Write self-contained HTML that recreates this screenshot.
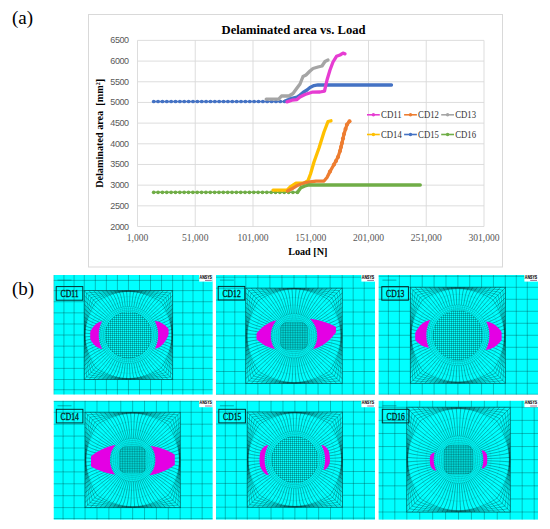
<!DOCTYPE html>
<html><head><meta charset="utf-8"><style>
html,body{margin:0;padding:0;background:#fff;}
body{width:550px;height:529px;overflow:hidden;position:relative;}
svg{display:block;}
.yt{font-family:"Liberation Sans",sans-serif;font-size:9px;letter-spacing:-0.45px;fill:#595959;}
.xt{font-family:"Liberation Serif",serif;font-size:9.6px;fill:#595959;}
.ti{font-family:"Liberation Serif",serif;font-size:13px;font-weight:bold;fill:#000;}
.al{font-family:"Liberation Serif",serif;font-size:10.2px;font-weight:bold;fill:#000;}
.lg{font-family:"Liberation Serif",serif;font-size:10px;fill:#333;}
.lab{font-family:"Liberation Serif",serif;font-size:19px;fill:#000;}
.pl{font-family:"Liberation Serif",serif;font-size:10px;fill:#082020;}
.an{font-family:"Liberation Sans",sans-serif;font-size:4.8px;font-weight:bold;fill:#000;}
</style></head><body>
<svg width="550" height="529" viewBox="0 0 550 529" style="position:absolute;left:0;top:0"><defs><filter id="bl" x="-5%" y="-5%" width="110%" height="110%"><feGaussianBlur stdDeviation="0.35"/></filter></defs>
<text x="12" y="24.4" class="lab">(a)</text>
<text x="12" y="294.8" class="lab">(b)</text>
<rect x="88.5" y="14.5" width="414" height="252.5" fill="#fff" stroke="#D9D9D9" stroke-width="1"/><line x1="137.5" x2="484.0" y1="226.50" y2="226.50" stroke="#D9D9D9" stroke-width="0.9"/><text x="128.6" y="229.50" text-anchor="end" class="yt">2000</text><line x1="137.5" x2="484.0" y1="205.82" y2="205.82" stroke="#D9D9D9" stroke-width="0.9"/><text x="128.6" y="208.82" text-anchor="end" class="yt">2500</text><line x1="137.5" x2="484.0" y1="185.14" y2="185.14" stroke="#D9D9D9" stroke-width="0.9"/><text x="128.6" y="188.14" text-anchor="end" class="yt">3000</text><line x1="137.5" x2="484.0" y1="164.47" y2="164.47" stroke="#D9D9D9" stroke-width="0.9"/><text x="128.6" y="167.47" text-anchor="end" class="yt">3500</text><line x1="137.5" x2="484.0" y1="143.79" y2="143.79" stroke="#D9D9D9" stroke-width="0.9"/><text x="128.6" y="146.79" text-anchor="end" class="yt">4000</text><line x1="137.5" x2="484.0" y1="123.11" y2="123.11" stroke="#D9D9D9" stroke-width="0.9"/><text x="128.6" y="126.11" text-anchor="end" class="yt">4500</text><line x1="137.5" x2="484.0" y1="102.43" y2="102.43" stroke="#D9D9D9" stroke-width="0.9"/><text x="128.6" y="105.43" text-anchor="end" class="yt">5000</text><line x1="137.5" x2="484.0" y1="81.76" y2="81.76" stroke="#D9D9D9" stroke-width="0.9"/><text x="128.6" y="84.76" text-anchor="end" class="yt">5500</text><line x1="137.5" x2="484.0" y1="61.08" y2="61.08" stroke="#D9D9D9" stroke-width="0.9"/><text x="128.6" y="64.08" text-anchor="end" class="yt">6000</text><line x1="137.5" x2="484.0" y1="40.40" y2="40.40" stroke="#D9D9D9" stroke-width="0.9"/><text x="128.6" y="43.40" text-anchor="end" class="yt">6500</text><line x1="137.50" x2="137.50" y1="40.4" y2="226.5" stroke="#D9D9D9" stroke-width="0.9"/><text x="137.50" y="241" text-anchor="middle" class="xt">1,000</text><line x1="195.25" x2="195.25" y1="40.4" y2="226.5" stroke="#D9D9D9" stroke-width="0.9"/><text x="195.25" y="241" text-anchor="middle" class="xt">51,000</text><line x1="253.00" x2="253.00" y1="40.4" y2="226.5" stroke="#D9D9D9" stroke-width="0.9"/><text x="253.00" y="241" text-anchor="middle" class="xt">101,000</text><line x1="310.75" x2="310.75" y1="40.4" y2="226.5" stroke="#D9D9D9" stroke-width="0.9"/><text x="310.75" y="241" text-anchor="middle" class="xt">151,000</text><line x1="368.50" x2="368.50" y1="40.4" y2="226.5" stroke="#D9D9D9" stroke-width="0.9"/><text x="368.50" y="241" text-anchor="middle" class="xt">201,000</text><line x1="426.25" x2="426.25" y1="40.4" y2="226.5" stroke="#D9D9D9" stroke-width="0.9"/><text x="426.25" y="241" text-anchor="middle" class="xt">251,000</text><line x1="484.00" x2="484.00" y1="40.4" y2="226.5" stroke="#D9D9D9" stroke-width="0.9"/><text x="484.00" y="241" text-anchor="middle" class="xt">301,000</text><text x="293.6" y="33.9" text-anchor="middle" class="ti" textLength="144" lengthAdjust="spacingAndGlyphs">Delaminated area vs. Load</text><text x="307.8" y="254.6" text-anchor="middle" class="al">Load [N]</text><text transform="translate(103.4,133.4) rotate(-90)" text-anchor="middle" class="al">Delaminated area&#160; [mm<tspan font-size="6" dy="-3">2</tspan><tspan dy="3">]</tspan></text><line x1="153.7" x2="284.7" y1="101.5" y2="101.5" stroke="#4472C4" stroke-width="1.6"/><circle cx="153.70" cy="101.5" r="1.85" fill="#4472C4"/><circle cx="158.07" cy="101.5" r="1.85" fill="#4472C4"/><circle cx="162.43" cy="101.5" r="1.85" fill="#4472C4"/><circle cx="166.80" cy="101.5" r="1.85" fill="#4472C4"/><circle cx="171.17" cy="101.5" r="1.85" fill="#4472C4"/><circle cx="175.53" cy="101.5" r="1.85" fill="#4472C4"/><circle cx="179.90" cy="101.5" r="1.85" fill="#4472C4"/><circle cx="184.27" cy="101.5" r="1.85" fill="#4472C4"/><circle cx="188.63" cy="101.5" r="1.85" fill="#4472C4"/><circle cx="193.00" cy="101.5" r="1.85" fill="#4472C4"/><circle cx="197.37" cy="101.5" r="1.85" fill="#4472C4"/><circle cx="201.73" cy="101.5" r="1.85" fill="#4472C4"/><circle cx="206.10" cy="101.5" r="1.85" fill="#4472C4"/><circle cx="210.47" cy="101.5" r="1.85" fill="#4472C4"/><circle cx="214.83" cy="101.5" r="1.85" fill="#4472C4"/><circle cx="219.20" cy="101.5" r="1.85" fill="#4472C4"/><circle cx="223.57" cy="101.5" r="1.85" fill="#4472C4"/><circle cx="227.93" cy="101.5" r="1.85" fill="#4472C4"/><circle cx="232.30" cy="101.5" r="1.85" fill="#4472C4"/><circle cx="236.67" cy="101.5" r="1.85" fill="#4472C4"/><circle cx="241.03" cy="101.5" r="1.85" fill="#4472C4"/><circle cx="245.40" cy="101.5" r="1.85" fill="#4472C4"/><circle cx="249.77" cy="101.5" r="1.85" fill="#4472C4"/><circle cx="254.13" cy="101.5" r="1.85" fill="#4472C4"/><circle cx="258.50" cy="101.5" r="1.85" fill="#4472C4"/><circle cx="262.87" cy="101.5" r="1.85" fill="#4472C4"/><circle cx="267.23" cy="101.5" r="1.85" fill="#4472C4"/><circle cx="271.60" cy="101.5" r="1.85" fill="#4472C4"/><circle cx="275.97" cy="101.5" r="1.85" fill="#4472C4"/><circle cx="280.33" cy="101.5" r="1.85" fill="#4472C4"/><circle cx="284.70" cy="101.5" r="1.85" fill="#4472C4"/><line x1="153.7" x2="297.3" y1="192.3" y2="192.3" stroke="#70AD47" stroke-width="1.6"/><circle cx="153.70" cy="192.3" r="1.85" fill="#70AD47"/><circle cx="158.05" cy="192.3" r="1.85" fill="#70AD47"/><circle cx="162.40" cy="192.3" r="1.85" fill="#70AD47"/><circle cx="166.75" cy="192.3" r="1.85" fill="#70AD47"/><circle cx="171.11" cy="192.3" r="1.85" fill="#70AD47"/><circle cx="175.46" cy="192.3" r="1.85" fill="#70AD47"/><circle cx="179.81" cy="192.3" r="1.85" fill="#70AD47"/><circle cx="184.16" cy="192.3" r="1.85" fill="#70AD47"/><circle cx="188.51" cy="192.3" r="1.85" fill="#70AD47"/><circle cx="192.86" cy="192.3" r="1.85" fill="#70AD47"/><circle cx="197.22" cy="192.3" r="1.85" fill="#70AD47"/><circle cx="201.57" cy="192.3" r="1.85" fill="#70AD47"/><circle cx="205.92" cy="192.3" r="1.85" fill="#70AD47"/><circle cx="210.27" cy="192.3" r="1.85" fill="#70AD47"/><circle cx="214.62" cy="192.3" r="1.85" fill="#70AD47"/><circle cx="218.97" cy="192.3" r="1.85" fill="#70AD47"/><circle cx="223.32" cy="192.3" r="1.85" fill="#70AD47"/><circle cx="227.68" cy="192.3" r="1.85" fill="#70AD47"/><circle cx="232.03" cy="192.3" r="1.85" fill="#70AD47"/><circle cx="236.38" cy="192.3" r="1.85" fill="#70AD47"/><circle cx="240.73" cy="192.3" r="1.85" fill="#70AD47"/><circle cx="245.08" cy="192.3" r="1.85" fill="#70AD47"/><circle cx="249.43" cy="192.3" r="1.85" fill="#70AD47"/><circle cx="253.78" cy="192.3" r="1.85" fill="#70AD47"/><circle cx="258.14" cy="192.3" r="1.85" fill="#70AD47"/><circle cx="262.49" cy="192.3" r="1.85" fill="#70AD47"/><circle cx="266.84" cy="192.3" r="1.85" fill="#70AD47"/><circle cx="271.19" cy="192.3" r="1.85" fill="#70AD47"/><circle cx="275.54" cy="192.3" r="1.85" fill="#70AD47"/><circle cx="279.89" cy="192.3" r="1.85" fill="#70AD47"/><circle cx="284.25" cy="192.3" r="1.85" fill="#70AD47"/><circle cx="288.60" cy="192.3" r="1.85" fill="#70AD47"/><circle cx="292.95" cy="192.3" r="1.85" fill="#70AD47"/><circle cx="297.30" cy="192.3" r="1.85" fill="#70AD47"/><polyline points="266.2,99.2 278.7,99.2 281.5,96.0 289.0,96.0 293.0,93.5 297.0,88.0 300.0,84.0 303.0,76.5 306.0,75.0 310.0,71.0 313.0,68.5 318.0,67.0 322.0,66.0 325.0,61.5 328.0,60.0" fill="none" stroke="#A5A5A5" stroke-width="3.3" stroke-linejoin="round" stroke-linecap="round"/><polyline points="284.7,101.3 288.0,99.8 292.0,98.3 297.0,97.0 300.0,95.0 303.0,92.5 307.0,90.0 310.0,87.5 314.0,85.6 318.0,84.9 325.0,85.0 391.5,85.0" fill="none" stroke="#4472C4" stroke-width="3.3" stroke-linejoin="round" stroke-linecap="round"/><polyline points="287.0,101.9 292.0,100.2 297.0,99.6 300.0,97.0 305.0,94.5 312.0,92.2 320.0,92.0 324.5,91.2 327.0,80.0 330.0,70.0 333.0,62.0 336.5,56.3 340.0,55.0 343.0,53.2 345.0,53.8" fill="none" stroke="#E63CD2" stroke-width="3.3" stroke-linejoin="round" stroke-linecap="round"/><polyline points="273.0,190.1 287.0,190.1 291.0,186.3 296.0,183.2 304.0,183.2 308.0,180.5 310.5,174.0 314.0,162.0 319.0,148.0 324.0,132.0 328.0,121.5 331.0,120.8" fill="none" stroke="#FFC000" stroke-width="3.3" stroke-linejoin="round" stroke-linecap="round"/><polyline points="287.5,191.0 293.0,188.2 298.0,185.2 304.0,183.0 310.0,182.0 316.0,181.2 324.0,181.0 327.0,177.5 330.0,171.5 334.0,164.5 338.0,157.0 340.0,151.0 342.0,143.0 344.0,134.0 347.0,124.5 349.5,121.3" fill="none" stroke="#ED7D31" stroke-width="3.3" stroke-linejoin="round" stroke-linecap="round"/><circle cx="330" cy="171.5" r="2.05" fill="#ED7D31"/><circle cx="334" cy="164.5" r="2.05" fill="#ED7D31"/><circle cx="338" cy="157" r="2.05" fill="#ED7D31"/><circle cx="340" cy="151" r="2.05" fill="#ED7D31"/><circle cx="342" cy="143" r="2.05" fill="#ED7D31"/><circle cx="344" cy="134" r="2.05" fill="#ED7D31"/><circle cx="347" cy="124.5" r="2.05" fill="#ED7D31"/><circle cx="349.5" cy="121.3" r="2.05" fill="#ED7D31"/><circle cx="336" cy="161" r="2.05" fill="#ED7D31"/><circle cx="341" cy="147" r="2.05" fill="#ED7D31"/><circle cx="343" cy="138.5" r="2.05" fill="#ED7D31"/><circle cx="345.5" cy="129" r="2.05" fill="#ED7D31"/><polyline points="297.5,192.2 301.0,187.6 305.0,186.0 309.0,185.0 420.3,185.0" fill="none" stroke="#70AD47" stroke-width="3.3" stroke-linejoin="round" stroke-linecap="round"/><line x1="367.0" x2="379.8" y1="114.8" y2="114.8" stroke="#E63CD2" stroke-width="1.6"/><circle cx="373.4" cy="114.8" r="1.7" fill="#E63CD2"/><text x="381.0" y="118.2" class="lg" textLength="20.8" lengthAdjust="spacingAndGlyphs">CD11</text><line x1="404.1" x2="416.90000000000003" y1="114.8" y2="114.8" stroke="#ED7D31" stroke-width="1.6"/><circle cx="410.5" cy="114.8" r="1.7" fill="#ED7D31"/><text x="418.1" y="118.2" class="lg" textLength="20.8" lengthAdjust="spacingAndGlyphs">CD12</text><line x1="441.2" x2="454.0" y1="114.8" y2="114.8" stroke="#A5A5A5" stroke-width="1.6"/><circle cx="447.59999999999997" cy="114.8" r="1.7" fill="#A5A5A5"/><text x="455.2" y="118.2" class="lg" textLength="20.8" lengthAdjust="spacingAndGlyphs">CD13</text><line x1="367.0" x2="379.8" y1="134.5" y2="134.5" stroke="#FFC000" stroke-width="1.6"/><circle cx="373.4" cy="134.5" r="1.7" fill="#FFC000"/><text x="381.0" y="137.9" class="lg" textLength="20.8" lengthAdjust="spacingAndGlyphs">CD14</text><line x1="404.1" x2="416.90000000000003" y1="134.5" y2="134.5" stroke="#4472C4" stroke-width="1.6"/><circle cx="410.5" cy="134.5" r="1.7" fill="#4472C4"/><text x="418.1" y="137.9" class="lg" textLength="20.8" lengthAdjust="spacingAndGlyphs">CD15</text><line x1="441.2" x2="454.0" y1="134.5" y2="134.5" stroke="#70AD47" stroke-width="1.6"/><circle cx="447.59999999999997" cy="134.5" r="1.7" fill="#70AD47"/><text x="455.2" y="137.9" class="lg" textLength="20.8" lengthAdjust="spacingAndGlyphs">CD16</text>
<svg x="53.5" y="275" width="159.3" height="119.7" viewBox="53.5 275 159.3 119.7" overflow="hidden"><rect x="53.5" y="275" width="159.3" height="119.7" fill="#00FFFF"/><g filter="url(#bl)"><path d="M84.3 275V394.7M74.1 275V394.7M63.9 275V394.7M53.7 275V394.7M172.6 275V394.7M182.8 275V394.7M193 275V394.7M203.2 275V394.7M95.34 275V394.7M106.38 275V394.7M117.41 275V394.7M128.45 275V394.7M139.49 275V394.7M150.52 275V394.7M161.56 275V394.7M53.5 290.6H212.8M53.5 280.4H212.8M53.5 379.5H212.8M53.5 389.7H212.8M53.5 301.71H212.8M53.5 312.83H212.8M53.5 323.94H212.8M53.5 335.05H212.8M53.5 346.16H212.8M53.5 357.27H212.8M53.5 368.39H212.8" stroke="#002626" stroke-width="0.6" stroke-opacity="0.5" fill="none"/><rect x="84.3" y="290.6" width="88.3" height="88.9" fill="#00FFFF" stroke="#002626" stroke-width="0.9" stroke-opacity="0.6"/><path d="M156.93 336.07L165.78 336.4Q169.19 336.52 172.6 336.97M156.77 338.19L165.58 339.18Q169.09 339.58 172.6 340.92M156.45 340.3L165.16 341.95Q168.88 342.65 172.6 344.89M155.98 342.38L164.54 344.67Q168.57 345.75 172.6 348.89M155.35 344.41L163.71 347.34Q168.16 348.89 172.6 352.92M154.57 346.4L162.69 349.94Q167.65 352.1 172.6 357.02M153.65 348.32L161.48 352.46Q167.04 355.4 172.6 361.2M152.58 350.16L160.08 354.88Q166.34 358.81 172.6 365.47M151.38 351.92L158.51 357.19Q165.55 362.38 172.6 369.88M150.05 353.59L156.77 359.37Q164.68 366.18 172.6 374.45M148.6 355.15L154.87 361.42Q163.73 370.28 172.6 379.25M147.04 356.6L152.82 363.32Q159.78 371.41 168.03 379.5M145.37 357.93L150.64 365.06Q155.96 372.28 163.44 379.5M143.61 359.13L148.33 366.63Q152.37 373.07 159.02 379.5M141.77 360.2L145.91 368.03Q148.94 373.77 154.74 379.5M139.85 361.12L143.39 369.24Q145.63 374.37 150.55 379.5M137.86 361.9L140.79 370.26Q142.41 374.88 146.45 379.5M135.83 362.53L138.12 371.09Q139.25 375.29 142.4 379.5M133.75 363L135.4 371.71Q136.13 375.6 138.39 379.5M131.64 363.32L132.63 372.13Q133.05 375.81 134.42 379.5M129.52 363.48L129.85 372.33Q129.98 375.92 130.46 379.5M127.38 363.48L127.05 372.33Q126.92 375.92 126.51 379.5M125.26 363.32L124.27 372.13Q123.85 375.81 122.55 379.5M123.15 363L121.5 371.71Q120.77 375.6 118.58 379.5M121.07 362.53L118.78 371.09Q117.65 375.29 114.57 379.5M119.04 361.9L116.11 370.26Q114.49 374.88 110.52 379.5M117.05 361.12L113.51 369.24Q111.27 374.37 106.42 379.5M115.13 360.2L110.99 368.03Q107.96 373.77 102.23 379.5M113.29 359.13L108.57 366.63Q104.53 373.07 97.95 379.5M111.53 357.93L106.26 365.06Q100.94 372.28 93.53 379.5M109.86 356.6L104.08 363.32Q97.12 371.41 88.94 379.5M108.3 355.15L102.03 361.42Q93.17 370.28 84.3 379.32M106.85 353.59L100.13 359.37Q92.22 366.18 84.3 374.52M105.52 351.92L98.39 357.19Q91.35 362.38 84.3 369.95M104.32 350.16L96.82 354.88Q90.56 358.81 84.3 365.54M103.25 348.32L95.42 352.46Q89.86 355.4 84.3 361.27M102.33 346.4L94.21 349.94Q89.25 352.1 84.3 357.09M101.55 344.41L93.19 347.34Q88.74 348.89 84.3 352.99M100.92 342.38L92.36 344.67Q88.33 345.75 84.3 348.96M100.45 340.3L91.74 341.95Q88.02 342.65 84.3 344.96M100.13 338.19L91.32 339.18Q87.81 339.58 84.3 340.99M99.97 336.07L91.12 336.4Q87.71 336.52 84.3 337.04M99.97 333.93L91.12 333.6Q87.71 333.48 84.3 333.1M100.13 331.81L91.32 330.82Q87.81 330.42 84.3 329.15M100.45 329.7L91.74 328.05Q88.02 327.35 84.3 325.18M100.92 327.62L92.36 325.33Q88.33 324.25 84.3 321.18M101.55 325.59L93.19 322.66Q88.74 321.11 84.3 317.15M102.33 323.6L94.21 320.06Q89.25 317.9 84.3 313.05M103.25 321.68L95.42 317.54Q89.86 314.6 84.3 308.87M104.32 319.84L96.82 315.12Q90.56 311.19 84.3 304.6M105.52 318.08L98.39 312.81Q91.35 307.62 84.3 300.19M106.85 316.41L100.13 310.63Q92.22 303.82 84.3 295.62M108.3 314.85L102.03 308.58Q93.17 299.72 84.3 290.82M109.86 313.4L104.08 306.68Q97.16 298.64 88.9 290.6M111.53 312.07L106.26 304.94Q100.97 297.77 93.48 290.6M113.29 310.87L108.57 303.37Q104.56 296.98 97.9 290.6M115.13 309.8L110.99 301.97Q107.99 296.28 102.18 290.6M117.05 308.88L113.51 300.76Q111.29 295.68 106.36 290.6M119.04 308.1L116.11 299.74Q114.51 295.17 110.46 290.6M121.07 307.47L118.78 298.91Q117.67 294.76 114.51 290.6M123.15 307L121.5 298.29Q120.78 294.45 118.51 290.6M125.26 306.68L124.27 297.87Q123.86 294.24 122.48 290.6M127.38 306.52L127.05 297.67Q126.92 294.13 126.44 290.6M129.52 306.52L129.85 297.67Q129.98 294.13 130.39 290.6M131.64 306.68L132.63 297.87Q133.04 294.24 134.35 290.6M133.75 307L135.4 298.29Q136.12 294.45 138.32 290.6M135.83 307.47L138.12 298.91Q139.23 294.76 142.32 290.6M137.86 308.1L140.79 299.74Q142.39 295.17 146.37 290.6M139.85 308.88L143.39 300.76Q145.61 295.68 150.47 290.6M141.77 309.8L145.91 301.97Q148.91 296.28 154.65 290.6M143.61 310.87L148.33 303.37Q152.34 296.98 158.93 290.6M145.37 312.07L150.64 304.94Q155.93 297.77 163.35 290.6M147.04 313.4L152.82 306.68Q159.74 298.64 167.93 290.6M148.6 314.85L154.87 308.58Q163.73 299.72 172.6 290.75M150.05 316.41L156.77 310.63Q164.68 303.82 172.6 295.55M151.38 318.08L158.51 312.81Q165.55 307.62 172.6 300.12M152.58 319.84L160.08 315.12Q166.34 311.19 172.6 304.53M153.65 321.68L161.48 317.54Q167.04 314.6 172.6 308.8M154.57 323.6L162.69 320.06Q167.65 317.9 172.6 312.98M155.35 325.59L163.71 322.66Q168.16 321.11 172.6 317.08M155.98 327.62L164.54 325.33Q168.57 324.25 172.6 321.11M156.45 329.7L165.16 328.05Q168.88 327.35 172.6 325.11M156.77 331.81L165.58 330.82Q169.09 330.42 172.6 329.08M156.93 333.93L165.78 333.6Q169.19 333.48 172.6 333.03" stroke="#002626" stroke-width="0.6" stroke-opacity="0.6" fill="none"/><path d="M95.03 335a33.42 33.42 0 1 0 66.84 0a33.42 33.42 0 1 0 -66.84 0M90.11 335a38.34 38.34 0 1 0 76.69 0a38.34 38.34 0 1 0 -76.69 0M85.18 335a43.27 43.27 0 1 0 86.53 0a43.27 43.27 0 1 0 -86.53 0" stroke="#002626" stroke-width="0.5" stroke-opacity="0.15" fill="none"/><path d="M171.86 335L171.81 337.27L171.67 339.54L171.42 341.81L171.08 344.06L170.64 346.3L170.1 348.53L169.47 350.75L168.75 352.94L167.93 355.12L167.03 357.28L166.05 359.42L164.98 361.54L163.83 363.65L162.6 365.75L161.3 367.85L159.25 369.21L157.15 370.44L155.03 371.59L152.9 372.66L150.76 373.64L148.6 374.54L146.42 375.36L144.22 376.08L142 376.71L139.77 377.24L137.52 377.68L135.27 378.03L133 378.27L130.73 378.42L128.45 378.47L126.17 378.42L123.9 378.27L121.63 378.03L119.38 377.68L117.13 377.24L114.9 376.71L112.68 376.08L110.48 375.36L108.3 374.54L106.14 373.64L104 372.66L101.87 371.59L99.75 370.44L97.65 369.21L95.6 367.85L94.3 365.75L93.07 363.65L91.92 361.54L90.85 359.42L89.87 357.28L88.97 355.12L88.15 352.94L87.43 350.75L86.8 348.53L86.26 346.3L85.82 344.06L85.48 341.81L85.23 339.54L85.09 337.27L85.04 335L85.09 332.73L85.23 330.46L85.48 328.19L85.82 325.94L86.26 323.7L86.8 321.47L87.43 319.25L88.15 317.06L88.97 314.88L89.87 312.72L90.85 310.58L91.92 308.46L93.07 306.35L94.3 304.25L95.6 302.15L97.66 300.81L99.77 299.58L101.88 298.43L104.01 297.36L106.15 296.37L108.31 295.47L110.49 294.66L112.69 293.94L114.9 293.31L117.14 292.77L119.38 292.33L121.64 291.99L123.9 291.74L126.18 291.59L128.45 291.54L130.72 291.59L133 291.74L135.26 291.99L137.52 292.33L139.76 292.77L142 293.31L144.21 293.94L146.41 294.66L148.59 295.47L150.75 296.37L152.89 297.36L155.02 298.43L157.13 299.58L159.24 300.81L161.3 302.15L162.6 304.25L163.83 306.35L164.98 308.46L166.05 310.58L167.03 312.72L167.93 314.88L168.75 317.06L169.47 319.25L170.1 321.47L170.64 323.7L171.08 325.94L171.42 328.19L171.67 330.46L171.81 332.73L171.86 335M172.01 335L171.97 337.28L171.85 339.56L171.66 341.84L171.38 344.13L171.03 346.41L170.6 348.7L170.1 350.99L169.52 353.28L168.87 355.59L168.15 357.92L167.36 360.27L166.5 362.65L165.58 365.07L164.6 367.55L163.56 370.11L161.11 371.27L158.61 372.25L156.18 373.17L153.79 374.02L151.44 374.81L149.1 375.53L146.79 376.18L144.48 376.76L142.18 377.27L139.89 377.7L137.6 378.05L135.31 378.32L133.02 378.52L130.74 378.64L128.45 378.68L126.16 378.64L123.88 378.52L121.59 378.32L119.3 378.05L117.01 377.7L114.72 377.27L112.42 376.76L110.11 376.18L107.8 375.53L105.46 374.81L103.11 374.02L100.72 373.17L98.29 372.25L95.79 371.27L93.34 370.11L92.3 367.55L91.32 365.07L90.4 362.65L89.54 360.27L88.75 357.92L88.03 355.59L87.38 353.28L86.8 350.99L86.3 348.7L85.87 346.41L85.52 344.13L85.24 341.84L85.05 339.56L84.93 337.28L84.89 335L84.93 332.72L85.05 330.44L85.24 328.16L85.52 325.87L85.87 323.59L86.3 321.3L86.8 319.01L87.38 316.72L88.03 314.41L88.75 312.08L89.54 309.73L90.4 307.35L91.32 304.93L92.3 302.45L93.34 299.89L95.82 298.76L98.31 297.78L100.74 296.86L103.13 296.01L105.48 295.22L107.81 294.5L110.13 293.85L112.43 293.27L114.73 292.77L117.02 292.34L119.31 291.99L121.59 291.71L123.88 291.51L126.16 291.39L128.45 291.36L130.74 291.39L133.02 291.51L135.31 291.71L137.59 291.99L139.88 292.34L142.17 292.77L144.47 293.27L146.77 293.85L149.09 294.5L151.42 295.22L153.77 296.01L156.16 296.86L158.59 297.78L161.08 298.76L163.56 299.89L164.6 302.45L165.58 304.93L166.5 307.35L167.36 309.73L168.15 312.08L168.87 314.41L169.52 316.72L170.1 319.01L170.6 321.3L171.03 323.59L171.38 325.87L171.66 328.16L171.85 330.44L171.97 332.72L172.01 335M172.16 335L172.13 337.29L172.04 339.58L171.89 341.88L171.69 344.19L171.42 346.51L171.1 348.86L170.72 351.23L170.29 353.63L169.8 356.07L169.26 358.56L168.67 361.12L168.03 363.75L167.34 366.49L166.6 369.35L165.82 372.37L162.96 373.33L160.08 374.06L157.33 374.75L154.68 375.39L152.11 375.99L149.61 376.53L147.16 377.01L144.74 377.45L142.36 377.82L140.01 378.15L137.68 378.41L135.36 378.62L133.05 378.76L130.75 378.85L128.45 378.88L126.15 378.85L123.85 378.76L121.54 378.62L119.22 378.41L116.89 378.15L114.54 377.82L112.16 377.45L109.74 377.01L107.29 376.53L104.79 375.99L102.22 375.39L99.57 374.75L96.82 374.06L93.94 373.33L91.08 372.37L90.3 369.35L89.56 366.49L88.87 363.75L88.23 361.12L87.64 358.56L87.1 356.07L86.61 353.63L86.18 351.23L85.8 348.86L85.48 346.51L85.21 344.19L85.01 341.88L84.86 339.58L84.77 337.29L84.74 335L84.77 332.71L84.86 330.42L85.01 328.12L85.21 325.81L85.48 323.49L85.8 321.14L86.18 318.77L86.61 316.37L87.1 313.93L87.64 311.44L88.23 308.88L88.87 306.25L89.56 303.51L90.3 300.65L91.08 297.63L93.99 296.72L96.86 295.99L99.6 295.3L102.25 294.66L104.82 294.06L107.32 293.52L109.77 293.04L112.18 292.6L114.55 292.23L116.9 291.9L119.23 291.64L121.55 291.43L123.86 291.29L126.15 291.2L128.45 291.17L130.75 291.2L133.04 291.29L135.35 291.43L137.67 291.64L140 291.9L142.35 292.23L144.72 292.6L147.13 293.04L149.58 293.52L152.08 294.06L154.65 294.66L157.3 295.3L160.04 295.99L162.91 296.72L165.82 297.63L166.6 300.65L167.34 303.51L168.03 306.25L168.67 308.88L169.26 311.44L169.8 313.93L170.29 316.37L170.72 318.77L171.1 321.14L171.42 323.49L171.69 325.81L171.89 328.12L172.04 330.42L172.13 332.71L172.16 335M172.31 335L172.29 337.3L172.23 339.6L172.13 341.92L171.99 344.25L171.81 346.62L171.6 349.02L171.35 351.47L171.06 353.97L170.73 356.54L170.37 359.2L169.98 361.97L169.55 364.86L169.09 367.91L168.6 371.15L168.08 374.63L164.81 375.38L161.55 375.87L158.48 376.33L155.57 376.76L152.79 377.16L150.11 377.52L147.52 377.84L145.01 378.13L142.55 378.38L140.13 378.6L137.75 378.77L135.4 378.91L133.08 379.01L130.76 379.07L128.45 379.09L126.14 379.07L123.82 379.01L121.5 378.91L119.15 378.77L116.77 378.6L114.35 378.38L111.89 378.13L109.38 377.84L106.79 377.52L104.11 377.16L101.33 376.76L98.42 376.33L95.35 375.87L92.09 375.38L88.82 374.63L88.3 371.15L87.81 367.91L87.35 364.86L86.92 361.97L86.53 359.2L86.17 356.54L85.84 353.97L85.55 351.47L85.3 349.02L85.09 346.62L84.91 344.25L84.77 341.92L84.67 339.6L84.61 337.3L84.59 335L84.61 332.7L84.67 330.4L84.77 328.08L84.91 325.75L85.09 323.38L85.3 320.98L85.55 318.53L85.84 316.03L86.17 313.46L86.53 310.8L86.92 308.03L87.35 305.14L87.81 302.09L88.3 298.85L88.82 295.37L92.15 294.68L95.4 294.19L98.47 293.73L101.37 293.3L104.15 292.91L106.82 292.55L109.41 292.22L111.92 291.94L114.38 291.68L116.79 291.47L119.16 291.29L121.51 291.16L123.83 291.06L126.14 291L128.45 290.98L130.76 291L133.07 291.06L135.39 291.16L137.74 291.29L140.11 291.47L142.52 291.68L144.98 291.94L147.49 292.22L150.08 292.55L152.75 292.91L155.53 293.3L158.43 293.73L161.5 294.19L164.75 294.68L168.08 295.37L168.6 298.85L169.09 302.09L169.55 305.14L169.98 308.03L170.37 310.8L170.73 313.46L171.06 316.03L171.35 318.53L171.6 320.98L171.81 323.38L171.99 325.75L172.13 328.08L172.23 330.4L172.29 332.7L172.31 335M172.45 335L172.44 337.31L172.41 339.62L172.36 341.96L172.3 344.32L172.21 346.72L172.1 349.18L171.97 351.71L171.83 354.31L171.67 357.02L171.49 359.85L171.29 362.82L171.08 365.97L170.85 369.33L170.6 372.95L170.34 376.89L166.67 377.44L163.02 377.69L159.63 377.92L156.46 378.13L153.47 378.33L150.62 378.51L147.89 378.67L145.27 378.82L142.73 378.94L140.25 379.05L137.83 379.14L135.45 379.21L133.1 379.25L130.77 379.28L128.45 379.29L126.13 379.28L123.8 379.25L121.45 379.21L119.07 379.14L116.65 379.05L114.17 378.94L111.63 378.82L109.01 378.67L106.28 378.51L103.43 378.33L100.44 378.13L97.27 377.92L93.88 377.69L90.23 377.44L86.56 376.89L86.3 372.95L86.05 369.33L85.82 365.97L85.61 362.82L85.41 359.85L85.23 357.02L85.07 354.31L84.93 351.71L84.8 349.18L84.69 346.72L84.6 344.32L84.54 341.96L84.49 339.62L84.46 337.31L84.45 335L84.46 332.69L84.49 330.38L84.54 328.04L84.6 325.68L84.69 323.28L84.8 320.82L84.93 318.29L85.07 315.69L85.23 312.98L85.41 310.15L85.61 307.18L85.82 304.03L86.05 300.67L86.3 297.05L86.56 293.11L90.31 292.64L93.95 292.4L97.33 292.17L100.49 291.95L103.48 291.75L106.32 291.57L109.04 291.41L111.66 291.27L114.2 291.14L116.67 291.03L119.09 290.95L121.46 290.88L123.81 290.83L126.13 290.8L128.45 290.79L130.77 290.8L133.09 290.83L135.44 290.88L137.81 290.95L140.23 291.03L142.7 291.14L145.24 291.27L147.86 291.41L150.58 291.57L153.42 291.75L156.41 291.95L159.57 292.17L162.95 292.4L166.59 292.64L170.34 293.11L170.6 297.05L170.85 300.67L171.08 304.03L171.29 307.18L171.49 310.15L171.67 312.98L171.83 315.69L171.97 318.29L172.1 320.82L172.21 323.28L172.3 325.68L172.36 328.04L172.41 330.38L172.44 332.69L172.45 335" stroke="#002626" stroke-width="0.6" stroke-opacity="0.5" fill="none"/><path d="M105.08 335a23.37 23.37 0 1 0 46.74 0a23.37 23.37 0 1 0 -46.74 0M103.37 335a25.08 25.08 0 1 0 50.16 0a25.08 25.08 0 1 0 -50.16 0M101.66 335a26.79 26.79 0 1 0 53.58 0a26.79 26.79 0 1 0 -53.58 0M99.95 335a28.5 28.5 0 1 0 57 0a28.5 28.5 0 1 0 -57 0M151.82 335L156.95 335M151.75 336.83L156.86 337.24M151.53 338.66L156.6 339.46M151.17 340.46L156.16 341.65M150.68 342.22L155.56 343.81M150.04 343.94L154.78 345.91M149.27 345.61L153.84 347.94M148.38 347.21L152.75 349.89M147.36 348.74L151.51 351.75M146.22 350.18L150.12 353.51M144.98 351.53L148.6 355.15M143.63 352.77L146.96 356.67M142.19 353.91L145.2 358.06M140.66 354.93L143.34 359.3M139.06 355.82L141.39 360.39M137.39 356.59L139.36 361.33M135.67 357.23L137.26 362.11M133.91 357.72L135.1 362.71M132.11 358.08L132.91 363.15M130.28 358.3L130.69 363.41M128.45 358.37L128.45 363.5M126.62 358.3L126.21 363.41M124.79 358.08L123.99 363.15M122.99 357.72L121.8 362.71M121.23 357.23L119.64 362.11M119.51 356.59L117.54 361.33M117.84 355.82L115.51 360.39M116.24 354.93L113.56 359.3M114.71 353.91L111.7 358.06M113.27 352.77L109.94 356.67M111.92 351.53L108.3 355.15M110.68 350.18L106.78 353.51M109.54 348.74L105.39 351.75M108.52 347.21L104.15 349.89M107.63 345.61L103.06 347.94M106.86 343.94L102.12 345.91M106.22 342.22L101.34 343.81M105.73 340.46L100.74 341.65M105.37 338.66L100.3 339.46M105.15 336.83L100.04 337.24M105.08 335L99.95 335M105.15 333.17L100.04 332.76M105.37 331.34L100.3 330.54M105.73 329.54L100.74 328.35M106.22 327.78L101.34 326.19M106.86 326.06L102.12 324.09M107.63 324.39L103.06 322.06M108.52 322.79L104.15 320.11M109.54 321.26L105.39 318.25M110.68 319.82L106.78 316.49M111.92 318.47L108.3 314.85M113.27 317.23L109.94 313.33M114.71 316.09L111.7 311.94M116.24 315.07L113.56 310.7M117.84 314.18L115.51 309.61M119.51 313.41L117.54 308.67M121.23 312.77L119.64 307.89M122.99 312.28L121.8 307.29M124.79 311.92L123.99 306.85M126.62 311.7L126.21 306.59M128.45 311.63L128.45 306.5M130.28 311.7L130.69 306.59M132.11 311.92L132.91 306.85M133.91 312.28L135.1 307.29M135.67 312.77L137.26 307.89M137.39 313.41L139.36 308.67M139.06 314.18L141.39 309.61M140.66 315.07L143.34 310.7M142.19 316.09L145.2 311.94M143.63 317.23L146.96 313.33M144.98 318.47L148.6 314.85M146.22 319.82L150.12 316.49M147.36 321.26L151.51 318.25M148.38 322.79L152.75 320.11M149.27 324.39L153.84 322.06M150.04 326.06L154.78 324.09M150.68 327.78L155.56 326.19M151.17 329.54L156.16 328.35M151.53 331.34L156.6 330.54M151.75 333.17L156.86 332.76" stroke="#002626" stroke-width="0.35" stroke-opacity="0.5" fill="none"/><path d="M106.5 326.98V343.02M119.29 313.5H137.61M108.5 322.83V347.17M115.57 315.5H141.33M110.5 320.03V349.97M112.96 317.5H143.94M112.5 317.92V352.08M110.96 319.5H145.94M114.5 316.25V353.75M109.37 321.5H147.53M116.5 314.92V355.08M108.11 323.5H148.79M118.5 313.85V356.15M107.1 325.5H149.8M120.5 313.02V356.98M106.32 327.5H150.58M122.5 312.4V357.6M105.74 329.5H151.16M124.5 311.97V358.03M105.34 331.5H151.56M126.5 311.71V358.29M105.13 333.5H151.77M128.5 311.63V358.37M105.09 335.5H151.81M130.5 311.72V358.28M105.21 337.5H151.69M132.5 311.98V358.02M105.52 339.5H151.38M134.5 312.43V357.57M106 341.5H150.9M136.5 313.06V356.94M106.68 343.5H150.22M138.5 313.9V356.1M107.57 345.5H149.33M140.5 314.98V355.02M108.7 347.5H148.2M142.5 316.33V353.67M110.12 349.5H146.78M144.5 318.01V351.99M111.9 351.5H145M146.5 320.16V349.84M114.17 353.5H142.73M148.5 322.99V347.01M117.23 355.5H139.67M150.5 327.26V342.74M122.13 357.5H134.77" stroke="#002626" stroke-width="0.45" stroke-opacity="0.65" fill="none"/></g><path d="M101.76 321.3L99.25 321.99L97.9 322.69L96.83 323.38L95.93 324.07L95.14 324.76L94.45 325.45L93.82 326.15L93.26 326.84L92.75 327.53L92.27 328.23L91.84 328.92L91.43 329.61L91.05 330.3L90.69 331L90.35 331.69L90.2 332.38L90.2 333.07L90.2 333.76L90.2 334.46L90.2 335.15L90.2 335.84L90.2 336.54L90.2 337.23L90.2 337.92L90.2 338.61L90.36 339.31L90.73 340L91.12 340.69L91.55 341.38L92 342.07L92.49 342.77L93.02 343.46L93.61 344.15L94.26 344.85L94.98 345.54L95.8 346.23L96.74 346.92L97.86 347.62L99.27 348.31L101.92 349L102.22 349L101.86 348.31L101.53 347.62L101.22 346.92L100.93 346.23L100.66 345.54L100.41 344.85L100.18 344.15L99.97 343.46L99.77 342.77L99.6 342.07L99.44 341.38L99.29 340.69L99.17 340L99.06 339.31L98.97 338.61L98.89 337.92L98.83 337.23L98.79 336.54L98.76 335.84L98.75 335.15L98.75 334.46L98.78 333.76L98.81 333.07L98.86 332.38L98.93 331.69L99.02 331L99.12 330.3L99.24 329.61L99.37 328.92L99.53 328.23L99.69 327.53L99.88 326.84L100.09 326.15L100.31 325.45L100.55 324.76L100.81 324.07L101.09 323.38L101.39 322.69L101.72 321.99L102.06 321.3Z" fill="#E400E4"/><path d="M154.93 320.9L158.35 321.6L160.14 322.29L161.56 322.99L162.76 323.69L163.8 324.39L164.73 325.08L165.56 325.78L166.32 326.48L167.01 327.18L167.66 327.88L168.25 328.57L168.6 329.27L168.6 329.97L168.6 330.66L168.6 331.36L168.6 332.06L168.6 332.76L168.6 333.45L168.6 334.15L168.49 334.85L168.19 335.55L167.88 336.25L167.55 336.94L167.22 337.64L166.87 338.34L166.5 339.04L166.12 339.73L165.71 340.43L165.27 341.13L164.8 341.82L164.3 342.52L163.75 343.22L163.16 343.92L162.5 344.62L161.78 345.31L160.97 346.01L160.04 346.71L158.95 347.41L157.6 348.1L155.09 348.8L154.79 348.8L155.14 348.1L155.47 347.41L155.77 346.71L156.06 346.01L156.32 345.31L156.57 344.62L156.79 343.92L157 343.22L157.19 342.52L157.36 341.82L157.52 341.13L157.65 340.43L157.77 339.73L157.88 339.04L157.96 338.34L158.03 337.64L158.09 336.94L158.12 336.25L158.15 335.55L158.15 334.85L158.14 334.15L158.11 333.45L158.07 332.76L158.01 332.06L157.93 331.36L157.84 330.66L157.72 329.97L157.6 329.27L157.45 328.57L157.29 327.88L157.11 327.18L156.91 326.48L156.7 325.78L156.46 325.08L156.21 324.39L155.94 323.69L155.64 322.99L155.33 322.29L154.99 321.6L154.63 320.9Z" fill="#E400E4"/><rect x="56.2" y="286.6" width="26.6" height="13.6" fill="none" stroke="#062828" stroke-width="0.95"/><text x="69.6" y="296.94" text-anchor="middle" class="pl" textLength="18.3" stroke="#082020" stroke-width="0.3" lengthAdjust="spacingAndGlyphs">CD11</text><rect x="57.5" y="279.6" width="14" height="1.1" fill="#004848" opacity="0.4"/><rect x="199.2" y="274.5" width="13.6" height="7.1" fill="#fff"/><text x="199.6" y="278.7" class="an" textLength="12.4" lengthAdjust="spacingAndGlyphs" stroke="#000" stroke-width="0.08">ANSYS</text><rect x="205" y="279.9" width="6.8" height="1.0" fill="#804070" opacity="0.75"/></svg><svg x="215.9" y="275" width="159.1" height="119.7" viewBox="215.9 275 159.1 119.7" overflow="hidden"><rect x="215.9" y="275" width="159.1" height="119.7" fill="#00FFFF"/><g filter="url(#bl)"><path d="M245.8 275V394.7M234.8 275V394.7M223.8 275V394.7M342.2 275V394.7M353.2 275V394.7M364.2 275V394.7M257.85 275V394.7M269.9 275V394.7M281.95 275V394.7M294 275V394.7M306.05 275V394.7M318.1 275V394.7M330.15 275V394.7M215.9 288.2H375M215.9 277.2H375M215.9 383.4H375M215.9 394.4H375M215.9 300.1H375M215.9 312H375M215.9 323.9H375M215.9 335.8H375M215.9 347.7H375M215.9 359.6H375M215.9 371.5H375" stroke="#002626" stroke-width="0.6" stroke-opacity="0.5" fill="none"/><rect x="245.8" y="288.2" width="96.4" height="95.2" fill="#00FFFF" stroke="#002626" stroke-width="0.9" stroke-opacity="0.6"/><path d="M315.98 336.62L330.76 337.18Q336.48 337.39 342.2 337.94M315.86 338.26L330.56 339.92Q336.38 340.57 342.2 342.22M315.62 339.89L330.15 342.64Q336.17 343.78 342.2 346.52M315.25 341.49L329.54 345.32Q335.87 347.02 342.2 350.85M314.77 343.07L328.72 347.95Q335.46 350.31 342.2 355.23M314.16 344.6L327.72 350.51Q334.96 353.67 342.2 359.67M313.45 346.08L326.53 352.99Q334.36 357.13 342.2 364.2M312.63 347.5L325.15 355.37Q333.67 360.73 342.2 368.84M311.7 348.86L323.6 357.65Q332.9 364.51 342.2 373.62M310.68 350.15L321.88 359.8Q332.04 368.54 342.2 378.58M309.56 351.36L320.01 361.81Q330.81 372.61 341.81 383.4M308.35 352.48L318 363.68Q326.48 373.54 336.63 383.4M307.06 353.5L315.85 365.4Q322.49 374.4 331.68 383.4M305.7 354.43L313.57 366.95Q318.74 375.17 326.92 383.4M304.28 355.25L311.19 368.33Q315.17 375.86 322.3 383.4M302.8 355.96L308.71 369.52Q311.74 376.46 317.79 383.4M301.27 356.57L306.15 370.52Q308.4 376.96 313.37 383.4M299.69 357.05L303.52 371.34Q305.14 377.37 309 383.4M298.09 357.42L300.84 371.95Q301.92 377.67 304.69 383.4M296.46 357.66L298.12 372.36Q298.74 377.88 300.4 383.4M294.82 357.78L295.38 372.56Q295.58 377.98 296.13 383.4M293.18 357.78L292.62 372.56Q292.42 377.98 291.87 383.4M291.54 357.66L289.88 372.36Q289.26 377.88 287.6 383.4M289.91 357.42L287.16 371.95Q286.08 377.67 283.31 383.4M288.31 357.05L284.48 371.34Q282.86 377.37 279 383.4M286.73 356.57L281.85 370.52Q279.6 376.96 274.63 383.4M285.2 355.96L279.29 369.52Q276.26 376.46 270.21 383.4M283.72 355.25L276.81 368.33Q272.83 375.86 265.7 383.4M282.3 354.43L274.43 366.95Q269.26 375.17 261.08 383.4M280.94 353.5L272.15 365.4Q265.51 374.4 256.32 383.4M279.65 352.48L270 363.68Q261.52 373.54 251.37 383.4M278.44 351.36L267.99 361.81Q257.19 372.61 246.19 383.4M277.32 350.15L266.12 359.8Q255.96 368.54 245.8 378.58M276.3 348.86L264.4 357.65Q255.1 364.51 245.8 373.62M275.37 347.5L262.85 355.37Q254.33 360.73 245.8 368.84M274.55 346.08L261.47 352.99Q253.64 357.13 245.8 364.2M273.84 344.6L260.28 350.51Q253.04 353.67 245.8 359.67M273.23 343.07L259.28 347.95Q252.54 350.31 245.8 355.23M272.75 341.49L258.46 345.32Q252.13 347.02 245.8 350.85M272.38 339.89L257.85 342.64Q251.83 343.78 245.8 346.52M272.14 338.26L257.44 339.92Q251.62 340.57 245.8 342.22M272.02 336.62L257.24 337.18Q251.52 337.39 245.8 337.94M272.02 334.98L257.24 334.42Q251.52 334.21 245.8 333.66M272.14 333.34L257.44 331.68Q251.62 331.03 245.8 329.38M272.38 331.71L257.85 328.96Q251.83 327.82 245.8 325.08M272.75 330.11L258.46 326.28Q252.13 324.58 245.8 320.75M273.23 328.53L259.28 323.65Q252.54 321.29 245.8 316.37M273.84 327L260.28 321.09Q253.04 317.93 245.8 311.93M274.55 325.52L261.47 318.61Q253.64 314.47 245.8 307.4M275.37 324.1L262.85 316.23Q254.33 310.87 245.8 302.76M276.3 322.74L264.4 313.95Q255.1 307.09 245.8 297.98M277.32 321.45L266.12 311.8Q255.96 303.06 245.8 293.02M278.44 320.24L267.99 309.79Q257.19 298.99 246.19 288.2M279.65 319.12L270 307.92Q261.52 298.06 251.37 288.2M280.94 318.1L272.15 306.2Q265.51 297.2 256.32 288.2M282.3 317.17L274.43 304.65Q269.26 296.43 261.08 288.2M283.72 316.35L276.81 303.27Q272.83 295.74 265.7 288.2M285.2 315.64L279.29 302.08Q276.26 295.14 270.21 288.2M286.73 315.03L281.85 301.08Q279.6 294.64 274.63 288.2M288.31 314.55L284.48 300.26Q282.86 294.23 279 288.2M289.91 314.18L287.16 299.65Q286.08 293.93 283.31 288.2M291.54 313.94L289.88 299.24Q289.26 293.72 287.6 288.2M293.18 313.82L292.62 299.04Q292.42 293.62 291.87 288.2M294.82 313.82L295.38 299.04Q295.58 293.62 296.13 288.2M296.46 313.94L298.12 299.24Q298.74 293.72 300.4 288.2M298.09 314.18L300.84 299.65Q301.92 293.93 304.69 288.2M299.69 314.55L303.52 300.26Q305.14 294.23 309 288.2M301.27 315.03L306.15 301.08Q308.4 294.64 313.37 288.2M302.8 315.64L308.71 302.08Q311.74 295.14 317.79 288.2M304.28 316.35L311.19 303.27Q315.17 295.74 322.3 288.2M305.7 317.17L313.57 304.65Q318.74 296.43 326.92 288.2M307.06 318.1L315.85 306.2Q322.49 297.2 331.68 288.2M308.35 319.12L318 307.92Q326.48 298.06 336.63 288.2M309.56 320.24L320.01 309.79Q330.81 298.99 341.81 288.2M310.68 321.45L321.88 311.8Q332.04 303.06 342.2 293.02M311.7 322.74L323.6 313.95Q332.9 307.09 342.2 297.98M312.63 324.1L325.15 316.23Q333.67 310.87 342.2 302.76M313.45 325.52L326.53 318.61Q334.36 314.47 342.2 307.4M314.16 327L327.72 321.09Q334.96 317.93 342.2 311.93M314.77 328.53L328.72 323.65Q335.46 321.29 342.2 316.37M315.25 330.11L329.54 326.28Q335.87 324.58 342.2 320.75M315.62 331.71L330.15 328.96Q336.17 327.82 342.2 325.08M315.86 333.34L330.56 331.68Q336.38 331.03 342.2 329.38M315.98 334.98L330.76 334.42Q336.48 334.21 342.2 333.66" stroke="#002626" stroke-width="0.6" stroke-opacity="0.6" fill="none"/><path d="M263.78 335.8a30.22 30.22 0 1 0 60.43 0a30.22 30.22 0 1 0 -60.43 0M255.57 335.8a38.43 38.43 0 1 0 76.86 0a38.43 38.43 0 1 0 -76.86 0M247.35 335.8a46.65 46.65 0 1 0 93.3 0a46.65 46.65 0 1 0 -93.3 0" stroke="#002626" stroke-width="0.5" stroke-opacity="0.15" fill="none"/><path d="M340.91 335.8L340.85 338.26L340.69 340.71L340.43 343.15L340.06 345.59L339.58 348.01L339 350.42L338.32 352.81L337.55 355.19L336.67 357.54L335.7 359.87L334.64 362.19L333.48 364.49L332.24 366.77L330.92 369.04L329.42 371.22L327.15 372.62L324.89 373.94L322.61 375.18L320.32 376.34L318.02 377.4L315.69 378.37L313.34 379.25L310.98 380.02L308.59 380.7L306.19 381.28L303.77 381.76L301.34 382.13L298.9 382.39L296.45 382.55L294 382.61L291.55 382.55L289.1 382.39L286.66 382.13L284.23 381.76L281.81 381.28L279.41 380.7L277.02 380.02L274.66 379.25L272.31 378.37L269.98 377.4L267.68 376.34L265.39 375.18L263.11 373.94L260.85 372.62L258.58 371.22L257.08 369.04L255.76 366.77L254.52 364.49L253.36 362.19L252.3 359.87L251.33 357.54L250.45 355.19L249.68 352.81L249 350.42L248.42 348.01L247.94 345.59L247.57 343.15L247.31 340.71L247.15 338.26L247.09 335.8L247.15 333.34L247.31 330.89L247.57 328.45L247.94 326.01L248.42 323.59L249 321.18L249.68 318.79L250.45 316.41L251.33 314.06L252.3 311.73L253.36 309.41L254.52 307.11L255.76 304.83L257.08 302.56L258.58 300.38L260.85 298.98L263.11 297.66L265.39 296.42L267.68 295.26L269.98 294.2L272.31 293.23L274.66 292.35L277.02 291.58L279.41 290.9L281.81 290.32L284.23 289.84L286.66 289.47L289.1 289.21L291.55 289.05L294 288.99L296.45 289.05L298.9 289.21L301.34 289.47L303.77 289.84L306.19 290.32L308.59 290.9L310.98 291.58L313.34 292.35L315.69 293.23L318.02 294.2L320.32 295.26L322.61 296.42L324.89 297.66L327.15 298.98L329.42 300.38L330.92 302.56L332.24 304.83L333.48 307.11L334.64 309.41L335.7 311.73L336.67 314.06L337.55 316.41L338.32 318.79L339 321.18L339.58 323.59L340.06 326.01L340.43 328.45L340.69 330.89L340.85 333.34L340.91 335.8M341.17 335.8L341.12 338.27L340.99 340.74L340.78 343.21L340.49 345.68L340.11 348.15L339.64 350.63L339.1 353.11L338.48 355.6L337.78 358.1L337 360.63L336.15 363.17L335.23 365.75L334.23 368.38L333.18 371.08L331.86 373.66L329.1 374.78L326.42 375.83L323.81 376.83L321.24 377.75L318.71 378.6L316.2 379.38L313.71 380.08L311.24 380.7L308.77 381.24L306.3 381.71L303.84 382.09L301.38 382.38L298.92 382.59L296.46 382.72L294 382.77L291.54 382.72L289.08 382.59L286.62 382.38L284.16 382.09L281.7 381.71L279.23 381.24L276.76 380.7L274.29 380.08L271.8 379.38L269.29 378.6L266.76 377.75L264.19 376.83L261.58 375.83L258.9 374.78L256.14 373.66L254.82 371.08L253.77 368.38L252.77 365.75L251.85 363.17L251 360.63L250.22 358.1L249.52 355.6L248.9 353.11L248.36 350.63L247.89 348.15L247.51 345.68L247.22 343.21L247.01 340.74L246.88 338.27L246.83 335.8L246.88 333.33L247.01 330.86L247.22 328.39L247.51 325.92L247.89 323.45L248.36 320.97L248.9 318.49L249.52 316L250.22 313.5L251 310.97L251.85 308.43L252.77 305.85L253.77 303.22L254.82 300.52L256.14 297.94L258.9 296.82L261.58 295.77L264.19 294.77L266.76 293.85L269.29 293L271.8 292.22L274.29 291.52L276.76 290.9L279.23 290.36L281.7 289.89L284.16 289.51L286.62 289.22L289.08 289.01L291.54 288.88L294 288.83L296.46 288.88L298.92 289.01L301.38 289.22L303.84 289.51L306.3 289.89L308.77 290.36L311.24 290.9L313.71 291.52L316.2 292.22L318.71 293L321.24 293.85L323.81 294.77L326.42 295.77L329.1 296.82L331.86 297.94L333.18 300.52L334.23 303.22L335.23 305.85L336.15 308.43L337 310.97L337.78 313.5L338.48 316L339.1 318.49L339.64 320.97L340.11 323.45L340.49 325.92L340.78 328.39L340.99 330.86L341.12 333.33L341.17 335.8M341.42 335.8L341.39 338.28L341.3 340.77L341.14 343.27L340.91 345.77L340.63 348.29L340.28 350.84L339.87 353.41L339.41 356.02L338.88 358.67L338.3 361.38L337.66 364.15L336.97 367.02L336.23 369.99L335.43 373.11L334.29 376.09L331.04 376.93L327.95 377.73L325 378.47L322.16 379.16L319.4 379.8L316.72 380.38L314.08 380.91L311.49 381.37L308.94 381.78L306.41 382.13L303.91 382.41L301.42 382.64L298.94 382.8L296.47 382.89L294 382.92L291.53 382.89L289.06 382.8L286.58 382.64L284.09 382.41L281.59 382.13L279.06 381.78L276.51 381.37L273.92 380.91L271.28 380.38L268.6 379.8L265.84 379.16L263 378.47L260.05 377.73L256.96 376.93L253.71 376.09L252.57 373.11L251.77 369.99L251.03 367.02L250.34 364.15L249.7 361.38L249.12 358.67L248.59 356.02L248.13 353.41L247.72 350.84L247.37 348.29L247.09 345.77L246.86 343.27L246.7 340.77L246.61 338.28L246.58 335.8L246.61 333.32L246.7 330.83L246.86 328.33L247.09 325.83L247.37 323.31L247.72 320.76L248.13 318.19L248.59 315.58L249.12 312.93L249.7 310.22L250.34 307.45L251.03 304.58L251.77 301.61L252.57 298.49L253.71 295.51L256.96 294.67L260.05 293.87L263 293.13L265.84 292.44L268.6 291.8L271.28 291.22L273.92 290.69L276.51 290.23L279.06 289.82L281.59 289.47L284.09 289.19L286.58 288.96L289.06 288.8L291.53 288.71L294 288.68L296.47 288.71L298.94 288.8L301.42 288.96L303.91 289.19L306.41 289.47L308.94 289.82L311.49 290.23L314.08 290.69L316.72 291.22L319.4 291.8L322.16 292.44L325 293.13L327.95 293.87L331.04 294.67L334.29 295.51L335.43 298.49L336.23 301.61L336.97 304.58L337.66 307.45L338.3 310.22L338.88 312.93L339.41 315.58L339.87 318.19L340.28 320.76L340.63 323.31L340.91 325.83L341.14 328.33L341.3 330.83L341.39 333.32L341.42 335.8M341.68 335.8L341.66 338.3L341.6 340.8L341.49 343.32L341.34 345.86L341.15 348.43L340.92 351.05L340.65 353.71L340.34 356.43L339.99 359.23L339.6 362.13L339.17 365.14L338.71 368.29L338.22 371.61L337.69 375.14L336.73 378.53L332.98 379.09L329.48 379.62L326.2 380.11L323.08 380.57L320.1 381L317.23 381.39L314.45 381.74L311.75 382.05L309.12 382.32L306.53 382.55L303.98 382.74L301.46 382.89L298.96 383L296.48 383.06L294 383.08L291.52 383.06L289.04 383L286.54 382.89L284.02 382.74L281.47 382.55L278.88 382.32L276.25 382.05L273.55 381.74L270.77 381.39L267.9 381L264.92 380.57L261.8 380.11L258.52 379.62L255.02 379.09L251.27 378.53L250.31 375.14L249.78 371.61L249.29 368.29L248.83 365.14L248.4 362.13L248.01 359.23L247.66 356.43L247.35 353.71L247.08 351.05L246.85 348.43L246.66 345.86L246.51 343.32L246.4 340.8L246.34 338.3L246.32 335.8L246.34 333.3L246.4 330.8L246.51 328.28L246.66 325.74L246.85 323.17L247.08 320.55L247.35 317.89L247.66 315.17L248.01 312.37L248.4 309.47L248.83 306.46L249.29 303.31L249.78 299.99L250.31 296.46L251.27 293.07L255.02 292.51L258.52 291.98L261.8 291.49L264.92 291.03L267.9 290.6L270.77 290.21L273.55 289.86L276.25 289.55L278.88 289.28L281.47 289.05L284.02 288.86L286.54 288.71L289.04 288.6L291.52 288.54L294 288.52L296.48 288.54L298.96 288.6L301.46 288.71L303.98 288.86L306.53 289.05L309.12 289.28L311.75 289.55L314.45 289.86L317.23 290.21L320.1 290.6L323.08 291.03L326.2 291.49L329.48 291.98L332.98 292.51L336.73 293.07L337.69 296.46L338.22 299.99L338.71 303.31L339.17 306.46L339.6 309.47L339.99 312.37L340.34 315.17L340.65 317.89L340.92 320.55L341.15 323.17L341.34 325.74L341.49 328.28L341.6 330.8L341.66 333.3L341.68 335.8M341.94 335.8L341.93 338.31L341.9 340.83L341.85 343.38L341.77 345.95L341.68 348.57L341.56 351.25L341.42 354L341.27 356.85L341.09 359.8L340.9 362.88L340.69 366.12L340.46 369.55L340.21 373.22L339.94 377.17L339.16 380.96L334.92 381.24L331.01 381.51L327.39 381.76L323.99 381.99L320.79 382.2L317.74 382.39L314.82 382.57L312.01 382.72L309.29 382.86L306.64 382.98L304.05 383.07L301.5 383.15L298.98 383.2L296.49 383.23L294 383.24L291.51 383.23L289.02 383.2L286.5 383.15L283.95 383.07L281.36 382.98L278.71 382.86L275.99 382.72L273.18 382.57L270.26 382.39L267.21 382.2L264.01 381.99L260.61 381.76L256.99 381.51L253.08 381.24L248.84 380.96L248.06 377.17L247.79 373.22L247.54 369.55L247.31 366.12L247.1 362.88L246.91 359.8L246.73 356.85L246.58 354L246.44 351.25L246.32 348.57L246.23 345.95L246.15 343.38L246.1 340.83L246.07 338.31L246.06 335.8L246.07 333.29L246.1 330.77L246.15 328.22L246.23 325.65L246.32 323.03L246.44 320.35L246.58 317.6L246.73 314.75L246.91 311.8L247.1 308.72L247.31 305.48L247.54 302.05L247.79 298.38L248.06 294.43L248.84 290.64L253.08 290.36L256.99 290.09L260.61 289.84L264.01 289.61L267.21 289.4L270.26 289.21L273.18 289.03L275.99 288.88L278.71 288.74L281.36 288.62L283.95 288.53L286.5 288.45L289.02 288.4L291.51 288.37L294 288.36L296.49 288.37L298.98 288.4L301.5 288.45L304.05 288.53L306.64 288.62L309.29 288.74L312.01 288.88L314.82 289.03L317.74 289.21L320.79 289.4L323.99 289.61L327.39 289.84L331.01 290.09L334.92 290.36L339.16 290.64L339.94 294.43L340.21 298.38L340.46 302.05L340.69 305.48L340.9 308.72L341.09 311.8L341.27 314.75L341.42 317.6L341.56 320.35L341.68 323.03L341.77 325.65L341.85 328.22L341.9 330.77L341.93 333.29L341.94 335.8" stroke="#002626" stroke-width="0.6" stroke-opacity="0.5" fill="none"/><path d="M307.64 335.8L307.64 336.75L307.64 337.72L307.63 338.7L307.62 339.7L307.58 340.74L307.51 341.81L307.38 342.91L307.16 344.03L306.83 345.12L306.33 346.15L305.66 347.06L304.82 347.82L303.85 348.4L302.78 348.81L301.67 349.09L300.56 349.25L299.47 349.35L298.42 349.4L297.4 349.43L296.4 349.44L295.43 349.44L294.48 349.44L293.52 349.44L292.57 349.44L291.6 349.44L290.6 349.43L289.58 349.4L288.53 349.35L287.44 349.25L286.33 349.09L285.22 348.81L284.15 348.4L283.18 347.82L282.34 347.06L281.67 346.15L281.17 345.12L280.84 344.03L280.62 342.91L280.49 341.81L280.42 340.74L280.38 339.7L280.37 338.7L280.36 337.72L280.36 336.75L280.36 335.8L280.36 334.85L280.36 333.88L280.37 332.9L280.38 331.9L280.42 330.86L280.49 329.79L280.62 328.69L280.84 327.57L281.17 326.48L281.67 325.45L282.34 324.54L283.18 323.78L284.15 323.2L285.22 322.79L286.33 322.51L287.44 322.35L288.53 322.25L289.58 322.2L290.6 322.17L291.6 322.16L292.57 322.16L293.52 322.16L294.48 322.16L295.43 322.16L296.4 322.16L297.4 322.17L298.42 322.2L299.47 322.25L300.56 322.35L301.67 322.51L302.78 322.79L303.85 323.2L304.82 323.78L305.66 324.54L306.33 325.45L306.83 326.48L307.16 327.57L307.38 328.69L307.51 329.79L307.58 330.86L307.62 331.9L307.63 332.9L307.64 333.88L307.64 334.85ZM309.73 335.8L309.72 336.9L309.68 338L309.6 339.12L309.5 340.24L309.35 341.39L309.16 342.55L308.89 343.72L308.54 344.88L308.07 346.02L307.46 347.1L306.7 348.07L305.8 348.9L304.77 349.59L303.66 350.12L302.5 350.53L301.33 350.83L300.17 351.06L299.01 351.23L297.88 351.36L296.76 351.44L295.65 351.5L294.55 351.53L293.45 351.53L292.35 351.5L291.24 351.44L290.12 351.36L288.99 351.23L287.83 351.06L286.67 350.83L285.5 350.53L284.34 350.12L283.23 349.59L282.2 348.9L281.3 348.07L280.54 347.1L279.93 346.02L279.46 344.88L279.11 343.72L278.84 342.55L278.65 341.39L278.5 340.24L278.4 339.12L278.32 338L278.28 336.9L278.27 335.8L278.28 334.7L278.32 333.6L278.4 332.48L278.5 331.36L278.65 330.21L278.84 329.05L279.11 327.88L279.46 326.72L279.93 325.58L280.54 324.5L281.3 323.53L282.2 322.7L283.23 322.01L284.34 321.48L285.5 321.07L286.67 320.77L287.83 320.54L288.99 320.37L290.12 320.24L291.24 320.16L292.35 320.1L293.45 320.07L294.55 320.07L295.65 320.1L296.76 320.16L297.88 320.24L299.01 320.37L300.17 320.54L301.33 320.77L302.5 321.07L303.66 321.48L304.77 322.01L305.8 322.7L306.7 323.53L307.46 324.5L308.07 325.58L308.54 326.72L308.89 327.88L309.16 329.05L309.35 330.21L309.5 331.36L309.6 332.48L309.68 333.6L309.72 334.7ZM311.82 335.8L311.79 337.04L311.71 338.29L311.58 339.54L311.38 340.78L311.13 342.03L310.8 343.28L310.4 344.52L309.91 345.74L309.31 346.93L308.59 348.05L307.75 349.07L306.77 349.99L305.7 350.77L304.54 351.43L303.34 351.97L302.1 352.41L300.86 352.77L299.61 353.06L298.36 353.29L297.11 353.45L295.87 353.56L294.62 353.61L293.38 353.61L292.13 353.56L290.89 353.45L289.64 353.29L288.39 353.06L287.14 352.77L285.9 352.41L284.66 351.97L283.46 351.43L282.3 350.77L281.23 349.99L280.25 349.07L279.41 348.05L278.69 346.93L278.09 345.74L277.6 344.52L277.2 343.28L276.87 342.03L276.62 340.78L276.42 339.54L276.29 338.29L276.21 337.04L276.18 335.8L276.21 334.56L276.29 333.31L276.42 332.06L276.62 330.82L276.87 329.57L277.2 328.32L277.6 327.08L278.09 325.86L278.69 324.67L279.41 323.55L280.25 322.53L281.23 321.61L282.3 320.83L283.46 320.17L284.66 319.63L285.9 319.19L287.14 318.83L288.39 318.54L289.64 318.31L290.89 318.15L292.13 318.04L293.38 317.99L294.62 317.99L295.87 318.04L297.11 318.15L298.36 318.31L299.61 318.54L300.86 318.83L302.1 319.19L303.34 319.63L304.54 320.17L305.7 320.83L306.77 321.61L307.75 322.53L308.59 323.55L309.31 324.67L309.91 325.86L310.4 327.08L310.8 328.32L311.13 329.57L311.38 330.82L311.58 332.06L311.71 333.31L311.79 334.56ZM313.91 335.8L313.87 337.19L313.75 338.58L313.55 339.95L313.27 341.32L312.9 342.68L312.45 344.01L311.91 345.32L311.28 346.6L310.56 347.83L309.72 348.99L308.79 350.08L307.75 351.07L306.62 351.95L305.42 352.73L304.17 353.41L302.87 353.99L301.55 354.49L300.2 354.89L298.84 355.22L297.47 355.46L296.08 355.62L294.69 355.7L293.31 355.7L291.92 355.62L290.53 355.46L289.16 355.22L287.8 354.89L286.45 354.49L285.13 353.99L283.83 353.41L282.58 352.73L281.38 351.95L280.25 351.07L279.21 350.08L278.28 348.99L277.44 347.83L276.72 346.6L276.09 345.32L275.55 344.01L275.1 342.68L274.73 341.32L274.45 339.95L274.25 338.58L274.13 337.19L274.09 335.8L274.13 334.41L274.25 333.02L274.45 331.65L274.73 330.28L275.1 328.92L275.55 327.59L276.09 326.28L276.72 325L277.44 323.77L278.28 322.61L279.21 321.52L280.25 320.53L281.38 319.65L282.58 318.87L283.83 318.19L285.13 317.61L286.45 317.11L287.8 316.71L289.16 316.38L290.53 316.14L291.92 315.98L293.31 315.9L294.69 315.9L296.08 315.98L297.47 316.14L298.84 316.38L300.2 316.71L301.55 317.11L302.87 317.61L304.17 318.19L305.42 318.87L306.62 319.65L307.75 320.53L308.79 321.52L309.72 322.61L310.56 323.77L311.28 325L311.91 326.28L312.45 327.59L312.9 328.92L313.27 330.28L313.55 331.65L313.75 333.02L313.87 334.41ZM316 335.8L315.95 337.33L315.79 338.86L315.52 340.37L315.15 341.86L314.67 343.32L314.1 344.75L313.42 346.13L312.66 347.46L311.8 348.73L310.85 349.94L309.83 351.08L308.72 352.15L307.54 353.14L306.3 354.04L305 354.85L303.64 355.57L302.24 356.2L300.8 356.72L299.32 357.15L297.82 357.47L296.3 357.68L294.77 357.79L293.23 357.79L291.7 357.68L290.18 357.47L288.68 357.15L287.2 356.72L285.76 356.2L284.36 355.57L283 354.85L281.7 354.04L280.46 353.14L279.28 352.15L278.17 351.08L277.15 349.94L276.2 348.73L275.34 347.46L274.58 346.13L273.9 344.75L273.33 343.32L272.85 341.86L272.48 340.37L272.21 338.86L272.05 337.33L272 335.8L272.05 334.27L272.21 332.74L272.48 331.23L272.85 329.74L273.33 328.28L273.9 326.85L274.58 325.47L275.34 324.14L276.2 322.87L277.15 321.66L278.17 320.52L279.28 319.45L280.46 318.46L281.7 317.56L283 316.75L284.36 316.03L285.76 315.4L287.2 314.88L288.68 314.45L290.18 314.13L291.7 313.92L293.23 313.81L294.77 313.81L296.3 313.92L297.82 314.13L299.32 314.45L300.8 314.88L302.24 315.4L303.64 316.03L305 316.75L306.3 317.56L307.54 318.46L308.72 319.45L309.83 320.52L310.85 321.66L311.8 322.87L312.66 324.14L313.42 325.47L314.1 326.85L314.67 328.28L315.15 329.74L315.52 331.23L315.79 332.74L315.95 334.27ZM307.64 335.8L316 335.8M307.64 336.87L315.93 337.53M307.64 337.96L315.73 339.24M307.63 339.07L315.39 340.94M307.6 340.22L314.92 342.6M307.54 341.41L314.33 344.22M307.42 342.64L313.6 345.79M307.2 343.89L312.76 347.29M306.83 345.12L311.8 348.73M306.26 346.27L310.73 350.09M305.47 347.27L309.56 351.36M304.47 348.06L308.29 352.53M303.32 348.63L306.93 353.6M302.09 349L305.49 354.56M300.84 349.22L303.99 355.4M299.61 349.34L302.42 356.13M298.42 349.4L300.8 356.72M297.27 349.43L299.14 357.19M296.16 349.44L297.44 357.53M295.07 349.44L295.73 357.73M294 349.44L294 357.8M292.93 349.44L292.27 357.73M291.84 349.44L290.56 357.53M290.73 349.43L288.86 357.19M289.58 349.4L287.2 356.72M288.39 349.34L285.58 356.13M287.16 349.22L284.01 355.4M285.91 349L282.51 354.56M284.68 348.63L281.07 353.6M283.53 348.06L279.71 352.53M282.53 347.27L278.44 351.36M281.74 346.27L277.27 350.09M281.17 345.12L276.2 348.73M280.8 343.89L275.24 347.29M280.58 342.64L274.4 345.79M280.46 341.41L273.67 344.22M280.4 340.22L273.08 342.6M280.37 339.07L272.61 340.94M280.36 337.96L272.27 339.24M280.36 336.87L272.07 337.53M280.36 335.8L272 335.8M280.36 334.73L272.07 334.07M280.36 333.64L272.27 332.36M280.37 332.53L272.61 330.66M280.4 331.38L273.08 329M280.46 330.19L273.67 327.38M280.58 328.96L274.4 325.81M280.8 327.71L275.24 324.31M281.17 326.48L276.2 322.87M281.74 325.33L277.27 321.51M282.53 324.33L278.44 320.24M283.53 323.54L279.71 319.07M284.68 322.97L281.07 318M285.91 322.6L282.51 317.04M287.16 322.38L284.01 316.2M288.39 322.26L285.58 315.47M289.58 322.2L287.2 314.88M290.73 322.17L288.86 314.41M291.84 322.16L290.56 314.07M292.93 322.16L292.27 313.87M294 322.16L294 313.8M295.07 322.16L295.73 313.87M296.16 322.16L297.44 314.07M297.27 322.17L299.14 314.41M298.42 322.2L300.8 314.88M299.61 322.26L302.42 315.47M300.84 322.38L303.99 316.2M302.09 322.6L305.49 317.04M303.32 322.97L306.93 318M304.47 323.54L308.29 319.07M305.47 324.33L309.56 320.24M306.26 325.33L310.73 321.51M306.83 326.48L311.8 322.87M307.2 327.71L312.76 324.31M307.42 328.96L313.6 325.81M307.54 330.19L314.33 327.38M307.6 331.38L314.92 329M307.63 332.53L315.39 330.66M307.64 333.64L315.73 332.36M307.64 334.73L315.93 334.07" stroke="#002626" stroke-width="0.35" stroke-opacity="0.45" fill="none"/><clipPath id="cqCD12"><rect x="280.36" y="322.16" width="27.28" height="27.28" rx="6.14"/></clipPath><path clip-path="url(#cqCD12)" d="M278.7 322.16V349.44M280.36 320.5H307.64M280.4 322.16V349.44M280.36 322.2H307.64M282.1 322.16V349.44M280.36 323.9H307.64M283.8 322.16V349.44M280.36 325.6H307.64M285.5 322.16V349.44M280.36 327.3H307.64M287.2 322.16V349.44M280.36 329H307.64M288.9 322.16V349.44M280.36 330.7H307.64M290.6 322.16V349.44M280.36 332.4H307.64M292.3 322.16V349.44M280.36 334.1H307.64M294 322.16V349.44M280.36 335.8H307.64M295.7 322.16V349.44M280.36 337.5H307.64M297.4 322.16V349.44M280.36 339.2H307.64M299.1 322.16V349.44M280.36 340.9H307.64M300.8 322.16V349.44M280.36 342.6H307.64M302.5 322.16V349.44M280.36 344.3H307.64M304.2 322.16V349.44M280.36 346H307.64M305.9 322.16V349.44M280.36 347.7H307.64M307.6 322.16V349.44M280.36 349.4H307.64" stroke="#002626" stroke-width="0.45" stroke-opacity="0.7" fill="none"/></g><path d="M276.25 320.4L273.49 321.11L271.57 321.83L269.94 322.54L268.5 323.26L267.2 323.97L266.02 324.69L264.94 325.4L263.95 326.12L263.02 326.83L262.16 327.55L261.35 328.26L260.58 328.98L259.86 329.69L259.17 330.41L258.52 331.12L257.89 331.84L257.28 332.56L256.69 333.27L256.5 333.99L256.5 334.7L256.5 335.41L256.5 336.13L256.5 336.84L256.5 337.56L256.5 338.27L256.5 338.99L257.06 339.7L257.87 340.42L258.72 341.13L259.61 341.85L260.56 342.56L261.56 343.28L262.63 344L263.78 344.71L265.02 345.43L266.39 346.14L267.9 346.86L269.61 347.57L271.62 348.29L274.56 349L274.86 349L274.39 348.29L273.96 347.57L273.56 346.86L273.2 346.14L272.86 345.43L272.55 344.71L272.28 344L272.02 343.28L271.79 342.56L271.59 341.85L271.41 341.13L271.26 340.42L271.13 339.7L271.02 338.99L270.93 338.27L270.87 337.56L270.82 336.84L270.8 336.13L270.8 335.41L270.83 334.7L270.87 333.99L270.94 333.27L271.03 332.56L271.14 331.84L271.27 331.12L271.43 330.41L271.61 329.69L271.81 328.98L272.04 328.26L272.3 327.55L272.58 326.83L272.89 326.12L273.22 325.4L273.59 324.69L273.99 323.97L274.43 323.26L274.89 322.54L275.4 321.83L275.95 321.11L276.55 320.4Z" fill="#E400E4"/><path d="M310.12 318.7L315.1 319.46L318.47 320.21L321.31 320.97L323.81 321.73L326.05 322.49L328.08 323.25L329.95 324L331.69 324.76L333.3 325.52L334.82 326.27L336 327.03L336 327.79L336 328.55L336 329.31L336 330.06L336 330.82L336 331.58L336 332.33L335.58 333.09L334.93 333.85L334.27 334.61L333.61 335.37L332.93 336.12L332.24 336.88L331.53 337.64L330.8 338.39L330.04 339.15L329.25 339.91L328.43 340.67L327.56 341.43L326.65 342.18L325.68 342.94L324.65 343.7L323.55 344.45L322.35 345.21L321.05 345.97L319.62 346.73L318.01 347.49L316.13 348.24L313.44 349L313.14 349L313.64 348.24L314.09 347.49L314.5 346.73L314.89 345.97L315.23 345.21L315.55 344.45L315.83 343.7L316.09 342.94L316.32 342.18L316.52 341.43L316.69 340.67L316.84 339.91L316.96 339.15L317.06 338.39L317.13 337.64L317.18 336.88L317.2 336.12L317.2 335.37L317.17 334.61L317.12 333.85L317.04 333.09L316.94 332.33L316.82 331.58L316.67 330.82L316.49 330.06L316.28 329.31L316.05 328.55L315.79 327.79L315.5 327.03L315.18 326.27L314.83 325.52L314.45 324.76L314.02 324L313.57 323.25L313.07 322.49L312.52 321.73L311.93 320.97L311.29 320.21L310.59 319.46L309.82 318.7Z" fill="#E400E4"/><rect x="218.2" y="286.4" width="26.6" height="13.6" fill="none" stroke="#062828" stroke-width="0.95"/><text x="231.6" y="296.74" text-anchor="middle" class="pl" textLength="18.3" stroke="#082020" stroke-width="0.3" lengthAdjust="spacingAndGlyphs">CD12</text><rect x="219.9" y="279.6" width="14" height="1.1" fill="#004848" opacity="0.4"/><rect x="361.4" y="274.5" width="13.6" height="7.1" fill="#fff"/><text x="361.8" y="278.7" class="an" textLength="12.4" lengthAdjust="spacingAndGlyphs" stroke="#000" stroke-width="0.08">ANSYS</text><rect x="367.2" y="279.9" width="6.8" height="1.0" fill="#804070" opacity="0.75"/></svg><svg x="378.4" y="275" width="159.6" height="119.7" viewBox="378.4 275 159.6 119.7" overflow="hidden"><rect x="378.4" y="275" width="159.6" height="119.7" fill="#00FFFF"/><g filter="url(#bl)"><path d="M410.4 275V394.7M399.4 275V394.7M388.4 275V394.7M505.3 275V394.7M516.3 275V394.7M527.3 275V394.7M422.26 275V394.7M434.12 275V394.7M445.99 275V394.7M457.85 275V394.7M469.71 275V394.7M481.57 275V394.7M493.44 275V394.7M378.4 287.3H538M378.4 276.3H538M378.4 383.3H538M378.4 394.3H538M378.4 299.3H538M378.4 311.3H538M378.4 323.3H538M378.4 335.3H538M378.4 347.3H538M378.4 359.3H538M378.4 371.3H538" stroke="#002626" stroke-width="0.6" stroke-opacity="0.5" fill="none"/><rect x="410.4" y="287.3" width="94.9" height="96" fill="#00FFFF" stroke="#002626" stroke-width="0.9" stroke-opacity="0.6"/><path d="M488.13 336.43L497.84 336.8Q501.57 336.94 505.3 337.42M487.96 338.69L497.62 339.78Q501.46 340.21 505.3 341.68M487.62 340.93L497.17 342.74Q501.24 343.51 505.3 345.95M487.12 343.14L496.51 345.66Q500.9 346.84 505.3 350.25M486.45 345.31L495.62 348.52Q500.46 350.21 505.3 354.6M485.62 347.42L494.53 351.3Q499.92 353.65 505.3 359.01M484.64 349.46L493.23 354Q499.27 357.19 505.3 363.5M483.51 351.42L491.74 356.59Q498.52 360.85 505.3 368.11M482.23 353.29L490.05 359.07Q497.68 364.69 505.3 372.85M480.82 355.06L488.18 361.4Q496.74 368.77 505.3 377.78M479.28 356.73L486.15 363.6Q495.72 373.17 505.3 382.94M477.61 358.27L483.95 365.63Q491.56 374.47 500.47 383.3M475.84 359.68L481.62 367.5Q487.45 375.4 495.52 383.3M473.97 360.96L479.14 369.19Q483.58 376.24 490.76 383.3M472.01 362.09L476.55 370.68Q479.88 376.99 486.14 383.3M469.97 363.07L473.85 371.98Q476.32 377.64 481.63 383.3M467.86 363.9L471.07 373.07Q472.86 378.19 477.21 383.3M465.69 364.57L468.21 373.96Q469.46 378.63 472.84 383.3M463.48 365.07L465.29 374.62Q466.11 378.96 468.53 383.3M461.24 365.41L462.33 375.07Q462.79 379.18 464.24 383.3M458.98 365.58L459.35 375.29Q459.5 379.3 459.98 383.3M456.72 365.58L456.35 375.29Q456.2 379.3 455.72 383.3M454.46 365.41L453.37 375.07Q452.91 379.18 451.46 383.3M452.22 365.07L450.41 374.62Q449.59 378.96 447.17 383.3M450.01 364.57L447.49 373.96Q446.24 378.63 442.86 383.3M447.84 363.9L444.63 373.07Q442.84 378.19 438.49 383.3M445.73 363.07L441.85 371.98Q439.38 377.64 434.07 383.3M443.69 362.09L439.15 370.68Q435.82 376.99 429.56 383.3M441.73 360.96L436.56 369.19Q432.12 376.24 424.94 383.3M439.86 359.68L434.08 367.5Q428.25 375.4 420.18 383.3M438.09 358.27L431.75 365.63Q424.14 374.47 415.23 383.3M436.42 356.73L429.55 363.6Q419.98 373.17 410.4 382.94M434.88 355.06L427.52 361.4Q418.96 368.77 410.4 377.78M433.47 353.29L425.65 359.07Q418.02 364.69 410.4 372.85M432.19 351.42L423.96 356.59Q417.18 360.85 410.4 368.11M431.06 349.46L422.47 354Q416.43 357.19 410.4 363.5M430.08 347.42L421.17 351.3Q415.78 353.65 410.4 359.01M429.25 345.31L420.08 348.52Q415.24 350.21 410.4 354.6M428.58 343.14L419.19 345.66Q414.8 346.84 410.4 350.25M428.08 340.93L418.53 342.74Q414.46 343.51 410.4 345.95M427.74 338.69L418.08 339.78Q414.24 340.21 410.4 341.68M427.57 336.43L417.86 336.8Q414.13 336.94 410.4 337.42M427.57 334.17L417.86 333.8Q414.13 333.66 410.4 333.18M427.74 331.91L418.08 330.82Q414.24 330.39 410.4 328.92M428.08 329.67L418.53 327.86Q414.46 327.09 410.4 324.65M428.58 327.46L419.19 324.94Q414.8 323.76 410.4 320.35M429.25 325.29L420.08 322.08Q415.24 320.39 410.4 316M430.08 323.18L421.17 319.3Q415.78 316.95 410.4 311.59M431.06 321.14L422.47 316.6Q416.43 313.41 410.4 307.1M432.19 319.18L423.96 314.01Q417.18 309.75 410.4 302.49M433.47 317.31L425.65 311.53Q418.02 305.91 410.4 297.75M434.88 315.54L427.52 309.2Q418.96 301.83 410.4 292.82M436.42 313.87L429.55 307Q419.98 297.43 410.4 287.66M438.09 312.33L431.75 304.97Q424.14 296.13 415.23 287.3M439.86 310.92L434.08 303.1Q428.25 295.2 420.18 287.3M441.73 309.64L436.56 301.41Q432.12 294.36 424.94 287.3M443.69 308.51L439.15 299.92Q435.82 293.61 429.56 287.3M445.73 307.53L441.85 298.62Q439.38 292.96 434.07 287.3M447.84 306.7L444.63 297.53Q442.84 292.41 438.49 287.3M450.01 306.03L447.49 296.64Q446.24 291.97 442.86 287.3M452.22 305.53L450.41 295.98Q449.59 291.64 447.17 287.3M454.46 305.19L453.37 295.53Q452.91 291.42 451.46 287.3M456.72 305.02L456.35 295.31Q456.2 291.3 455.72 287.3M458.98 305.02L459.35 295.31Q459.5 291.3 459.98 287.3M461.24 305.19L462.33 295.53Q462.79 291.42 464.24 287.3M463.48 305.53L465.29 295.98Q466.11 291.64 468.53 287.3M465.69 306.03L468.21 296.64Q469.46 291.97 472.84 287.3M467.86 306.7L471.07 297.53Q472.86 292.41 477.21 287.3M469.97 307.53L473.85 298.62Q476.32 292.96 481.63 287.3M472.01 308.51L476.55 299.92Q479.88 293.61 486.14 287.3M473.97 309.64L479.14 301.41Q483.58 294.36 490.76 287.3M475.84 310.92L481.62 303.1Q487.45 295.2 495.52 287.3M477.61 312.33L483.95 304.97Q491.56 296.13 500.47 287.3M479.28 313.87L486.15 307Q495.72 297.43 505.3 287.66M480.82 315.54L488.18 309.2Q496.74 301.83 505.3 292.82M482.23 317.31L490.05 311.53Q497.68 305.91 505.3 297.75M483.51 319.18L491.74 314.01Q498.52 309.75 505.3 302.49M484.64 321.14L493.23 316.6Q499.27 313.41 505.3 307.1M485.62 323.18L494.53 319.3Q499.92 316.95 505.3 311.59M486.45 325.29L495.62 322.08Q500.46 320.39 505.3 316M487.12 327.46L496.51 324.94Q500.9 323.76 505.3 320.35M487.62 329.67L497.17 327.86Q501.24 327.09 505.3 324.65M487.96 331.91L497.62 330.82Q501.46 330.39 505.3 328.92M488.13 334.17L497.84 333.8Q501.57 333.66 505.3 333.18" stroke="#002626" stroke-width="0.6" stroke-opacity="0.6" fill="none"/><path d="M422.15 335.3a35.7 35.7 0 1 0 71.4 0a35.7 35.7 0 1 0 -71.4 0M416.75 335.3a41.1 41.1 0 1 0 82.2 0a41.1 41.1 0 1 0 -82.2 0M411.35 335.3a46.5 46.5 0 1 0 93 0a46.5 46.5 0 1 0 -93 0" stroke="#002626" stroke-width="0.5" stroke-opacity="0.15" fill="none"/><path d="M504.51 335.3L504.46 337.74L504.3 340.18L504.03 342.61L503.66 345.04L503.19 347.45L502.61 349.84L501.94 352.22L501.16 354.58L500.29 356.92L499.32 359.24L498.26 361.54L497.11 363.82L495.87 366.09L494.56 368.35L493.16 370.61L490.98 372.1L488.71 373.42L486.44 374.65L484.15 375.8L481.84 376.86L479.52 377.83L477.17 378.7L474.81 379.48L472.42 380.15L470.02 380.73L467.61 381.2L465.18 381.57L462.74 381.84L460.3 382L457.85 382.05L455.4 382L452.96 381.84L450.52 381.57L448.09 381.2L445.68 380.73L443.28 380.15L440.89 379.48L438.53 378.7L436.18 377.83L433.86 376.86L431.55 375.8L429.26 374.65L426.99 373.42L424.72 372.1L422.54 370.61L421.14 368.35L419.83 366.09L418.59 363.82L417.44 361.54L416.38 359.24L415.41 356.92L414.54 354.58L413.76 352.22L413.09 349.84L412.51 347.45L412.04 345.04L411.67 342.61L411.4 340.18L411.24 337.74L411.19 335.3L411.24 332.86L411.4 330.42L411.67 327.99L412.04 325.56L412.51 323.15L413.09 320.76L413.76 318.38L414.54 316.02L415.41 313.68L416.38 311.36L417.44 309.06L418.59 306.78L419.83 304.51L421.14 302.25L422.54 299.99L424.72 298.5L426.99 297.18L429.26 295.95L431.55 294.8L433.86 293.74L436.18 292.77L438.53 291.9L440.89 291.12L443.28 290.45L445.68 289.87L448.09 289.4L450.52 289.03L452.96 288.76L455.4 288.6L457.85 288.55L460.3 288.6L462.74 288.76L465.18 289.03L467.61 289.4L470.02 289.87L472.42 290.45L474.81 291.12L477.17 291.9L479.52 292.77L481.84 293.74L484.15 294.8L486.44 295.95L488.71 297.18L490.98 298.5L493.16 299.99L494.56 302.25L495.87 304.51L497.11 306.78L498.26 309.06L499.32 311.36L500.29 313.68L501.16 316.02L501.94 318.38L502.61 320.76L503.19 323.15L503.66 325.56L504.03 327.99L504.3 330.42L504.46 332.86L504.51 335.3M504.67 335.3L504.62 337.75L504.5 340.2L504.29 342.65L503.99 345.11L503.61 347.56L503.15 350.02L502.61 352.48L501.99 354.95L501.29 357.43L500.51 359.93L499.67 362.46L498.75 365.01L497.76 367.62L496.7 370.28L495.59 373.04L493 374.34L490.32 375.39L487.7 376.38L485.12 377.3L482.59 378.15L480.08 378.92L477.58 379.62L475.1 380.24L472.63 380.78L470.16 381.24L467.7 381.62L465.23 381.92L462.77 382.13L460.31 382.26L457.85 382.3L455.39 382.26L452.93 382.13L450.47 381.92L448 381.62L445.54 381.24L443.07 380.78L440.6 380.24L438.12 379.62L435.62 378.92L433.11 378.15L430.58 377.3L428 376.38L425.38 375.39L422.7 374.34L420.11 373.04L419 370.28L417.94 367.62L416.95 365.01L416.03 362.46L415.19 359.93L414.41 357.43L413.71 354.95L413.09 352.48L412.55 350.02L412.09 347.56L411.71 345.11L411.41 342.65L411.2 340.2L411.08 337.75L411.03 335.3L411.08 332.85L411.2 330.4L411.41 327.95L411.71 325.49L412.09 323.04L412.55 320.58L413.09 318.12L413.71 315.65L414.41 313.17L415.19 310.67L416.03 308.14L416.95 305.59L417.94 302.98L419 300.32L420.11 297.56L422.7 296.26L425.38 295.21L428 294.22L430.58 293.3L433.11 292.45L435.62 291.68L438.12 290.98L440.6 290.36L443.07 289.82L445.54 289.36L448 288.98L450.47 288.68L452.93 288.47L455.39 288.34L457.85 288.3L460.31 288.34L462.77 288.47L465.23 288.68L467.7 288.98L470.16 289.36L472.63 289.82L475.1 290.36L477.58 290.98L480.08 291.68L482.59 292.45L485.12 293.3L487.7 294.22L490.32 295.21L493 296.26L495.59 297.56L496.7 300.32L497.76 302.98L498.75 305.59L499.67 308.14L500.51 310.67L501.29 313.17L501.99 315.65L502.61 318.12L503.15 320.58L503.61 323.04L503.99 325.49L504.29 327.95L504.5 330.4L504.62 332.85L504.67 335.3M504.83 335.3L504.79 337.76L504.7 340.22L504.54 342.69L504.32 345.18L504.03 347.67L503.69 350.19L503.28 352.74L502.82 355.32L502.29 357.94L501.71 360.62L501.07 363.37L500.39 366.2L499.64 369.14L498.85 372.22L498.02 375.47L495.02 376.58L491.92 377.37L488.95 378.11L486.1 378.8L483.33 379.44L480.63 380.02L477.99 380.54L475.39 381.01L472.83 381.41L470.3 381.76L467.79 382.04L465.29 382.26L462.8 382.42L460.32 382.52L457.85 382.55L455.38 382.52L452.9 382.42L450.41 382.26L447.91 382.04L445.4 381.76L442.87 381.41L440.31 381.01L437.71 380.54L435.07 380.02L432.37 379.44L429.6 378.8L426.75 378.11L423.78 377.37L420.68 376.58L417.68 375.47L416.85 372.22L416.06 369.14L415.31 366.2L414.63 363.37L413.99 360.62L413.41 357.94L412.88 355.32L412.42 352.74L412.01 350.19L411.67 347.67L411.38 345.18L411.16 342.69L411 340.22L410.91 337.76L410.87 335.3L410.91 332.84L411 330.38L411.16 327.91L411.38 325.42L411.67 322.93L412.01 320.41L412.42 317.86L412.88 315.28L413.41 312.66L413.99 309.98L414.63 307.23L415.31 304.4L416.06 301.46L416.85 298.38L417.68 295.13L420.68 294.02L423.78 293.23L426.75 292.49L429.6 291.8L432.37 291.16L435.07 290.58L437.71 290.06L440.31 289.59L442.87 289.19L445.4 288.84L447.91 288.56L450.41 288.34L452.9 288.18L455.38 288.08L457.85 288.05L460.32 288.08L462.8 288.18L465.29 288.34L467.79 288.56L470.3 288.84L472.83 289.19L475.39 289.59L477.99 290.06L480.63 290.58L483.33 291.16L486.1 291.8L488.95 292.49L491.92 293.23L495.02 294.02L498.02 295.13L498.85 298.38L499.64 301.46L500.39 304.4L501.07 307.23L501.71 309.98L502.29 312.66L502.82 315.28L503.28 317.86L503.69 320.41L504.03 322.93L504.32 325.42L504.54 327.91L504.7 330.38L504.79 332.84L504.83 335.3M504.98 335.3L504.96 337.77L504.9 340.25L504.79 342.74L504.64 345.25L504.46 347.79L504.23 350.37L503.95 353L503.64 355.69L503.29 358.45L502.91 361.31L502.48 364.29L502.02 367.39L501.53 370.67L501 374.15L500.44 377.89L497.03 378.82L493.52 379.35L490.21 379.84L487.07 380.3L484.08 380.72L481.19 381.11L478.4 381.46L475.69 381.77L473.04 382.04L470.44 382.27L467.87 382.46L465.34 382.61L462.83 382.72L460.34 382.78L457.85 382.8L455.36 382.78L452.87 382.72L450.36 382.61L447.83 382.46L445.26 382.27L442.66 382.04L440.01 381.77L437.3 381.46L434.51 381.11L431.62 380.72L428.63 380.3L425.49 379.84L422.18 379.35L418.67 378.82L415.26 377.89L414.7 374.15L414.17 370.67L413.68 367.39L413.22 364.29L412.79 361.31L412.41 358.45L412.06 355.69L411.75 353L411.47 350.37L411.24 347.79L411.06 345.25L410.91 342.74L410.8 340.25L410.74 337.77L410.72 335.3L410.74 332.83L410.8 330.35L410.91 327.86L411.06 325.35L411.24 322.81L411.47 320.23L411.75 317.6L412.06 314.91L412.41 312.15L412.79 309.29L413.22 306.31L413.68 303.21L414.17 299.93L414.7 296.45L415.26 292.71L418.67 291.78L422.18 291.25L425.49 290.76L428.63 290.3L431.62 289.88L434.51 289.49L437.3 289.14L440.01 288.83L442.66 288.56L445.26 288.33L447.83 288.14L450.36 287.99L452.87 287.88L455.36 287.82L457.85 287.8L460.34 287.82L462.83 287.88L465.34 287.99L467.87 288.14L470.44 288.33L473.04 288.56L475.69 288.83L478.4 289.14L481.19 289.49L484.08 289.88L487.07 290.3L490.21 290.76L493.52 291.25L497.03 291.78L500.44 292.71L501 296.45L501.53 299.93L502.02 303.21L502.48 306.31L502.91 309.29L503.29 312.15L503.64 314.91L503.95 317.6L504.23 320.23L504.46 322.81L504.64 325.35L504.79 327.86L504.9 330.35L504.96 332.83L504.98 335.3M505.14 335.3L505.13 337.78L505.1 340.27L505.05 342.78L504.97 345.32L504.88 347.9L504.76 350.54L504.63 353.26L504.47 356.06L504.3 358.97L504.1 362L503.89 365.2L503.66 368.58L503.41 372.2L503.15 376.09L502.87 380.32L499.05 381.06L495.12 381.32L491.47 381.57L488.05 381.8L484.82 382.01L481.75 382.21L478.81 382.38L475.98 382.54L473.24 382.67L470.57 382.79L467.96 382.88L465.4 382.95L462.86 383.01L460.35 383.04L457.85 383.05L455.35 383.04L452.84 383.01L450.3 382.95L447.74 382.88L445.13 382.79L442.46 382.67L439.72 382.54L436.89 382.38L433.95 382.21L430.88 382.01L427.65 381.8L424.23 381.57L420.58 381.32L416.65 381.06L412.83 380.32L412.55 376.09L412.29 372.2L412.04 368.58L411.81 365.2L411.6 362L411.4 358.97L411.23 356.06L411.07 353.26L410.94 350.54L410.82 347.9L410.73 345.32L410.65 342.78L410.6 340.27L410.57 337.78L410.56 335.3L410.57 332.82L410.6 330.33L410.65 327.82L410.73 325.28L410.82 322.7L410.94 320.06L411.07 317.34L411.23 314.54L411.4 311.63L411.6 308.6L411.81 305.4L412.04 302.02L412.29 298.4L412.55 294.51L412.83 290.28L416.65 289.54L420.58 289.28L424.23 289.03L427.65 288.8L430.88 288.59L433.95 288.39L436.89 288.22L439.72 288.06L442.46 287.93L445.13 287.81L447.74 287.72L450.3 287.65L452.84 287.59L455.35 287.56L457.85 287.55L460.35 287.56L462.86 287.59L465.4 287.65L467.96 287.72L470.57 287.81L473.24 287.93L475.98 288.06L478.81 288.22L481.75 288.39L484.82 288.59L488.05 288.8L491.47 289.03L495.12 289.28L499.05 289.54L502.87 290.28L503.15 294.51L503.41 298.4L503.66 302.02L503.89 305.4L504.1 308.6L504.3 311.63L504.47 314.54L504.63 317.34L504.76 320.06L504.88 322.7L504.97 325.28L505.05 327.82L505.1 330.33L505.13 332.82L505.14 335.3" stroke="#002626" stroke-width="0.6" stroke-opacity="0.5" fill="none"/><path d="M433 335.3a24.85 24.85 0 1 0 49.69 0a24.85 24.85 0 1 0 -49.69 0M431.19 335.3a26.66 26.66 0 1 0 53.33 0a26.66 26.66 0 1 0 -53.33 0M429.37 335.3a28.48 28.48 0 1 0 56.96 0a28.48 28.48 0 1 0 -56.96 0M427.55 335.3a30.3 30.3 0 1 0 60.6 0a30.3 30.3 0 1 0 -60.6 0M482.7 335.3L488.15 335.3M482.62 337.25L488.06 337.68M482.39 339.19L487.78 340.04M482.01 341.1L487.31 342.37M481.48 342.98L486.67 344.66M480.8 344.81L485.84 346.9M479.99 346.58L484.85 349.06M479.03 348.28L483.68 351.13M477.95 349.9L482.36 353.11M476.74 351.44L480.89 354.98M475.42 352.87L479.28 356.73M473.99 354.19L477.53 358.34M472.45 355.4L475.66 359.81M470.83 356.48L473.68 361.13M469.13 357.44L471.61 362.3M467.36 358.25L469.45 363.29M465.53 358.93L467.21 364.12M463.65 359.46L464.92 364.76M461.74 359.84L462.59 365.23M459.8 360.07L460.23 365.51M457.85 360.15L457.85 365.6M455.9 360.07L455.47 365.51M453.96 359.84L453.11 365.23M452.05 359.46L450.78 364.76M450.17 358.93L448.49 364.12M448.34 358.25L446.25 363.29M446.57 357.44L444.09 362.3M444.87 356.48L442.02 361.13M443.25 355.4L440.04 359.81M441.71 354.19L438.17 358.34M440.28 352.87L436.42 356.73M438.96 351.44L434.81 354.98M437.75 349.9L433.34 353.11M436.67 348.28L432.02 351.13M435.71 346.58L430.85 349.06M434.9 344.81L429.86 346.9M434.22 342.98L429.03 344.66M433.69 341.1L428.39 342.37M433.31 339.19L427.92 340.04M433.08 337.25L427.64 337.68M433 335.3L427.55 335.3M433.08 333.35L427.64 332.92M433.31 331.41L427.92 330.56M433.69 329.5L428.39 328.23M434.22 327.62L429.03 325.94M434.9 325.79L429.86 323.7M435.71 324.02L430.85 321.54M436.67 322.32L432.02 319.47M437.75 320.7L433.34 317.49M438.96 319.16L434.81 315.62M440.28 317.73L436.42 313.87M441.71 316.41L438.17 312.26M443.25 315.2L440.04 310.79M444.87 314.12L442.02 309.47M446.57 313.16L444.09 308.3M448.34 312.35L446.25 307.31M450.17 311.67L448.49 306.48M452.05 311.14L450.78 305.84M453.96 310.76L453.11 305.37M455.9 310.53L455.47 305.09M457.85 310.45L457.85 305M459.8 310.53L460.23 305.09M461.74 310.76L462.59 305.37M463.65 311.14L464.92 305.84M465.53 311.67L467.21 306.48M467.36 312.35L469.45 307.31M469.13 313.16L471.61 308.3M470.83 314.12L473.68 309.47M472.45 315.2L475.66 310.79M473.99 316.41L477.53 312.26M475.42 317.73L479.28 313.87M476.74 319.16L480.89 315.62M477.95 320.7L482.36 317.49M479.03 322.32L483.68 319.47M479.99 324.02L484.85 321.54M480.8 325.79L485.84 323.7M481.48 327.62L486.67 325.94M482.01 329.5L487.31 328.23M482.39 331.41L487.78 330.56M482.62 333.35L488.06 332.92" stroke="#002626" stroke-width="0.35" stroke-opacity="0.5" fill="none"/><path d="M433.5 330.36V340.24M450.72 311.5H464.98M435.5 324.45V346.15M445.93 313.5H469.77M437.5 321.05V349.55M442.84 315.5H472.86M439.5 318.55V352.05M440.52 317.5H475.18M441.5 316.59V354.01M438.67 319.5H477.03M443.5 315.02V355.58M437.19 321.5H478.51M445.5 313.74V356.86M435.98 323.5H479.72M447.5 312.71V357.89M435.02 325.5H480.68M449.5 311.9V358.7M434.26 327.5H481.44M451.5 311.28V359.32M433.69 329.5H482.01M453.5 310.84V359.76M433.3 331.5H482.4M455.5 310.57V360.03M433.07 333.5H482.63M457.5 310.46V360.14M433 335.5H482.7M459.5 310.51V360.09M433.1 337.5H482.6M461.5 310.72V359.88M433.36 339.5H482.34M463.5 311.1V359.5M433.79 341.5H481.91M465.5 311.66V358.94M434.4 343.5H481.3M467.5 312.4V358.2M435.19 345.5H480.51M469.5 313.35V357.25M436.21 347.5H479.49M471.5 314.54V356.06M437.46 349.5H478.24M473.5 316V354.6M439.01 351.5H476.69M475.5 317.81V352.79M440.94 353.5H474.76M477.5 320.09V350.51M443.38 355.5H472.32M479.5 323.11V347.49M446.69 357.5H469.01M481.5 327.68V342.92M452.22 359.5H463.48" stroke="#002626" stroke-width="0.45" stroke-opacity="0.65" fill="none"/></g><path d="M429.92 320.1L427.08 320.79L425.55 321.48L424.32 322.17L423.28 322.86L422.36 323.55L421.55 324.24L420.81 324.93L420.13 325.62L419.51 326.31L418.94 327L418.41 327.69L417.91 328.38L417.45 329.07L417.01 329.76L416.59 330.45L416.19 331.14L415.81 331.83L415.45 332.52L415.2 333.21L415.2 333.9L415.2 334.59L415.2 335.28L415.2 335.97L415.2 336.66L415.2 337.35L415.2 338.04L415.2 338.73L415.2 339.42L415.3 340.11L415.92 340.8L416.59 341.49L417.3 342.18L418.07 342.87L418.91 343.56L419.84 344.25L420.88 344.94L422.06 345.63L423.45 346.32L425.21 347.01L428.57 347.7L428.87 347.7L428.58 347.01L428.32 346.32L428.07 345.63L427.85 344.94L427.64 344.25L427.44 343.56L427.26 342.87L427.1 342.18L426.96 341.49L426.83 340.8L426.72 340.11L426.62 339.42L426.54 338.73L426.47 338.04L426.42 337.35L426.38 336.66L426.36 335.97L426.35 335.28L426.36 334.59L426.38 333.9L426.42 333.21L426.47 332.52L426.54 331.83L426.62 331.14L426.72 330.45L426.84 329.76L426.97 329.07L427.11 328.38L427.27 327.69L427.45 327L427.65 326.31L427.86 325.62L428.09 324.93L428.34 324.24L428.6 323.55L428.88 322.86L429.19 322.17L429.51 321.48L429.85 320.79L430.22 320.1Z" fill="#E400E4"/><path d="M486.5 321.5L489.77 322.21L491.5 322.93L492.89 323.64L494.06 324.35L495.09 325.06L496.01 325.77L496.85 326.49L497.61 327.2L498.32 327.91L498.97 328.62L499.59 329.34L500.16 330.05L500.71 330.76L501.23 331.48L501.6 332.19L501.6 332.9L501.6 333.61L501.6 334.32L501.6 335.04L501.6 335.75L501.6 336.46L501.6 337.18L501.6 337.89L501.6 338.6L501.6 339.31L501.58 340.02L501.04 340.74L500.47 341.45L499.87 342.16L499.23 342.88L498.55 343.59L497.81 344.3L497 345.01L496.12 345.73L495.15 346.44L494.07 347.15L492.82 347.86L491.36 348.57L489.52 349.29L486.05 350L485.75 350L486.11 349.29L486.45 348.57L486.76 347.86L487.06 347.15L487.34 346.44L487.59 345.73L487.83 345.01L488.05 344.3L488.25 343.59L488.43 342.88L488.6 342.16L488.75 341.45L488.88 340.74L489 340.02L489.1 339.31L489.18 338.6L489.24 337.89L489.29 337.18L489.33 336.46L489.35 335.75L489.35 335.04L489.34 334.32L489.31 333.61L489.26 332.9L489.2 332.19L489.12 331.48L489.02 330.76L488.91 330.05L488.79 329.34L488.64 328.62L488.48 327.91L488.3 327.2L488.1 326.49L487.89 325.77L487.66 325.06L487.41 324.35L487.13 323.64L486.84 322.93L486.53 322.21L486.2 321.5Z" fill="#E400E4"/><rect x="381.8" y="286.6" width="26.6" height="13.6" fill="none" stroke="#062828" stroke-width="0.95"/><text x="395.2" y="296.94" text-anchor="middle" class="pl" textLength="18.3" stroke="#082020" stroke-width="0.3" lengthAdjust="spacingAndGlyphs">CD13</text><rect x="382.4" y="279.6" width="14" height="1.1" fill="#004848" opacity="0.4"/><rect x="524.4" y="274.5" width="13.6" height="7.1" fill="#fff"/><text x="524.8" y="278.7" class="an" textLength="12.4" lengthAdjust="spacingAndGlyphs" stroke="#000" stroke-width="0.08">ANSYS</text><rect x="530.2" y="279.9" width="6.8" height="1.0" fill="#804070" opacity="0.75"/></svg><svg x="53.5" y="400.6" width="159.3" height="119.2" viewBox="53.5 400.6 159.3 119.2" overflow="hidden"><rect x="53.5" y="400.6" width="159.3" height="119.2" fill="#00FFFF"/><g filter="url(#bl)"><path d="M85.1 400.6V519.8M74.1 400.6V519.8M63.1 400.6V519.8M180.2 400.6V519.8M191.2 400.6V519.8M202.2 400.6V519.8M96.99 400.6V519.8M108.88 400.6V519.8M120.76 400.6V519.8M132.65 400.6V519.8M144.54 400.6V519.8M156.42 400.6V519.8M168.31 400.6V519.8M53.5 412.3H212.8M53.5 401.3H212.8M53.5 507.6H212.8M53.5 518.6H212.8M53.5 424.21H212.8M53.5 436.12H212.8M53.5 448.04H212.8M53.5 459.95H212.8M53.5 471.86H212.8M53.5 483.78H212.8M53.5 495.69H212.8" stroke="#002626" stroke-width="0.6" stroke-opacity="0.5" fill="none"/><rect x="85.1" y="412.3" width="95.1" height="95.3" fill="#00FFFF" stroke="#002626" stroke-width="0.9" stroke-opacity="0.6"/><path d="M154.13 460.75L169.18 461.32Q174.69 461.52 180.2 462.07M154.01 462.36L168.98 464.04Q174.59 464.68 180.2 466.32M153.78 463.95L168.57 466.75Q174.39 467.85 180.2 470.58M153.42 465.51L167.96 469.41Q174.08 471.05 180.2 474.88M152.94 467.05L167.16 472.02Q173.68 474.31 180.2 479.22M152.36 468.55L166.16 474.57Q173.18 477.63 180.2 483.63M151.66 470L164.97 477.03Q172.59 481.06 180.2 488.12M150.85 471.39L163.61 479.4Q171.9 484.61 180.2 492.71M149.95 472.72L162.07 481.66Q171.13 488.35 180.2 497.45M148.95 473.97L160.36 483.8Q170.28 492.33 180.2 502.37M147.85 475.15L158.5 485.8Q169.35 496.65 180.2 507.53M146.67 476.25L156.5 487.66Q165.08 497.63 175.1 507.6M145.42 477.25L154.36 489.37Q161.09 498.48 170.17 507.6M144.09 478.15L152.1 490.91Q157.35 499.25 165.43 507.6M142.7 478.96L149.73 492.27Q153.78 499.94 160.83 507.6M141.25 479.66L147.27 493.46Q150.35 500.53 156.34 507.6M139.75 480.24L144.72 494.46Q147.02 501.03 151.93 507.6M138.21 480.72L142.11 495.26Q143.77 501.43 147.59 507.6M136.65 481.08L139.45 495.87Q140.56 501.74 143.29 507.6M135.06 481.31L136.74 496.28Q137.38 501.94 139.02 507.6M133.45 481.43L134.02 496.48Q134.22 502.04 134.77 507.6M131.85 481.43L131.28 496.48Q131.08 502.04 130.53 507.6M130.24 481.31L128.56 496.28Q127.92 501.94 126.28 507.6M128.65 481.08L125.85 495.87Q124.74 501.74 122.01 507.6M127.09 480.72L123.19 495.26Q121.53 501.43 117.71 507.6M125.55 480.24L120.58 494.46Q118.28 501.03 113.37 507.6M124.05 479.66L118.03 493.46Q114.95 500.53 108.96 507.6M122.6 478.96L115.57 492.27Q111.52 499.94 104.47 507.6M121.21 478.15L113.2 490.91Q107.95 499.25 99.87 507.6M119.88 477.25L110.94 489.37Q104.21 498.48 95.13 507.6M118.63 476.25L108.8 487.66Q100.22 497.63 90.2 507.6M117.45 475.15L106.8 485.8Q95.95 496.65 85.1 507.54M116.35 473.97L104.94 483.8Q95.02 492.33 85.1 502.37M115.35 472.72L103.23 481.66Q94.17 488.35 85.1 497.45M114.45 471.39L101.69 479.4Q93.4 484.61 85.1 492.71M113.64 470L100.33 477.03Q92.71 481.06 85.1 488.12M112.94 468.55L99.14 474.57Q92.12 477.63 85.1 483.63M112.36 467.05L98.14 472.02Q91.62 474.31 85.1 479.22M111.88 465.51L97.34 469.41Q91.22 471.05 85.1 474.88M111.52 463.95L96.73 466.75Q90.91 467.85 85.1 470.58M111.29 462.36L96.32 464.04Q90.71 464.68 85.1 466.32M111.17 460.75L96.12 461.32Q90.61 461.52 85.1 462.07M111.17 459.15L96.12 458.58Q90.61 458.38 85.1 457.83M111.29 457.54L96.32 455.86Q90.71 455.22 85.1 453.58M111.52 455.95L96.73 453.15Q90.91 452.05 85.1 449.32M111.88 454.39L97.34 450.49Q91.22 448.85 85.1 445.02M112.36 452.85L98.14 447.88Q91.62 445.59 85.1 440.68M112.94 451.35L99.14 445.33Q92.12 442.27 85.1 436.27M113.64 449.9L100.33 442.87Q92.71 438.84 85.1 431.78M114.45 448.51L101.69 440.5Q93.4 435.29 85.1 427.19M115.35 447.18L103.23 438.24Q94.17 431.55 85.1 422.45M116.35 445.93L104.94 436.1Q95.02 427.57 85.1 417.53M117.45 444.75L106.8 434.1Q95.95 423.25 85.1 412.37M118.63 443.65L108.8 432.24Q100.22 422.27 90.2 412.3M119.88 442.65L110.94 430.53Q104.21 421.42 95.13 412.3M121.21 441.75L113.2 428.99Q107.95 420.65 99.87 412.3M122.6 440.94L115.57 427.63Q111.52 419.96 104.47 412.3M124.05 440.24L118.03 426.44Q114.95 419.37 108.96 412.3M125.55 439.66L120.58 425.44Q118.28 418.87 113.37 412.3M127.09 439.18L123.19 424.64Q121.53 418.47 117.71 412.3M128.65 438.82L125.85 424.03Q124.74 418.16 122.01 412.3M130.24 438.59L128.56 423.62Q127.92 417.96 126.28 412.3M131.85 438.47L131.28 423.42Q131.08 417.86 130.53 412.3M133.45 438.47L134.02 423.42Q134.22 417.86 134.77 412.3M135.06 438.59L136.74 423.62Q137.38 417.96 139.02 412.3M136.65 438.82L139.45 424.03Q140.56 418.16 143.29 412.3M138.21 439.18L142.11 424.64Q143.77 418.47 147.59 412.3M139.75 439.66L144.72 425.44Q147.02 418.87 151.93 412.3M141.25 440.24L147.27 426.44Q150.35 419.37 156.34 412.3M142.7 440.94L149.73 427.63Q153.78 419.96 160.83 412.3M144.09 441.75L152.1 428.99Q157.35 420.65 165.43 412.3M145.42 442.65L154.36 430.53Q161.09 421.42 170.17 412.3M146.67 443.65L156.5 432.24Q165.08 422.27 175.1 412.3M147.85 444.75L158.5 434.1Q169.35 423.25 180.2 412.37M148.95 445.93L160.36 436.1Q170.28 427.57 180.2 417.53M149.95 447.18L162.07 438.24Q171.13 431.55 180.2 422.45M150.85 448.51L163.61 440.5Q171.9 435.29 180.2 427.19M151.66 449.9L164.97 442.87Q172.59 438.84 180.2 431.78M152.36 451.35L166.16 445.33Q173.18 442.27 180.2 436.27M152.94 452.85L167.16 447.88Q173.68 445.59 180.2 440.68M153.42 454.39L167.96 450.49Q174.08 448.85 180.2 445.02M153.78 455.95L168.57 453.15Q174.39 452.05 180.2 449.32M154.01 457.54L168.98 455.86Q174.59 455.22 180.2 453.58M154.13 459.15L169.18 458.58Q174.69 458.38 180.2 457.83" stroke="#002626" stroke-width="0.6" stroke-opacity="0.6" fill="none"/><path d="M102.78 459.95a29.87 29.87 0 1 0 59.73 0a29.87 29.87 0 1 0 -59.73 0M94.42 459.95a38.23 38.23 0 1 0 76.47 0a38.23 38.23 0 1 0 -76.47 0M86.05 459.95a46.6 46.6 0 1 0 93.2 0a46.6 46.6 0 1 0 -93.2 0" stroke="#002626" stroke-width="0.5" stroke-opacity="0.15" fill="none"/><path d="M179.41 459.95L179.35 462.4L179.19 464.84L178.93 467.28L178.56 469.71L178.08 472.12L177.51 474.52L176.83 476.91L176.05 479.27L175.18 481.62L174.2 483.94L173.14 486.25L171.99 488.53L170.75 490.81L169.43 493.07L168.03 495.33L165.78 496.75L163.52 498.07L161.25 499.31L158.96 500.46L156.65 501.52L154.33 502.49L151.98 503.37L149.61 504.14L147.23 504.82L144.83 505.4L142.41 505.88L139.98 506.25L137.54 506.51L135.1 506.67L132.65 506.72L130.2 506.67L127.76 506.51L125.32 506.25L122.89 505.88L120.47 505.4L118.07 504.82L115.69 504.14L113.32 503.37L110.97 502.49L108.65 501.52L106.34 500.46L104.05 499.31L101.78 498.07L99.52 496.75L97.27 495.33L95.87 493.07L94.55 490.81L93.31 488.53L92.16 486.25L91.1 483.94L90.12 481.62L89.25 479.27L88.47 476.91L87.79 474.52L87.22 472.12L86.74 469.71L86.37 467.28L86.11 464.84L85.95 462.4L85.89 459.95L85.95 457.5L86.11 455.06L86.37 452.62L86.74 450.19L87.22 447.78L87.79 445.38L88.47 442.99L89.25 440.63L90.12 438.28L91.1 435.96L92.16 433.65L93.31 431.37L94.55 429.09L95.87 426.83L97.27 424.57L99.52 423.15L101.78 421.83L104.05 420.59L106.34 419.44L108.65 418.38L110.97 417.41L113.32 416.53L115.69 415.76L118.07 415.08L120.47 414.5L122.89 414.02L125.32 413.65L127.76 413.39L130.2 413.23L132.65 413.18L135.1 413.23L137.54 413.39L139.98 413.65L142.41 414.02L144.83 414.5L147.23 415.08L149.61 415.76L151.98 416.53L154.33 417.41L156.65 418.38L158.96 419.44L161.25 420.59L163.52 421.83L165.78 423.15L168.03 424.57L169.43 426.83L170.75 429.09L171.99 431.37L173.14 433.65L174.2 435.96L175.18 438.28L176.05 440.63L176.83 442.99L177.51 445.38L178.08 447.78L178.56 450.19L178.93 452.62L179.19 455.06L179.35 457.5L179.41 459.95M179.57 459.95L179.52 462.41L179.4 464.86L179.18 467.32L178.89 469.78L178.51 472.24L178.05 474.7L177.5 477.17L176.88 479.64L176.18 482.13L175.4 484.63L174.55 487.16L173.63 489.73L172.64 492.34L171.59 495.01L170.47 497.77L167.74 498.92L165.06 499.98L162.45 500.97L159.88 501.89L157.35 502.74L154.85 503.51L152.36 504.21L149.88 504.84L147.41 505.38L144.95 505.84L142.49 506.22L140.03 506.52L137.57 506.73L135.11 506.86L132.65 506.9L130.19 506.86L127.73 506.73L125.27 506.52L122.81 506.22L120.35 505.84L117.89 505.38L115.42 504.84L112.94 504.21L110.45 503.51L107.95 502.74L105.42 501.89L102.85 500.97L100.24 499.98L97.56 498.92L94.83 497.77L93.71 495.01L92.66 492.34L91.67 489.73L90.75 487.16L89.9 484.63L89.12 482.13L88.42 479.64L87.8 477.17L87.25 474.7L86.79 472.24L86.41 469.78L86.12 467.32L85.9 464.86L85.78 462.41L85.73 459.95L85.78 457.49L85.9 455.04L86.12 452.58L86.41 450.12L86.79 447.66L87.25 445.2L87.8 442.73L88.42 440.26L89.12 437.77L89.9 435.27L90.75 432.74L91.67 430.17L92.66 427.56L93.71 424.89L94.83 422.13L97.56 420.98L100.24 419.92L102.85 418.93L105.42 418.01L107.95 417.16L110.45 416.39L112.94 415.69L115.42 415.06L117.89 414.52L120.35 414.06L122.81 413.68L125.27 413.38L127.73 413.17L130.19 413.04L132.65 413L135.11 413.04L137.57 413.17L140.03 413.38L142.49 413.68L144.95 414.06L147.41 414.52L149.88 415.06L152.36 415.69L154.85 416.39L157.35 417.16L159.88 418.01L162.45 418.93L165.06 419.92L167.74 420.98L170.47 422.13L171.59 424.89L172.64 427.56L173.63 430.17L174.55 432.74L175.4 435.27L176.18 437.77L176.88 440.26L177.5 442.73L178.05 445.2L178.51 447.66L178.89 450.12L179.18 452.58L179.4 455.04L179.52 457.49L179.57 459.95M179.72 459.95L179.69 462.42L179.6 464.88L179.44 467.36L179.22 469.85L178.93 472.35L178.58 474.87L178.18 477.43L177.71 480.01L177.19 482.64L176.6 485.33L175.97 488.08L175.27 490.92L174.53 493.87L173.74 496.95L172.9 500.2L169.69 501.09L166.61 501.88L163.65 502.62L160.81 503.32L158.06 503.95L155.37 504.54L152.73 505.06L150.15 505.53L147.59 505.93L145.06 506.28L142.56 506.57L140.07 506.79L137.59 506.95L135.12 507.04L132.65 507.07L130.18 507.04L127.71 506.95L125.23 506.79L122.74 506.57L120.24 506.28L117.71 505.93L115.15 505.53L112.57 505.06L109.93 504.54L107.24 503.95L104.49 503.32L101.65 502.62L98.69 501.88L95.61 501.09L92.4 500.2L91.56 496.95L90.77 493.87L90.03 490.92L89.33 488.08L88.7 485.33L88.11 482.64L87.59 480.01L87.12 477.43L86.72 474.87L86.37 472.35L86.08 469.85L85.86 467.36L85.7 464.88L85.61 462.42L85.58 459.95L85.61 457.48L85.7 455.02L85.86 452.54L86.08 450.05L86.37 447.55L86.72 445.03L87.12 442.47L87.59 439.89L88.11 437.26L88.7 434.57L89.33 431.82L90.03 428.98L90.77 426.03L91.56 422.95L92.4 419.7L95.61 418.81L98.69 418.02L101.65 417.28L104.49 416.58L107.24 415.95L109.93 415.36L112.57 414.84L115.15 414.37L117.71 413.97L120.24 413.62L122.74 413.33L125.23 413.11L127.71 412.95L130.18 412.86L132.65 412.83L135.12 412.86L137.59 412.95L140.07 413.11L142.56 413.33L145.06 413.62L147.59 413.97L150.15 414.37L152.73 414.84L155.37 415.36L158.06 415.95L160.81 416.58L163.65 417.28L166.61 418.02L169.69 418.81L172.9 419.7L173.74 422.95L174.53 426.03L175.27 428.98L175.97 431.82L176.6 434.57L177.19 437.26L177.71 439.89L178.18 442.47L178.58 445.03L178.93 447.55L179.22 450.05L179.44 452.54L179.6 455.02L179.69 457.48L179.72 459.95M179.88 459.95L179.86 462.42L179.8 464.91L179.69 467.4L179.54 469.92L179.35 472.46L179.12 475.05L178.85 477.69L178.54 480.38L178.19 483.15L177.8 486.02L177.38 489L176.92 492.11L176.42 495.4L175.89 498.89L175.33 502.63L171.65 503.26L168.15 503.79L164.86 504.28L161.74 504.74L158.76 505.17L155.89 505.56L153.11 505.91L150.41 506.22L147.77 506.49L145.18 506.72L142.63 506.91L140.11 507.06L137.61 507.16L135.13 507.23L132.65 507.25L130.17 507.23L127.69 507.16L125.19 507.06L122.67 506.91L120.12 506.72L117.53 506.49L114.89 506.22L112.19 505.91L109.41 505.56L106.54 505.17L103.56 504.74L100.44 504.28L97.15 503.79L93.65 503.26L89.97 502.63L89.41 498.89L88.88 495.4L88.38 492.11L87.92 489L87.5 486.02L87.11 483.15L86.76 480.38L86.45 477.69L86.18 475.05L85.95 472.46L85.76 469.92L85.61 467.4L85.5 464.91L85.44 462.42L85.42 459.95L85.44 457.48L85.5 454.99L85.61 452.5L85.76 449.98L85.95 447.44L86.18 444.85L86.45 442.21L86.76 439.52L87.11 436.75L87.5 433.88L87.92 430.9L88.38 427.79L88.88 424.5L89.41 421.01L89.97 417.27L93.65 416.64L97.15 416.11L100.44 415.62L103.56 415.16L106.54 414.73L109.41 414.34L112.19 413.99L114.89 413.68L117.53 413.41L120.12 413.18L122.67 412.99L125.19 412.84L127.69 412.74L130.17 412.67L132.65 412.65L135.13 412.67L137.61 412.74L140.11 412.84L142.63 412.99L145.18 413.18L147.77 413.41L150.41 413.68L153.11 413.99L155.89 414.34L158.76 414.73L161.74 415.16L164.86 415.62L168.15 416.11L171.65 416.64L175.33 417.27L175.89 421.01L176.42 424.5L176.92 427.79L177.38 430.9L177.8 433.88L178.19 436.75L178.54 439.52L178.85 442.21L179.12 444.85L179.35 447.44L179.54 449.98L179.69 452.5L179.8 454.99L179.86 457.48L179.88 459.95M180.04 459.95L180.03 462.43L180 464.93L179.95 467.44L179.87 469.99L179.78 472.58L179.66 475.22L179.53 477.94L179.37 480.75L179.2 483.67L179 486.71L178.79 489.91L178.56 493.3L178.31 496.93L178.05 500.83L177.77 505.07L173.6 505.43L169.69 505.69L166.06 505.94L162.67 506.17L159.46 506.38L156.41 506.58L153.49 506.75L150.68 506.91L147.95 507.04L145.3 507.16L142.71 507.26L140.15 507.33L137.64 507.38L135.14 507.41L132.65 507.42L130.16 507.41L127.66 507.38L125.15 507.33L122.59 507.26L120 507.16L117.35 507.04L114.62 506.91L111.81 506.75L108.89 506.58L105.84 506.38L102.63 506.17L99.24 505.94L95.61 505.69L91.7 505.43L87.53 505.07L87.25 500.83L86.99 496.93L86.74 493.3L86.51 489.91L86.3 486.71L86.1 483.67L85.93 480.75L85.77 477.94L85.64 475.22L85.52 472.58L85.43 469.99L85.35 467.44L85.3 464.93L85.27 462.43L85.26 459.95L85.27 457.47L85.3 454.97L85.35 452.46L85.43 449.91L85.52 447.32L85.64 444.68L85.77 441.96L85.93 439.15L86.1 436.23L86.3 433.19L86.51 429.99L86.74 426.6L86.99 422.97L87.25 419.07L87.53 414.83L91.7 414.47L95.61 414.21L99.24 413.96L102.63 413.73L105.84 413.52L108.89 413.32L111.81 413.15L114.62 412.99L117.35 412.86L120 412.74L122.59 412.64L125.15 412.57L127.66 412.52L130.16 412.49L132.65 412.48L135.14 412.49L137.64 412.52L140.15 412.57L142.71 412.64L145.3 412.74L147.95 412.86L150.68 412.99L153.49 413.15L156.41 413.32L159.46 413.52L162.67 413.73L166.06 413.96L169.69 414.21L173.6 414.47L177.77 414.83L178.05 419.07L178.31 422.97L178.56 426.6L178.79 429.99L179 433.19L179.2 436.23L179.37 439.15L179.53 441.96L179.66 444.68L179.78 447.32L179.87 449.91L179.95 452.46L180 454.97L180.03 457.47L180.04 459.95" stroke="#002626" stroke-width="0.6" stroke-opacity="0.5" fill="none"/><path d="M145.98 459.95L145.98 460.88L145.98 461.82L145.97 462.78L145.96 463.77L145.92 464.78L145.85 465.83L145.73 466.9L145.52 467.99L145.19 469.06L144.7 470.06L144.05 470.96L143.23 471.7L142.27 472.27L141.23 472.67L140.15 472.93L139.06 473.1L138 473.19L136.97 473.24L135.97 473.27L135 473.28L134.05 473.28L133.12 473.28L132.18 473.28L131.25 473.28L130.3 473.28L129.33 473.27L128.33 473.24L127.3 473.19L126.24 473.1L125.15 472.93L124.07 472.67L123.03 472.27L122.07 471.7L121.25 470.96L120.6 470.06L120.11 469.06L119.78 467.99L119.57 466.9L119.45 465.83L119.38 464.78L119.34 463.77L119.33 462.78L119.32 461.82L119.32 460.88L119.32 459.95L119.32 459.02L119.32 458.08L119.33 457.12L119.34 456.13L119.38 455.12L119.45 454.07L119.57 453L119.78 451.91L120.11 450.84L120.6 449.84L121.25 448.94L122.07 448.2L123.03 447.63L124.07 447.23L125.15 446.97L126.24 446.8L127.3 446.71L128.33 446.66L129.33 446.63L130.3 446.62L131.25 446.62L132.18 446.62L133.12 446.62L134.05 446.62L135 446.62L135.97 446.63L136.97 446.66L138 446.71L139.06 446.8L140.15 446.97L141.23 447.23L142.27 447.63L143.23 448.2L144.05 448.94L144.7 449.84L145.19 450.84L145.52 451.91L145.73 453L145.85 454.07L145.92 455.12L145.96 456.13L145.97 457.12L145.98 458.08L145.98 459.02ZM148.02 459.95L148.01 461.02L147.97 462.1L147.9 463.19L147.8 464.29L147.65 465.41L147.46 466.54L147.2 467.69L146.86 468.83L146.4 469.94L145.81 470.99L145.07 471.94L144.18 472.76L143.18 473.42L142.09 473.94L140.96 474.34L139.82 474.64L138.68 474.87L137.55 475.03L136.44 475.15L135.35 475.24L134.26 475.29L133.19 475.32L132.11 475.32L131.04 475.29L129.95 475.24L128.86 475.15L127.75 475.03L126.62 474.87L125.48 474.64L124.34 474.34L123.21 473.94L122.12 473.42L121.12 472.76L120.23 471.94L119.49 470.99L118.9 469.94L118.44 468.83L118.1 467.69L117.84 466.54L117.65 465.41L117.5 464.29L117.4 463.19L117.33 462.1L117.29 461.02L117.28 459.95L117.29 458.88L117.33 457.8L117.4 456.71L117.5 455.61L117.65 454.49L117.84 453.36L118.1 452.21L118.44 451.07L118.9 449.96L119.49 448.91L120.23 447.96L121.12 447.14L122.12 446.48L123.21 445.96L124.34 445.56L125.48 445.26L126.62 445.03L127.75 444.87L128.86 444.75L129.95 444.66L131.04 444.61L132.11 444.58L133.19 444.58L134.26 444.61L135.35 444.66L136.44 444.75L137.55 444.87L138.68 445.03L139.82 445.26L140.96 445.56L142.09 445.96L143.18 446.48L144.18 447.14L145.07 447.96L145.81 448.91L146.4 449.96L146.86 451.07L147.2 452.21L147.46 453.36L147.65 454.49L147.8 455.61L147.9 456.71L147.97 457.8L148.01 458.88ZM150.06 459.95L150.04 461.17L149.96 462.38L149.83 463.6L149.64 464.82L149.39 466.04L149.07 467.26L148.68 468.47L148.2 469.67L147.61 470.82L146.91 471.92L146.08 472.92L145.13 473.81L144.08 474.58L142.95 475.22L141.77 475.75L140.57 476.19L139.35 476.54L138.13 476.82L136.91 477.04L135.69 477.2L134.47 477.31L133.26 477.36L132.04 477.36L130.83 477.31L129.61 477.2L128.39 477.04L127.17 476.82L125.95 476.54L124.73 476.19L123.53 475.75L122.35 475.22L121.22 474.58L120.17 473.81L119.22 472.92L118.39 471.92L117.69 470.82L117.1 469.67L116.62 468.47L116.23 467.26L115.91 466.04L115.66 464.82L115.47 463.6L115.34 462.38L115.26 461.17L115.24 459.95L115.26 458.73L115.34 457.52L115.47 456.3L115.66 455.08L115.91 453.86L116.23 452.64L116.62 451.43L117.1 450.23L117.69 449.08L118.39 447.98L119.22 446.98L120.17 446.09L121.22 445.32L122.35 444.68L123.53 444.15L124.73 443.71L125.95 443.36L127.17 443.08L128.39 442.86L129.61 442.7L130.83 442.59L132.04 442.54L133.26 442.54L134.47 442.59L135.69 442.7L136.91 442.86L138.13 443.08L139.35 443.36L140.57 443.71L141.77 444.15L142.95 444.68L144.08 445.32L145.13 446.09L146.08 446.98L146.91 447.98L147.61 449.08L148.2 450.23L148.68 451.43L149.07 452.64L149.39 453.86L149.64 455.08L149.83 456.3L149.96 457.52L150.04 458.73ZM152.11 459.95L152.07 461.31L151.95 462.66L151.75 464.01L151.48 465.35L151.12 466.67L150.68 467.98L150.16 469.26L149.54 470.5L148.83 471.7L148.02 472.84L147.1 473.9L146.08 474.87L144.98 475.74L143.81 476.5L142.59 477.16L141.32 477.73L140.03 478.21L138.71 478.61L137.38 478.93L136.04 479.16L134.69 479.32L133.33 479.4L131.97 479.4L130.61 479.32L129.26 479.16L127.92 478.93L126.59 478.61L125.27 478.21L123.98 477.73L122.71 477.16L121.49 476.5L120.32 475.74L119.22 474.87L118.2 473.9L117.28 472.84L116.47 471.7L115.76 470.5L115.14 469.26L114.62 467.98L114.18 466.67L113.82 465.35L113.55 464.01L113.35 462.66L113.23 461.31L113.19 459.95L113.23 458.59L113.35 457.24L113.55 455.89L113.82 454.55L114.18 453.23L114.62 451.92L115.14 450.64L115.76 449.4L116.47 448.2L117.28 447.06L118.2 446L119.22 445.03L120.32 444.16L121.49 443.4L122.71 442.74L123.98 442.17L125.27 441.69L126.59 441.29L127.92 440.97L129.26 440.74L130.61 440.58L131.97 440.5L133.33 440.5L134.69 440.58L136.04 440.74L137.38 440.97L138.71 441.29L140.03 441.69L141.32 442.17L142.59 442.74L143.81 443.4L144.98 444.16L146.08 445.03L147.1 446L148.02 447.06L148.83 448.2L149.54 449.4L150.16 450.64L150.68 451.92L151.12 453.23L151.48 454.55L151.75 455.89L151.95 457.24L152.07 458.59ZM154.15 459.95L154.1 461.45L153.94 462.94L153.68 464.42L153.32 465.88L152.85 467.3L152.29 468.69L151.63 470.04L150.88 471.34L150.04 472.59L149.12 473.77L148.12 474.89L147.04 475.93L145.89 476.89L144.67 477.77L143.4 478.57L142.07 479.27L140.7 479.88L139.29 480.4L137.85 480.81L136.38 481.12L134.9 481.33L133.4 481.44L131.9 481.44L130.4 481.33L128.92 481.12L127.45 480.81L126.01 480.4L124.6 479.88L123.23 479.27L121.9 478.57L120.63 477.77L119.41 476.89L118.26 475.93L117.18 474.89L116.18 473.77L115.26 472.59L114.42 471.34L113.67 470.04L113.01 468.69L112.45 467.3L111.98 465.88L111.62 464.42L111.36 462.94L111.2 461.45L111.15 459.95L111.2 458.45L111.36 456.96L111.62 455.48L111.98 454.02L112.45 452.6L113.01 451.21L113.67 449.86L114.42 448.56L115.26 447.31L116.18 446.13L117.18 445.01L118.26 443.97L119.41 443.01L120.63 442.13L121.9 441.33L123.23 440.63L124.6 440.02L126.01 439.5L127.45 439.09L128.92 438.78L130.4 438.57L131.9 438.46L133.4 438.46L134.9 438.57L136.38 438.78L137.85 439.09L139.29 439.5L140.7 440.02L142.07 440.63L143.4 441.33L144.67 442.13L145.89 443.01L147.04 443.97L148.12 445.01L149.12 446.13L150.04 447.31L150.88 448.56L151.63 449.86L152.29 451.21L152.85 452.6L153.32 454.02L153.68 455.48L153.94 456.96L154.1 458.45ZM145.98 459.95L154.15 459.95M145.98 461L154.08 461.64M145.98 462.06L153.89 463.31M145.97 463.15L153.56 464.97M145.94 464.27L153.1 466.59M145.88 465.43L152.51 468.18M145.76 466.63L151.81 469.71M145.55 467.85L150.98 471.18M145.19 469.06L150.04 472.59M144.63 470.18L149 473.91M143.86 471.16L147.85 475.15M142.88 471.93L146.61 476.3M141.76 472.49L145.29 477.34M140.55 472.85L143.88 478.28M139.33 473.06L142.41 479.11M138.13 473.18L140.88 479.81M136.97 473.24L139.29 480.4M135.85 473.27L137.67 480.86M134.76 473.28L136.01 481.19M133.7 473.28L134.34 481.38M132.65 473.28L132.65 481.45M131.6 473.28L130.96 481.38M130.54 473.28L129.29 481.19M129.45 473.27L127.63 480.86M128.33 473.24L126.01 480.4M127.17 473.18L124.42 479.81M125.97 473.06L122.89 479.11M124.75 472.85L121.42 478.28M123.54 472.49L120.01 477.34M122.42 471.93L118.69 476.3M121.44 471.16L117.45 475.15M120.67 470.18L116.3 473.91M120.11 469.06L115.26 472.59M119.75 467.85L114.32 471.18M119.54 466.63L113.49 469.71M119.42 465.43L112.79 468.18M119.36 464.27L112.2 466.59M119.33 463.15L111.74 464.97M119.32 462.06L111.41 463.31M119.32 461L111.22 461.64M119.32 459.95L111.15 459.95M119.32 458.9L111.22 458.26M119.32 457.84L111.41 456.59M119.33 456.75L111.74 454.93M119.36 455.63L112.2 453.31M119.42 454.47L112.79 451.72M119.54 453.27L113.49 450.19M119.75 452.05L114.32 448.72M120.11 450.84L115.26 447.31M120.67 449.72L116.3 445.99M121.44 448.74L117.45 444.75M122.42 447.97L118.69 443.6M123.54 447.41L120.01 442.56M124.75 447.05L121.42 441.62M125.97 446.84L122.89 440.79M127.17 446.72L124.42 440.09M128.33 446.66L126.01 439.5M129.45 446.63L127.63 439.04M130.54 446.62L129.29 438.71M131.6 446.62L130.96 438.52M132.65 446.62L132.65 438.45M133.7 446.62L134.34 438.52M134.76 446.62L136.01 438.71M135.85 446.63L137.67 439.04M136.97 446.66L139.29 439.5M138.13 446.72L140.88 440.09M139.33 446.84L142.41 440.79M140.55 447.05L143.88 441.62M141.76 447.41L145.29 442.56M142.88 447.97L146.61 443.6M143.86 448.74L147.85 444.75M144.63 449.72L149 445.99M145.19 450.84L150.04 447.31M145.55 452.05L150.98 448.72M145.76 453.27L151.81 450.19M145.88 454.47L152.51 451.72M145.94 455.63L153.1 453.31M145.97 456.75L153.56 454.93M145.98 457.84L153.89 456.59M145.98 458.9L154.08 458.26" stroke="#002626" stroke-width="0.35" stroke-opacity="0.45" fill="none"/><clipPath id="cqCD14"><rect x="119.32" y="446.62" width="26.66" height="26.66" rx="6"/></clipPath><path clip-path="url(#cqCD14)" d="M119.05 446.62V473.28M119.32 446.35H145.98M120.75 446.62V473.28M119.32 448.05H145.98M122.45 446.62V473.28M119.32 449.75H145.98M124.15 446.62V473.28M119.32 451.45H145.98M125.85 446.62V473.28M119.32 453.15H145.98M127.55 446.62V473.28M119.32 454.85H145.98M129.25 446.62V473.28M119.32 456.55H145.98M130.95 446.62V473.28M119.32 458.25H145.98M132.65 446.62V473.28M119.32 459.95H145.98M134.35 446.62V473.28M119.32 461.65H145.98M136.05 446.62V473.28M119.32 463.35H145.98M137.75 446.62V473.28M119.32 465.05H145.98M139.45 446.62V473.28M119.32 466.75H145.98M141.15 446.62V473.28M119.32 468.45H145.98M142.85 446.62V473.28M119.32 470.15H145.98M144.55 446.62V473.28M119.32 471.85H145.98" stroke="#002626" stroke-width="0.45" stroke-opacity="0.7" fill="none"/></g><path d="M115.17 445L111.53 445.74L109.03 446.47L106.9 447.2L105.01 447.94L103.3 448.68L101.74 449.41L100.29 450.14L98.95 450.88L97.69 451.62L96.5 452.35L95.37 453.08L94.3 453.82L93.28 454.56L92.3 455.29L91.35 456.02L91 456.76L91 457.5L91 458.23L91 458.96L91 459.7L91 460.44L91 461.17L91 461.9L91 462.64L91 463.38L91 464.11L91 464.84L91 465.58L91 466.31L91.86 467.05L93.33 467.78L94.88 468.52L96.53 469.25L98.29 469.99L100.2 470.72L102.28 471.46L104.58 472.19L107.18 472.93L110.24 473.66L114.76 474.4L115.06 474.4L114.49 473.66L113.96 472.93L113.48 472.19L113.04 471.46L112.63 470.72L112.26 469.99L111.92 469.25L111.61 468.52L111.33 467.78L111.07 467.05L110.85 466.31L110.65 465.58L110.48 464.84L110.33 464.11L110.21 463.38L110.11 462.64L110.03 461.9L109.98 461.17L109.96 460.44L109.95 459.7L109.97 458.96L110.01 458.23L110.08 457.5L110.17 456.76L110.29 456.02L110.43 455.29L110.59 454.56L110.78 453.82L111 453.08L111.24 452.35L111.51 451.62L111.81 450.88L112.14 450.14L112.51 449.41L112.9 448.68L113.33 447.94L113.8 447.2L114.31 446.47L114.87 445.74L115.47 445Z" fill="#E400E4"/><path d="M150.86 445.9L155.1 446.63L157.99 447.37L160.45 448.1L162.63 448.84L164.61 449.57L166.42 450.31L168.1 451.04L169.68 451.78L171.16 452.51L172.56 453.25L173.9 453.99L174.8 454.72L174.8 455.45L174.8 456.19L174.8 456.93L174.8 457.66L174.8 458.39L174.8 459.13L174.8 459.87L174.8 460.6L174.8 461.33L174.8 462.07L174.8 462.81L174.8 463.54L174.8 464.27L174.64 465.01L173.58 465.75L172.46 466.48L171.3 467.22L170.08 467.95L168.79 468.69L167.43 469.42L165.97 470.16L164.4 470.89L162.7 471.62L160.85 472.36L158.8 473.1L156.48 473.83L153.75 474.56L149.78 475.3L149.48 475.3L150.11 474.56L150.69 473.83L151.22 473.1L151.71 472.36L152.17 471.62L152.58 470.89L152.96 470.16L153.31 469.42L153.63 468.69L153.91 467.95L154.17 467.22L154.4 466.48L154.61 465.75L154.79 465.01L154.94 464.27L155.07 463.54L155.17 462.81L155.25 462.07L155.31 461.33L155.34 460.6L155.35 459.87L155.34 459.13L155.3 458.39L155.24 457.66L155.15 456.93L155.04 456.19L154.91 455.45L154.75 454.72L154.56 453.99L154.35 453.25L154.12 452.51L153.85 451.78L153.56 451.04L153.23 450.31L152.88 449.57L152.49 448.84L152.07 448.1L151.6 447.37L151.1 446.63L150.56 445.9Z" fill="#E400E4"/><rect x="56.3" y="409.3" width="26.6" height="13.6" fill="none" stroke="#062828" stroke-width="0.95"/><text x="69.7" y="419.64" text-anchor="middle" class="pl" textLength="18.3" stroke="#082020" stroke-width="0.3" lengthAdjust="spacingAndGlyphs">CD14</text><rect x="57.5" y="405.2" width="14" height="1.1" fill="#004848" opacity="0.4"/><rect x="199.2" y="400.1" width="13.6" height="7.1" fill="#fff"/><text x="199.6" y="404.3" class="an" textLength="12.4" lengthAdjust="spacingAndGlyphs" stroke="#000" stroke-width="0.08">ANSYS</text><rect x="205" y="405.5" width="6.8" height="1.0" fill="#804070" opacity="0.75"/></svg><svg x="215.9" y="400.6" width="159.1" height="119.2" viewBox="215.9 400.6 159.1 119.2" overflow="hidden"><rect x="215.9" y="400.6" width="159.1" height="119.2" fill="#00FFFF"/><g filter="url(#bl)"><path d="M247.3 400.6V519.8M236.3 400.6V519.8M225.3 400.6V519.8M342.4 400.6V519.8M353.4 400.6V519.8M364.4 400.6V519.8M259.19 400.6V519.8M271.07 400.6V519.8M282.96 400.6V519.8M294.85 400.6V519.8M306.74 400.6V519.8M318.62 400.6V519.8M330.51 400.6V519.8M215.9 412.1H375M215.9 401.1H375M215.9 507.2H375M215.9 518.2H375M215.9 423.99H375M215.9 435.88H375M215.9 447.76H375M215.9 459.65H375M215.9 471.54H375M215.9 483.43H375M215.9 495.31H375" stroke="#002626" stroke-width="0.6" stroke-opacity="0.5" fill="none"/><rect x="247.3" y="412.1" width="95.1" height="95.1" fill="#00FFFF" stroke="#002626" stroke-width="0.9" stroke-opacity="0.6"/><path d="M323.33 460.72L334.18 461.12Q338.29 461.28 342.4 461.77M323.17 462.84L333.96 464.06Q338.18 464.53 342.4 466.01M322.85 464.95L333.52 466.97Q337.96 467.81 342.4 470.27M322.38 467.03L332.87 469.84Q337.63 471.11 342.4 474.57M321.75 469.06L332 472.65Q337.2 474.47 342.4 478.91M320.97 471.05L330.93 475.39Q336.66 477.89 342.4 483.31M320.05 472.97L329.65 478.04Q336.02 481.41 342.4 487.79M318.98 474.81L328.18 480.59Q335.29 485.06 342.4 492.39M317.78 476.57L326.52 483.02Q334.46 488.88 342.4 497.12M316.45 478.24L324.68 485.32Q333.54 492.95 342.4 502.04M315 479.8L322.68 487.48Q332.54 497.34 342.4 507.2M313.44 481.25L320.52 489.48Q328.15 498.34 337.24 507.2M311.77 482.58L318.22 491.32Q324.08 499.26 332.32 507.2M310.01 483.78L315.79 492.98Q320.26 500.09 327.59 507.2M308.17 484.85L313.24 494.45Q316.61 500.82 322.99 507.2M306.25 485.77L310.59 495.73Q313.09 501.46 318.51 507.2M304.26 486.55L307.85 496.8Q309.67 502 314.11 507.2M302.23 487.18L305.04 497.67Q306.31 502.43 309.77 507.2M300.15 487.65L302.17 498.32Q303.01 502.76 305.47 507.2M298.04 487.97L299.26 498.76Q299.73 502.98 301.21 507.2M295.92 488.13L296.32 498.98Q296.48 503.09 296.97 507.2M293.78 488.13L293.38 498.98Q293.22 503.09 292.73 507.2M291.66 487.97L290.44 498.76Q289.97 502.98 288.49 507.2M289.55 487.65L287.53 498.32Q286.69 502.76 284.23 507.2M287.47 487.18L284.66 497.67Q283.39 502.43 279.93 507.2M285.44 486.55L281.85 496.8Q280.03 502 275.59 507.2M283.45 485.77L279.11 495.73Q276.61 501.46 271.19 507.2M281.53 484.85L276.46 494.45Q273.09 500.82 266.71 507.2M279.69 483.78L273.91 492.98Q269.44 500.09 262.11 507.2M277.93 482.58L271.48 491.32Q265.62 499.26 257.38 507.2M276.26 481.25L269.18 489.48Q261.55 498.34 252.46 507.2M274.7 479.8L267.02 487.48Q257.16 497.34 247.3 507.2M273.25 478.24L265.02 485.32Q256.16 492.95 247.3 502.04M271.92 476.57L263.18 483.02Q255.24 488.88 247.3 497.12M270.72 474.81L261.52 480.59Q254.41 485.06 247.3 492.39M269.65 472.97L260.05 478.04Q253.68 481.41 247.3 487.79M268.73 471.05L258.77 475.39Q253.04 477.89 247.3 483.31M267.95 469.06L257.7 472.65Q252.5 474.47 247.3 478.91M267.32 467.03L256.83 469.84Q252.07 471.11 247.3 474.57M266.85 464.95L256.18 466.97Q251.74 467.81 247.3 470.27M266.53 462.84L255.74 464.06Q251.52 464.53 247.3 466.01M266.37 460.72L255.52 461.12Q251.41 461.28 247.3 461.77M266.37 458.58L255.52 458.18Q251.41 458.02 247.3 457.53M266.53 456.46L255.74 455.24Q251.52 454.77 247.3 453.29M266.85 454.35L256.18 452.33Q251.74 451.49 247.3 449.03M267.32 452.27L256.83 449.46Q252.07 448.19 247.3 444.73M267.95 450.24L257.7 446.65Q252.5 444.83 247.3 440.39M268.73 448.25L258.77 443.91Q253.04 441.41 247.3 435.99M269.65 446.33L260.05 441.26Q253.68 437.89 247.3 431.51M270.72 444.49L261.52 438.71Q254.41 434.24 247.3 426.91M271.92 442.73L263.18 436.28Q255.24 430.42 247.3 422.18M273.25 441.06L265.02 433.98Q256.16 426.35 247.3 417.26M274.7 439.5L267.02 431.82Q257.16 421.96 247.3 412.1M276.26 438.05L269.18 429.82Q261.55 420.96 252.46 412.1M277.93 436.72L271.48 427.98Q265.62 420.04 257.38 412.1M279.69 435.52L273.91 426.32Q269.44 419.21 262.11 412.1M281.53 434.45L276.46 424.85Q273.09 418.48 266.71 412.1M283.45 433.53L279.11 423.57Q276.61 417.84 271.19 412.1M285.44 432.75L281.85 422.5Q280.03 417.3 275.59 412.1M287.47 432.12L284.66 421.63Q283.39 416.87 279.93 412.1M289.55 431.65L287.53 420.98Q286.69 416.54 284.23 412.1M291.66 431.33L290.44 420.54Q289.97 416.32 288.49 412.1M293.78 431.17L293.38 420.32Q293.22 416.21 292.73 412.1M295.92 431.17L296.32 420.32Q296.48 416.21 296.97 412.1M298.04 431.33L299.26 420.54Q299.73 416.32 301.21 412.1M300.15 431.65L302.17 420.98Q303.01 416.54 305.47 412.1M302.23 432.12L305.04 421.63Q306.31 416.87 309.77 412.1M304.26 432.75L307.85 422.5Q309.67 417.3 314.11 412.1M306.25 433.53L310.59 423.57Q313.09 417.84 318.51 412.1M308.17 434.45L313.24 424.85Q316.61 418.48 322.99 412.1M310.01 435.52L315.79 426.32Q320.26 419.21 327.59 412.1M311.77 436.72L318.22 427.98Q324.08 420.04 332.32 412.1M313.44 438.05L320.52 429.82Q328.15 420.96 337.24 412.1M315 439.5L322.68 431.82Q332.54 421.96 342.4 412.1M316.45 441.06L324.68 433.98Q333.54 426.35 342.4 417.26M317.78 442.73L326.52 436.28Q334.46 430.42 342.4 422.18M318.98 444.49L328.18 438.71Q335.29 434.24 342.4 426.91M320.05 446.33L329.65 441.26Q336.02 437.89 342.4 431.51M320.97 448.25L330.93 443.91Q336.66 441.41 342.4 435.99M321.75 450.24L332 446.65Q337.2 444.83 342.4 440.39M322.38 452.27L332.87 449.46Q337.63 448.19 342.4 444.73M322.85 454.35L333.52 452.33Q337.96 451.49 342.4 449.03M323.17 456.46L333.96 455.24Q338.18 454.77 342.4 453.29M323.33 458.58L334.18 458.18Q338.29 458.02 342.4 457.53" stroke="#002626" stroke-width="0.6" stroke-opacity="0.6" fill="none"/><path d="M260.32 459.65a34.53 34.53 0 1 0 69.07 0a34.53 34.53 0 1 0 -69.07 0M254.28 459.65a40.57 40.57 0 1 0 81.13 0a40.57 40.57 0 1 0 -81.13 0M248.25 459.65a46.6 46.6 0 1 0 93.2 0a46.6 46.6 0 1 0 -93.2 0" stroke="#002626" stroke-width="0.5" stroke-opacity="0.15" fill="none"/><path d="M341.61 459.65L341.55 462.1L341.39 464.54L341.13 466.98L340.76 469.41L340.28 471.82L339.71 474.22L339.03 476.61L338.25 478.97L337.38 481.32L336.4 483.64L335.34 485.95L334.19 488.23L332.95 490.51L331.63 492.77L330.23 495.03L327.97 496.43L325.71 497.75L323.43 498.99L321.15 500.14L318.84 501.2L316.52 502.18L314.17 503.05L311.81 503.83L309.42 504.51L307.02 505.08L304.61 505.56L302.18 505.93L299.74 506.19L297.3 506.35L294.85 506.41L292.4 506.35L289.96 506.19L287.52 505.93L285.09 505.56L282.68 505.08L280.28 504.51L277.89 503.83L275.53 503.05L273.18 502.18L270.86 501.2L268.55 500.14L266.27 498.99L263.99 497.75L261.73 496.43L259.47 495.03L258.07 492.77L256.75 490.51L255.51 488.23L254.36 485.95L253.3 483.64L252.32 481.32L251.45 478.97L250.67 476.61L249.99 474.22L249.42 471.82L248.94 469.41L248.57 466.98L248.31 464.54L248.15 462.1L248.09 459.65L248.15 457.2L248.31 454.76L248.57 452.32L248.94 449.89L249.42 447.48L249.99 445.08L250.67 442.69L251.45 440.33L252.32 437.98L253.3 435.66L254.36 433.35L255.51 431.07L256.75 428.79L258.07 426.53L259.47 424.27L261.73 422.87L263.99 421.55L266.27 420.31L268.55 419.16L270.86 418.1L273.18 417.12L275.53 416.25L277.89 415.47L280.28 414.79L282.68 414.22L285.09 413.74L287.52 413.37L289.96 413.11L292.4 412.95L294.85 412.89L297.3 412.95L299.74 413.11L302.18 413.37L304.61 413.74L307.02 414.22L309.42 414.79L311.81 415.47L314.17 416.25L316.52 417.12L318.84 418.1L321.15 419.16L323.43 420.31L325.71 421.55L327.97 422.87L330.23 424.27L331.63 426.53L332.95 428.79L334.19 431.07L335.34 433.35L336.4 435.66L337.38 437.98L338.25 440.33L339.03 442.69L339.71 445.08L340.28 447.48L340.76 449.89L341.13 452.32L341.39 454.76L341.55 457.2L341.61 459.65M341.77 459.65L341.72 462.11L341.6 464.56L341.38 467.02L341.09 469.48L340.71 471.94L340.25 474.4L339.7 476.87L339.08 479.34L338.38 481.83L337.6 484.33L336.75 486.86L335.83 489.43L334.84 492.04L333.79 494.71L332.67 497.47L329.91 498.59L327.24 499.64L324.63 500.63L322.06 501.55L319.53 502.4L317.03 503.18L314.54 503.88L312.07 504.5L309.6 505.05L307.14 505.51L304.68 505.89L302.22 506.18L299.76 506.4L297.31 506.52L294.85 506.57L292.39 506.52L289.94 506.4L287.48 506.18L285.02 505.89L282.56 505.51L280.1 505.05L277.63 504.5L275.16 503.88L272.67 503.18L270.17 502.4L267.64 501.55L265.07 500.63L262.46 499.64L259.79 498.59L257.03 497.47L255.91 494.71L254.86 492.04L253.87 489.43L252.95 486.86L252.1 484.33L251.32 481.83L250.62 479.34L250 476.87L249.45 474.4L248.99 471.94L248.61 469.48L248.32 467.02L248.1 464.56L247.98 462.11L247.93 459.65L247.98 457.19L248.1 454.74L248.32 452.28L248.61 449.82L248.99 447.36L249.45 444.9L250 442.43L250.62 439.96L251.32 437.47L252.1 434.97L252.95 432.44L253.87 429.87L254.86 427.26L255.91 424.59L257.03 421.83L259.79 420.71L262.46 419.66L265.07 418.67L267.64 417.75L270.17 416.9L272.67 416.12L275.16 415.42L277.63 414.8L280.1 414.25L282.56 413.79L285.02 413.41L287.48 413.12L289.94 412.9L292.39 412.78L294.85 412.73L297.31 412.78L299.76 412.9L302.22 413.12L304.68 413.41L307.14 413.79L309.6 414.25L312.07 414.8L314.54 415.42L317.03 416.12L319.53 416.9L322.06 417.75L324.63 418.67L327.24 419.66L329.91 420.71L332.67 421.83L333.79 424.59L334.84 427.26L335.83 429.87L336.75 432.44L337.6 434.97L338.38 437.47L339.08 439.96L339.7 442.43L340.25 444.9L340.71 447.36L341.09 449.82L341.38 452.28L341.6 454.74L341.72 457.19L341.77 459.65M341.92 459.65L341.89 462.12L341.8 464.58L341.64 467.06L341.42 469.55L341.13 472.05L340.78 474.57L340.38 477.13L339.91 479.71L339.39 482.34L338.8 485.03L338.17 487.78L337.47 490.62L336.73 493.57L335.94 496.65L335.1 499.9L331.85 500.74L328.77 501.53L325.82 502.27L322.98 502.97L320.23 503.6L317.54 504.19L314.91 504.71L312.33 505.18L309.77 505.58L307.25 505.93L304.75 506.22L302.26 506.44L299.78 506.6L297.32 506.69L294.85 506.72L292.38 506.69L289.92 506.6L287.44 506.44L284.95 506.22L282.45 505.93L279.93 505.58L277.37 505.18L274.79 504.71L272.16 504.19L269.47 503.6L266.72 502.97L263.88 502.27L260.93 501.53L257.85 500.74L254.6 499.9L253.76 496.65L252.97 493.57L252.23 490.62L251.53 487.78L250.9 485.03L250.31 482.34L249.79 479.71L249.32 477.13L248.92 474.57L248.57 472.05L248.28 469.55L248.06 467.06L247.9 464.58L247.81 462.12L247.78 459.65L247.81 457.18L247.9 454.72L248.06 452.24L248.28 449.75L248.57 447.25L248.92 444.73L249.32 442.17L249.79 439.59L250.31 436.96L250.9 434.27L251.53 431.52L252.23 428.68L252.97 425.73L253.76 422.65L254.6 419.4L257.85 418.56L260.93 417.77L263.88 417.03L266.72 416.33L269.47 415.7L272.16 415.11L274.79 414.59L277.37 414.12L279.93 413.72L282.45 413.37L284.95 413.08L287.44 412.86L289.92 412.7L292.38 412.61L294.85 412.58L297.32 412.61L299.78 412.7L302.26 412.86L304.75 413.08L307.25 413.37L309.77 413.72L312.33 414.12L314.91 414.59L317.54 415.11L320.23 415.7L322.98 416.33L325.82 417.03L328.77 417.77L331.85 418.56L335.1 419.4L335.94 422.65L336.73 425.73L337.47 428.68L338.17 431.52L338.8 434.27L339.39 436.96L339.91 439.59L340.38 442.17L340.78 444.73L341.13 447.25L341.42 449.75L341.64 452.24L341.8 454.72L341.89 457.18L341.92 459.65M342.08 459.65L342.06 462.12L342 464.61L341.89 467.1L341.74 469.62L341.55 472.16L341.32 474.75L341.05 477.39L340.74 480.08L340.39 482.85L340 485.72L339.58 488.7L339.12 491.81L338.62 495.1L338.09 498.59L337.53 502.33L333.79 502.89L330.3 503.42L327.01 503.92L323.9 504.38L320.92 504.8L318.05 505.19L315.28 505.54L312.59 505.85L309.95 506.12L307.36 506.35L304.82 506.54L302.3 506.69L299.81 506.8L297.32 506.86L294.85 506.88L292.38 506.86L289.89 506.8L287.4 506.69L284.88 506.54L282.34 506.35L279.75 506.12L277.11 505.85L274.42 505.54L271.65 505.19L268.78 504.8L265.8 504.38L262.69 503.92L259.4 503.42L255.91 502.89L252.17 502.33L251.61 498.59L251.08 495.1L250.58 491.81L250.12 488.7L249.7 485.72L249.31 482.85L248.96 480.08L248.65 477.39L248.38 474.75L248.15 472.16L247.96 469.62L247.81 467.1L247.7 464.61L247.64 462.12L247.62 459.65L247.64 457.18L247.7 454.69L247.81 452.2L247.96 449.68L248.15 447.14L248.38 444.55L248.65 441.91L248.96 439.22L249.31 436.45L249.7 433.58L250.12 430.6L250.58 427.49L251.08 424.2L251.61 420.71L252.17 416.97L255.91 416.41L259.4 415.88L262.69 415.38L265.8 414.92L268.78 414.5L271.65 414.11L274.42 413.76L277.11 413.45L279.75 413.18L282.34 412.95L284.88 412.76L287.4 412.61L289.89 412.5L292.38 412.44L294.85 412.42L297.32 412.44L299.81 412.5L302.3 412.61L304.82 412.76L307.36 412.95L309.95 413.18L312.59 413.45L315.28 413.76L318.05 414.11L320.92 414.5L323.9 414.92L327.01 415.38L330.3 415.88L333.79 416.41L337.53 416.97L338.09 420.71L338.62 424.2L339.12 427.49L339.58 430.6L340 433.58L340.39 436.45L340.74 439.22L341.05 441.91L341.32 444.55L341.55 447.14L341.74 449.68L341.89 452.2L342 454.69L342.06 457.18L342.08 459.65M342.24 459.65L342.23 462.13L342.2 464.63L342.15 467.14L342.07 469.69L341.98 472.28L341.86 474.92L341.73 477.64L341.57 480.45L341.4 483.37L341.2 486.41L340.99 489.61L340.76 493L340.51 496.63L340.25 500.53L339.97 504.77L335.73 505.05L331.83 505.31L328.2 505.56L324.81 505.79L321.61 506L318.57 506.2L315.65 506.37L312.84 506.53L310.12 506.66L307.48 506.78L304.89 506.87L302.34 506.95L299.83 507L297.33 507.03L294.85 507.04L292.37 507.03L289.87 507L287.36 506.95L284.81 506.87L282.22 506.78L279.58 506.66L276.86 506.53L274.05 506.37L271.13 506.2L268.09 506L264.89 505.79L261.5 505.56L257.87 505.31L253.97 505.05L249.73 504.77L249.45 500.53L249.19 496.63L248.94 493L248.71 489.61L248.5 486.41L248.3 483.37L248.13 480.45L247.97 477.64L247.84 474.92L247.72 472.28L247.63 469.69L247.55 467.14L247.5 464.63L247.47 462.13L247.46 459.65L247.47 457.17L247.5 454.67L247.55 452.16L247.63 449.61L247.72 447.02L247.84 444.38L247.97 441.66L248.13 438.85L248.3 435.93L248.5 432.89L248.71 429.69L248.94 426.3L249.19 422.67L249.45 418.77L249.73 414.53L253.97 414.25L257.87 413.99L261.5 413.74L264.89 413.51L268.09 413.3L271.13 413.1L274.05 412.93L276.86 412.77L279.58 412.64L282.22 412.52L284.81 412.43L287.36 412.35L289.87 412.3L292.37 412.27L294.85 412.26L297.33 412.27L299.83 412.3L302.34 412.35L304.89 412.43L307.48 412.52L310.12 412.64L312.84 412.77L315.65 412.93L318.57 413.1L321.61 413.3L324.81 413.51L328.2 413.74L331.83 413.99L335.73 414.25L339.97 414.53L340.25 418.77L340.51 422.67L340.76 426.3L340.99 429.69L341.2 432.89L341.4 435.93L341.57 438.85L341.73 441.66L341.86 444.38L341.98 447.02L342.07 449.61L342.15 452.16L342.2 454.67L342.23 457.17L342.24 459.65" stroke="#002626" stroke-width="0.6" stroke-opacity="0.5" fill="none"/><path d="M271.48 459.65a23.37 23.37 0 1 0 46.74 0a23.37 23.37 0 1 0 -46.74 0M269.77 459.65a25.08 25.08 0 1 0 50.16 0a25.08 25.08 0 1 0 -50.16 0M268.06 459.65a26.79 26.79 0 1 0 53.58 0a26.79 26.79 0 1 0 -53.58 0M266.35 459.65a28.5 28.5 0 1 0 57 0a28.5 28.5 0 1 0 -57 0M318.22 459.65L323.35 459.65M318.15 461.48L323.26 461.89M317.93 463.31L323 464.11M317.57 465.11L322.56 466.3M317.08 466.87L321.96 468.46M316.44 468.59L321.18 470.56M315.67 470.26L320.24 472.59M314.78 471.86L319.15 474.54M313.76 473.39L317.91 476.4M312.62 474.83L316.52 478.16M311.38 476.18L315 479.8M310.03 477.42L313.36 481.32M308.59 478.56L311.6 482.71M307.06 479.58L309.74 483.95M305.46 480.47L307.79 485.04M303.79 481.24L305.76 485.98M302.07 481.88L303.66 486.76M300.31 482.37L301.5 487.36M298.51 482.73L299.31 487.8M296.68 482.95L297.09 488.06M294.85 483.02L294.85 488.15M293.02 482.95L292.61 488.06M291.19 482.73L290.39 487.8M289.39 482.37L288.2 487.36M287.63 481.88L286.04 486.76M285.91 481.24L283.94 485.98M284.24 480.47L281.91 485.04M282.64 479.58L279.96 483.95M281.11 478.56L278.1 482.71M279.67 477.42L276.34 481.32M278.32 476.18L274.7 479.8M277.08 474.83L273.18 478.16M275.94 473.39L271.79 476.4M274.92 471.86L270.55 474.54M274.03 470.26L269.46 472.59M273.26 468.59L268.52 470.56M272.62 466.87L267.74 468.46M272.13 465.11L267.14 466.3M271.77 463.31L266.7 464.11M271.55 461.48L266.44 461.89M271.48 459.65L266.35 459.65M271.55 457.82L266.44 457.41M271.77 455.99L266.7 455.19M272.13 454.19L267.14 453M272.62 452.43L267.74 450.84M273.26 450.71L268.52 448.74M274.03 449.04L269.46 446.71M274.92 447.44L270.55 444.76M275.94 445.91L271.79 442.9M277.08 444.47L273.18 441.14M278.32 443.12L274.7 439.5M279.67 441.88L276.34 437.98M281.11 440.74L278.1 436.59M282.64 439.72L279.96 435.35M284.24 438.83L281.91 434.26M285.91 438.06L283.94 433.32M287.63 437.42L286.04 432.54M289.39 436.93L288.2 431.94M291.19 436.57L290.39 431.5M293.02 436.35L292.61 431.24M294.85 436.28L294.85 431.15M296.68 436.35L297.09 431.24M298.51 436.57L299.31 431.5M300.31 436.93L301.5 431.94M302.07 437.42L303.66 432.54M303.79 438.06L305.76 433.32M305.46 438.83L307.79 434.26M307.06 439.72L309.74 435.35M308.59 440.74L311.6 436.59M310.03 441.88L313.36 437.98M311.38 443.12L315 439.5M312.62 444.47L316.52 441.14M313.76 445.91L317.91 442.9M314.78 447.44L319.15 444.76M315.67 449.04L320.24 446.71M316.44 450.71L321.18 448.74M317.08 452.43L321.96 450.84M317.57 454.19L322.56 453M317.93 455.99L323 455.19M318.15 457.82L323.26 457.41" stroke="#002626" stroke-width="0.35" stroke-opacity="0.5" fill="none"/><path d="M272.5 452.82V466.48M287.4 437.5H302.3M274.5 448.16V471.14M283.01 439.5H306.69M276.5 445.18V474.12M280.13 441.5H309.57M278.5 442.95V476.35M277.96 443.5H311.74M280.5 441.2V478.1M276.25 445.5H313.45M282.5 439.81V479.49M274.89 447.5H314.81M284.5 438.7V480.6M273.8 449.5H315.9M286.5 437.82V481.48M272.95 451.5H316.75M288.5 437.16V482.14M272.3 453.5H317.4M290.5 436.69V482.61M271.85 455.5H317.85M292.5 436.4V482.9M271.58 457.5H318.12M294.5 436.28V483.02M271.48 459.5H318.22M296.5 436.34V482.96M271.55 461.5H318.15M298.5 436.57V482.73M271.8 463.5H317.9M300.5 436.97V482.33M272.22 465.5H317.48M302.5 437.57V481.73M272.84 467.5H316.86M304.5 438.37V480.93M273.66 469.5H316.04M306.5 439.39V479.91M274.71 471.5H314.99M308.5 440.68V478.62M276.03 473.5H313.67M310.5 442.29V477.01M277.68 475.5H312.02M312.5 444.33V474.97M279.77 477.5H309.93M314.5 447V472.3M282.52 479.5H307.18M316.5 450.85V468.45M286.56 481.5H303.14" stroke="#002626" stroke-width="0.45" stroke-opacity="0.65" fill="none"/></g><path d="M268.1 445L265.5 445.75L264.46 446.51L263.64 447.26L262.95 448.02L262.34 448.77L261.79 449.53L261.3 450.29L260.85 451.04L260.44 451.8L260.22 452.55L260.07 453.31L259.94 454.06L259.83 454.81L259.74 455.57L259.66 456.32L259.59 457.08L259.55 457.83L259.52 458.59L259.5 459.34L259.5 460.1L259.52 460.86L259.55 461.61L259.6 462.37L259.67 463.12L259.75 463.88L259.85 464.63L259.97 465.38L260.13 466.14L260.45 466.89L260.8 467.65L261.18 468.4L261.59 469.16L262.04 469.91L262.53 470.67L263.08 471.43L263.68 472.18L264.37 472.94L265.17 473.69L266.18 474.44L268.61 475.2L268.91 475.2L268.48 474.44L268.07 473.69L267.7 472.94L267.34 472.18L267.01 471.43L266.71 470.67L266.43 469.91L266.17 469.16L265.93 468.4L265.72 467.65L265.52 466.89L265.35 466.14L265.19 465.38L265.06 464.63L264.94 463.88L264.85 463.12L264.77 462.37L264.71 461.61L264.67 460.86L264.65 460.1L264.65 459.34L264.67 458.59L264.7 457.83L264.76 457.08L264.83 456.32L264.92 455.57L265.04 454.81L265.17 454.06L265.32 453.31L265.49 452.55L265.68 451.8L265.89 451.04L266.12 450.29L266.38 449.53L266.65 448.77L266.95 448.02L267.28 447.26L267.63 446.51L268 445.75L268.4 445Z" fill="#E400E4"/><path d="M321.6 445L323.97 445.62L324.91 446.25L325.65 446.88L326.28 447.5L326.83 448.12L327.33 448.75L327.79 449.38L328.21 450L328.6 450.62L328.88 451.25L329.03 451.88L329.16 452.5L329.29 453.12L329.4 453.75L329.5 454.38L329.59 455L329.67 455.62L329.73 456.25L329.79 456.88L329.83 457.5L329.87 458.12L329.89 458.75L329.9 459.38L329.9 460L329.89 460.62L329.86 461.25L329.83 461.88L329.78 462.5L329.69 463.12L329.46 463.75L329.19 464.38L328.91 465L328.59 465.62L328.25 466.25L327.86 466.88L327.43 467.5L326.93 468.12L326.34 468.75L325.57 469.38L323.54 470L323.24 470L323.46 469.38L323.66 468.75L323.85 468.12L324.02 467.5L324.18 466.88L324.33 466.25L324.46 465.62L324.58 465L324.68 464.38L324.77 463.75L324.85 463.12L324.92 462.5L324.97 461.88L325.01 461.25L325.03 460.62L325.05 460L325.05 459.38L325.04 458.75L325.01 458.12L324.97 457.5L324.92 456.88L324.86 456.25L324.78 455.62L324.69 455L324.59 454.38L324.47 453.75L324.34 453.12L324.2 452.5L324.04 451.88L323.87 451.25L323.68 450.62L323.48 450L323.27 449.38L323.04 448.75L322.79 448.12L322.53 447.5L322.25 446.88L321.95 446.25L321.63 445.62L321.3 445Z" fill="#E400E4"/><rect x="218.8" y="409.3" width="26.6" height="13.6" fill="none" stroke="#062828" stroke-width="0.95"/><text x="232.2" y="419.64" text-anchor="middle" class="pl" textLength="18.3" stroke="#082020" stroke-width="0.3" lengthAdjust="spacingAndGlyphs">CD15</text><rect x="219.9" y="405.2" width="14" height="1.1" fill="#004848" opacity="0.4"/><rect x="361.4" y="400.1" width="13.6" height="7.1" fill="#fff"/><text x="361.8" y="404.3" class="an" textLength="12.4" lengthAdjust="spacingAndGlyphs" stroke="#000" stroke-width="0.08">ANSYS</text><rect x="367.2" y="405.5" width="6.8" height="1.0" fill="#804070" opacity="0.75"/></svg><svg x="378.4" y="400.6" width="159.6" height="119.2" viewBox="378.4 400.6 159.6 119.2" overflow="hidden"><rect x="378.4" y="400.6" width="159.6" height="119.2" fill="#00FFFF"/><g filter="url(#bl)"><path d="M406.8 400.6V519.8M394.8 400.6V519.8M382.8 400.6V519.8M510.2 400.6V519.8M522.2 400.6V519.8M534.2 400.6V519.8M419.73 400.6V519.8M432.65 400.6V519.8M445.57 400.6V519.8M458.5 400.6V519.8M471.43 400.6V519.8M484.35 400.6V519.8M497.27 400.6V519.8M378.4 407.3H538M378.4 512H538M378.4 420.39H538M378.4 433.48H538M378.4 446.56H538M378.4 459.65H538M378.4 472.74H538M378.4 485.82H538M378.4 498.91H538" stroke="#002626" stroke-width="0.6" stroke-opacity="0.5" fill="none"/><rect x="406.8" y="407.3" width="103.4" height="104.7" fill="#00FFFF" stroke="#002626" stroke-width="0.9" stroke-opacity="0.6"/><path d="M482.08 460.53L498.31 461.14Q504.26 461.36 510.2 461.96M481.95 462.29L498.09 464.11Q504.14 464.79 510.2 466.6M481.69 464.04L497.65 467.06Q503.92 468.24 510.2 471.26M481.3 465.76L496.98 469.96Q503.59 471.73 510.2 475.95M480.78 467.44L496.1 472.81Q503.15 475.27 510.2 480.68M480.13 469.09L495.02 475.58Q502.61 478.89 510.2 485.49M479.37 470.68L493.72 478.27Q501.96 482.62 510.2 490.39M478.48 472.21L492.23 480.85Q501.22 486.49 510.2 495.41M477.49 473.66L490.55 483.31Q500.38 490.56 510.2 500.58M476.39 475.04L488.7 485.64Q499.45 494.89 510.2 505.95M475.19 476.34L486.67 487.82Q498.44 499.59 510.2 511.58M473.89 477.54L484.49 489.85Q494.02 500.92 504.96 512M472.51 478.64L482.16 491.7Q489.65 501.85 499.57 512M471.06 479.63L479.7 493.38Q485.54 502.69 494.38 512M469.53 480.52L477.12 494.87Q481.64 503.44 489.34 512M467.94 481.28L474.43 496.17Q477.89 504.08 484.43 512M466.29 481.93L471.66 497.25Q474.24 504.63 479.6 512M464.61 482.45L468.81 498.13Q470.67 505.07 474.85 512M462.89 482.84L465.91 498.8Q467.16 505.4 470.14 512M461.14 483.1L462.96 499.24Q463.68 505.62 465.47 512M459.38 483.23L459.99 499.46Q460.22 505.73 460.82 512M457.62 483.23L457.01 499.46Q456.78 505.73 456.18 512M455.86 483.1L454.04 499.24Q453.32 505.62 451.53 512M454.11 482.84L451.09 498.8Q449.84 505.4 446.86 512M452.39 482.45L448.19 498.13Q446.33 505.07 442.15 512M450.71 481.93L445.34 497.25Q442.76 504.63 437.4 512M449.06 481.28L442.57 496.17Q439.11 504.08 432.57 512M447.47 480.52L439.88 494.87Q435.36 503.44 427.66 512M445.94 479.63L437.3 493.38Q431.46 502.69 422.62 512M444.49 478.64L434.84 491.7Q427.35 501.85 417.43 512M443.11 477.54L432.51 489.85Q422.98 500.92 412.04 512M441.81 476.34L430.33 487.82Q418.56 499.59 406.8 511.58M440.61 475.04L428.3 485.64Q417.55 494.89 406.8 505.95M439.51 473.66L426.45 483.31Q416.62 490.56 406.8 500.58M438.52 472.21L424.77 480.85Q415.78 486.49 406.8 495.41M437.63 470.68L423.28 478.27Q415.04 482.62 406.8 490.39M436.87 469.09L421.98 475.58Q414.39 478.89 406.8 485.49M436.22 467.44L420.9 472.81Q413.85 475.27 406.8 480.68M435.7 465.76L420.02 469.96Q413.41 471.73 406.8 475.95M435.31 464.04L419.35 467.06Q413.08 468.24 406.8 471.26M435.05 462.29L418.91 464.11Q412.86 464.79 406.8 466.6M434.92 460.53L418.69 461.14Q412.74 461.36 406.8 461.96M434.92 458.77L418.69 458.16Q412.74 457.94 406.8 457.34M435.05 457.01L418.91 455.19Q412.86 454.51 406.8 452.7M435.31 455.26L419.35 452.24Q413.08 451.06 406.8 448.04M435.7 453.54L420.02 449.34Q413.41 447.57 406.8 443.35M436.22 451.86L420.9 446.49Q413.85 444.03 406.8 438.62M436.87 450.21L421.98 443.72Q414.39 440.41 406.8 433.81M437.63 448.62L423.28 441.03Q415.04 436.68 406.8 428.91M438.52 447.09L424.77 438.45Q415.78 432.81 406.8 423.89M439.51 445.64L426.45 435.99Q416.62 428.74 406.8 418.72M440.61 444.26L428.3 433.66Q417.55 424.41 406.8 413.35M441.81 442.96L430.33 431.48Q418.56 419.71 406.8 407.72M443.11 441.76L432.51 429.45Q422.98 418.38 412.04 407.3M444.49 440.66L434.84 427.6Q427.35 417.45 417.43 407.3M445.94 439.67L437.3 425.92Q431.46 416.61 422.62 407.3M447.47 438.78L439.88 424.43Q435.36 415.86 427.66 407.3M449.06 438.02L442.57 423.13Q439.11 415.22 432.57 407.3M450.71 437.37L445.34 422.05Q442.76 414.67 437.4 407.3M452.39 436.85L448.19 421.17Q446.33 414.23 442.15 407.3M454.11 436.46L451.09 420.5Q449.84 413.9 446.86 407.3M455.86 436.2L454.04 420.06Q453.32 413.68 451.53 407.3M457.62 436.07L457.01 419.84Q456.78 413.57 456.18 407.3M459.38 436.07L459.99 419.84Q460.22 413.57 460.82 407.3M461.14 436.2L462.96 420.06Q463.68 413.68 465.47 407.3M462.89 436.46L465.91 420.5Q467.16 413.9 470.14 407.3M464.61 436.85L468.81 421.17Q470.67 414.23 474.85 407.3M466.29 437.37L471.66 422.05Q474.24 414.67 479.6 407.3M467.94 438.02L474.43 423.13Q477.89 415.22 484.43 407.3M469.53 438.78L477.12 424.43Q481.64 415.86 489.34 407.3M471.06 439.67L479.7 425.92Q485.54 416.61 494.38 407.3M472.51 440.66L482.16 427.6Q489.65 417.45 499.57 407.3M473.89 441.76L484.49 429.45Q494.02 418.38 504.96 407.3M475.19 442.96L486.67 431.48Q498.44 419.71 510.2 407.72M476.39 444.26L488.7 433.66Q499.45 424.41 510.2 413.35M477.49 445.64L490.55 435.99Q500.38 428.74 510.2 418.72M478.48 447.09L492.23 438.45Q501.22 432.81 510.2 423.89M479.37 448.62L493.72 441.03Q501.96 436.68 510.2 428.91M480.13 450.21L495.02 443.72Q502.61 440.41 510.2 433.81M480.78 451.86L496.1 446.49Q503.15 444.03 510.2 438.62M481.3 453.54L496.98 449.34Q503.59 447.57 510.2 443.35M481.69 455.26L497.65 452.24Q503.92 451.06 510.2 448.04M481.95 457.01L498.09 455.19Q504.14 454.51 510.2 452.7M482.08 458.77L498.31 458.16Q504.26 457.94 510.2 457.34" stroke="#002626" stroke-width="0.6" stroke-opacity="0.6" fill="none"/><path d="M425.88 459.65a32.62 32.62 0 1 0 65.24 0a32.62 32.62 0 1 0 -65.24 0M416.86 459.65a41.64 41.64 0 1 0 83.29 0a41.64 41.64 0 1 0 -83.29 0M407.83 459.65a50.67 50.67 0 1 0 101.33 0a50.67 50.67 0 1 0 -101.33 0" stroke="#002626" stroke-width="0.5" stroke-opacity="0.15" fill="none"/><path d="M509.34 459.65L509.28 462.31L509.11 464.97L508.82 467.62L508.42 470.26L507.9 472.89L507.27 475.5L506.53 478.09L505.69 480.66L504.74 483.21L503.68 485.74L502.53 488.24L501.27 490.73L499.93 493.2L498.49 495.66L496.97 498.12L494.61 499.75L492.14 501.19L489.66 502.53L487.16 503.79L484.65 504.94L482.11 505.99L479.56 506.95L476.98 507.79L474.38 508.53L471.77 509.16L469.13 509.67L466.49 510.08L463.83 510.37L461.17 510.54L458.5 510.6L455.83 510.54L453.17 510.37L450.51 510.08L447.87 509.67L445.23 509.16L442.62 508.53L440.02 507.79L437.44 506.95L434.89 505.99L432.35 504.94L429.84 503.79L427.34 502.53L424.86 501.19L422.39 499.75L420.03 498.12L418.51 495.66L417.07 493.2L415.73 490.73L414.47 488.24L413.32 485.74L412.26 483.21L411.31 480.66L410.47 478.09L409.73 475.5L409.1 472.89L408.58 470.26L408.18 467.62L407.89 464.97L407.72 462.31L407.66 459.65L407.72 456.99L407.89 454.33L408.18 451.68L408.58 449.04L409.1 446.41L409.73 443.8L410.47 441.21L411.31 438.64L412.26 436.09L413.32 433.56L414.47 431.06L415.73 428.57L417.07 426.1L418.51 423.64L420.03 421.18L422.39 419.55L424.86 418.11L427.34 416.77L429.84 415.51L432.35 414.36L434.89 413.31L437.44 412.35L440.02 411.51L442.62 410.77L445.23 410.14L447.87 409.63L450.51 409.22L453.17 408.93L455.83 408.76L458.5 408.7L461.17 408.76L463.83 408.93L466.49 409.22L469.13 409.63L471.77 410.14L474.38 410.77L476.98 411.51L479.56 412.35L482.11 413.31L484.65 414.36L487.16 415.51L489.66 416.77L492.14 418.11L494.61 419.55L496.97 421.18L498.49 423.64L499.93 426.1L501.27 428.57L502.53 431.06L503.68 433.56L504.74 436.09L505.69 438.64L506.53 441.21L507.27 443.8L507.9 446.41L508.42 449.04L508.82 451.68L509.11 454.33L509.28 456.99L509.34 459.65M509.51 459.65L509.46 462.32L509.33 464.99L509.09 467.66L508.77 470.34L508.36 473.01L507.86 475.69L507.27 478.37L506.59 481.06L505.83 483.77L504.99 486.49L504.06 489.24L503.06 492.02L501.98 494.86L500.83 497.77L499.62 500.77L496.81 502.2L493.89 503.35L491.03 504.43L488.23 505.43L485.46 506.35L482.73 507.2L480.01 507.96L477.3 508.63L474.61 509.22L471.92 509.73L469.23 510.14L466.55 510.46L463.86 510.69L461.18 510.83L458.5 510.88L455.82 510.83L453.14 510.69L450.45 510.46L447.77 510.14L445.08 509.73L442.39 509.22L439.7 508.63L436.99 507.96L434.27 507.2L431.54 506.35L428.77 505.43L425.97 504.43L423.11 503.35L420.19 502.2L417.38 500.77L416.17 497.77L415.02 494.86L413.94 492.02L412.94 489.24L412.01 486.49L411.17 483.77L410.41 481.06L409.73 478.37L409.14 475.69L408.64 473.01L408.23 470.34L407.91 467.66L407.67 464.99L407.54 462.32L407.49 459.65L407.54 456.98L407.67 454.31L407.91 451.64L408.23 448.96L408.64 446.29L409.14 443.61L409.73 440.93L410.41 438.24L411.17 435.53L412.01 432.81L412.94 430.06L413.94 427.28L415.02 424.44L416.17 421.53L417.38 418.53L420.19 417.1L423.11 415.95L425.97 414.87L428.77 413.87L431.54 412.95L434.27 412.1L436.99 411.34L439.7 410.67L442.39 410.08L445.08 409.57L447.77 409.16L450.45 408.84L453.14 408.61L455.82 408.47L458.5 408.42L461.18 408.47L463.86 408.61L466.55 408.84L469.23 409.16L471.92 409.57L474.61 410.08L477.3 410.67L480.01 411.34L482.73 412.1L485.46 412.95L488.23 413.87L491.03 414.87L493.89 415.95L496.81 417.1L499.62 418.53L500.83 421.53L501.98 424.44L503.06 427.28L504.06 430.06L504.99 432.81L505.83 435.53L506.59 438.24L507.27 440.93L507.86 443.61L508.36 446.29L508.77 448.96L509.09 451.64L509.33 454.31L509.46 456.98L509.51 459.65M509.68 459.65L509.65 462.33L509.54 465.01L509.37 467.71L509.13 470.41L508.82 473.13L508.44 475.88L508 478.65L507.49 481.46L506.92 484.32L506.29 487.24L505.6 490.23L504.84 493.32L504.04 496.53L503.18 499.88L502.26 503.41L499.02 504.65L495.64 505.51L492.41 506.32L489.3 507.07L486.28 507.76L483.34 508.4L480.46 508.97L477.63 509.48L474.83 509.92L472.07 510.29L469.33 510.6L466.61 510.85L463.9 511.02L461.2 511.12L458.5 511.16L455.8 511.12L453.1 511.02L450.39 510.85L447.67 510.6L444.93 510.29L442.17 509.92L439.37 509.48L436.54 508.97L433.66 508.4L430.72 507.76L427.7 507.07L424.59 506.32L421.36 505.51L417.98 504.65L414.74 503.41L413.82 499.88L412.96 496.53L412.16 493.32L411.4 490.23L410.71 487.24L410.08 484.32L409.51 481.46L409 478.65L408.56 475.88L408.18 473.13L407.87 470.41L407.63 467.71L407.46 465.01L407.35 462.33L407.32 459.65L407.35 456.97L407.46 454.29L407.63 451.59L407.87 448.89L408.18 446.17L408.56 443.42L409 440.65L409.51 437.84L410.08 434.98L410.71 432.06L411.4 429.07L412.16 425.98L412.96 422.77L413.82 419.42L414.74 415.89L417.98 414.65L421.36 413.79L424.59 412.98L427.7 412.23L430.72 411.54L433.66 410.9L436.54 410.33L439.37 409.82L442.17 409.38L444.93 409.01L447.67 408.7L450.39 408.45L453.1 408.28L455.8 408.18L458.5 408.14L461.2 408.18L463.9 408.28L466.61 408.45L469.33 408.7L472.07 409.01L474.83 409.38L477.63 409.82L480.46 410.33L483.34 410.9L486.28 411.54L489.3 412.23L492.41 412.98L495.64 413.79L499.02 414.65L502.26 415.89L503.18 419.42L504.04 422.77L504.84 425.98L505.6 429.07L506.29 432.06L506.92 434.98L507.49 437.84L508 440.65L508.44 443.42L508.82 446.17L509.13 448.89L509.37 451.59L509.54 454.29L509.65 456.97L509.68 459.65M509.86 459.65L509.83 462.34L509.76 465.04L509.65 467.75L509.49 470.49L509.28 473.26L509.03 476.07L508.73 478.93L508.4 481.86L508.01 484.88L507.59 487.99L507.13 491.23L506.63 494.62L506.09 498.19L505.52 501.98L504.91 506.06L501.22 507.1L497.39 507.67L493.78 508.21L490.36 508.71L487.09 509.18L483.95 509.6L480.91 509.98L477.95 510.32L475.06 510.61L472.22 510.86L469.43 511.07L466.67 511.23L463.93 511.35L461.21 511.42L458.5 511.44L455.79 511.42L453.07 511.35L450.33 511.23L447.57 511.07L444.78 510.86L441.94 510.61L439.05 510.32L436.09 509.98L433.05 509.6L429.91 509.18L426.64 508.71L423.22 508.21L419.61 507.67L415.78 507.1L412.09 506.06L411.48 501.98L410.91 498.19L410.37 494.62L409.87 491.23L409.41 487.99L408.99 484.88L408.6 481.86L408.27 478.93L407.97 476.07L407.72 473.26L407.51 470.49L407.35 467.75L407.24 465.04L407.17 462.34L407.14 459.65L407.17 456.96L407.24 454.26L407.35 451.55L407.51 448.81L407.72 446.04L407.97 443.23L408.27 440.37L408.6 437.44L408.99 434.42L409.41 431.31L409.87 428.07L410.37 424.68L410.91 421.11L411.48 417.32L412.09 413.24L415.78 412.2L419.61 411.63L423.22 411.09L426.64 410.59L429.91 410.12L433.05 409.7L436.09 409.32L439.05 408.98L441.94 408.69L444.78 408.44L447.57 408.23L450.33 408.07L453.07 407.95L455.79 407.88L458.5 407.86L461.21 407.88L463.93 407.95L466.67 408.07L469.43 408.23L472.22 408.44L475.06 408.69L477.95 408.98L480.91 409.32L483.95 409.7L487.09 410.12L490.36 410.59L493.78 411.09L497.39 411.63L501.22 412.2L504.91 413.24L505.52 417.32L506.09 421.11L506.63 424.68L507.13 428.07L507.59 431.31L508.01 434.42L508.4 437.44L508.73 440.37L509.03 443.23L509.28 446.04L509.49 448.81L509.65 451.55L509.76 454.26L509.83 456.96L509.86 459.65M510.03 459.65L510.02 462.35L509.98 465.06L509.92 467.79L509.84 470.56L509.74 473.38L509.61 476.26L509.47 479.21L509.3 482.27L509.11 485.44L508.9 488.75L508.67 492.23L508.41 495.92L508.15 499.85L507.86 504.09L507.55 508.7L503.43 509.55L499.14 509.84L495.16 510.11L491.43 510.36L487.91 510.59L484.56 510.8L481.36 510.99L478.27 511.16L475.28 511.31L472.37 511.43L469.53 511.53L466.73 511.62L463.97 511.67L461.23 511.71L458.5 511.72L455.77 511.71L453.03 511.67L450.27 511.62L447.47 511.53L444.63 511.43L441.72 511.31L438.73 511.16L435.64 510.99L432.44 510.8L429.09 510.59L425.57 510.36L421.84 510.11L417.86 509.84L413.57 509.55L409.45 508.7L409.14 504.09L408.85 499.85L408.59 495.92L408.33 492.23L408.1 488.75L407.89 485.44L407.7 482.27L407.53 479.21L407.39 476.26L407.26 473.38L407.16 470.56L407.08 467.79L407.02 465.06L406.98 462.35L406.97 459.65L406.98 456.95L407.02 454.24L407.08 451.51L407.16 448.74L407.26 445.92L407.39 443.04L407.53 440.09L407.7 437.03L407.89 433.86L408.1 430.55L408.33 427.07L408.59 423.38L408.85 419.45L409.14 415.21L409.45 410.6L413.57 409.75L417.86 409.46L421.84 409.19L425.57 408.94L429.09 408.71L432.44 408.5L435.64 408.31L438.73 408.14L441.72 407.99L444.63 407.87L447.47 407.77L450.27 407.68L453.03 407.63L455.77 407.59L458.5 407.58L461.23 407.59L463.97 407.63L466.73 407.68L469.53 407.77L472.37 407.87L475.28 407.99L478.27 408.14L481.36 408.31L484.56 408.5L487.91 408.71L491.43 408.94L495.16 409.19L499.14 409.46L503.43 409.75L507.55 410.6L507.86 415.21L508.15 419.45L508.41 423.38L508.67 427.07L508.9 430.55L509.11 433.86L509.3 437.03L509.47 440.09L509.61 443.04L509.74 445.92L509.84 448.74L509.92 451.51L509.98 454.24L510.02 456.95L510.03 459.65" stroke="#002626" stroke-width="0.6" stroke-opacity="0.5" fill="none"/><path d="M473.13 459.65L473.13 460.67L473.13 461.71L473.12 462.76L473.11 463.84L473.07 464.95L472.99 466.1L472.85 467.28L472.62 468.47L472.26 469.65L471.73 470.75L471.01 471.73L470.11 472.55L469.06 473.17L467.92 473.61L466.73 473.9L465.54 474.08L464.37 474.19L463.24 474.24L462.14 474.27L461.08 474.28L460.04 474.28L459.01 474.28L457.99 474.28L456.96 474.28L455.92 474.28L454.86 474.27L453.76 474.24L452.63 474.19L451.46 474.08L450.27 473.9L449.08 473.61L447.94 473.17L446.89 472.55L445.99 471.73L445.27 470.75L444.74 469.65L444.38 468.47L444.15 467.28L444.01 466.1L443.93 464.95L443.89 463.84L443.88 462.76L443.87 461.71L443.87 460.67L443.87 459.65L443.87 458.63L443.87 457.59L443.88 456.54L443.89 455.46L443.93 454.35L444.01 453.2L444.15 452.02L444.38 450.83L444.74 449.65L445.27 448.55L445.99 447.57L446.89 446.75L447.94 446.13L449.08 445.69L450.27 445.4L451.46 445.22L452.63 445.11L453.76 445.06L454.86 445.03L455.92 445.02L456.96 445.02L457.99 445.02L459.01 445.02L460.04 445.02L461.08 445.02L462.14 445.03L463.24 445.06L464.37 445.11L465.54 445.22L466.73 445.4L467.92 445.69L469.06 446.13L470.11 446.75L471.01 447.57L471.73 448.55L472.26 449.65L472.62 450.83L472.85 452.02L472.99 453.2L473.07 454.35L473.11 455.46L473.12 456.54L473.13 457.59L473.13 458.63ZM475.37 459.65L475.36 460.83L475.32 462.01L475.24 463.21L475.13 464.42L474.97 465.64L474.76 466.89L474.47 468.14L474.1 469.39L473.59 470.62L472.94 471.77L472.13 472.81L471.16 473.71L470.05 474.44L468.86 475.01L467.62 475.45L466.37 475.78L465.11 476.02L463.88 476.2L462.66 476.34L461.46 476.43L460.27 476.49L459.09 476.52L457.91 476.52L456.73 476.49L455.54 476.43L454.34 476.34L453.12 476.2L451.89 476.02L450.63 475.78L449.38 475.45L448.14 475.01L446.95 474.44L445.84 473.71L444.87 472.81L444.06 471.77L443.41 470.62L442.9 469.39L442.53 468.14L442.24 466.89L442.03 465.64L441.87 464.42L441.76 463.21L441.68 462.01L441.64 460.83L441.63 459.65L441.64 458.47L441.68 457.29L441.76 456.09L441.87 454.88L442.03 453.66L442.24 452.41L442.53 451.16L442.9 449.91L443.41 448.68L444.06 447.53L444.87 446.49L445.84 445.59L446.95 444.86L448.14 444.29L449.38 443.85L450.63 443.52L451.89 443.28L453.12 443.1L454.34 442.96L455.54 442.87L456.73 442.81L457.91 442.78L459.09 442.78L460.27 442.81L461.46 442.87L462.66 442.96L463.88 443.1L465.11 443.28L466.37 443.52L467.62 443.85L468.86 444.29L470.05 444.86L471.16 445.59L472.13 446.49L472.94 447.53L473.59 448.68L474.1 449.91L474.47 451.16L474.76 452.41L474.97 453.66L475.13 454.88L475.24 456.09L475.32 457.29L475.36 458.47ZM477.62 459.65L477.59 460.98L477.5 462.32L477.35 463.66L477.15 465L476.87 466.34L476.53 467.68L476.1 469.01L475.57 470.32L474.93 471.58L474.15 472.79L473.24 473.89L472.2 474.87L471.05 475.71L469.81 476.41L468.51 476.99L467.19 477.47L465.86 477.86L464.52 478.17L463.18 478.41L461.84 478.58L460.5 478.7L459.17 478.76L457.83 478.76L456.5 478.7L455.16 478.58L453.82 478.41L452.48 478.17L451.14 477.86L449.81 477.47L448.49 476.99L447.19 476.41L445.95 475.71L444.8 474.87L443.76 473.89L442.85 472.79L442.07 471.58L441.43 470.32L440.9 469.01L440.47 467.68L440.13 466.34L439.85 465L439.65 463.66L439.5 462.32L439.41 460.98L439.38 459.65L439.41 458.32L439.5 456.98L439.65 455.64L439.85 454.3L440.13 452.96L440.47 451.62L440.9 450.29L441.43 448.98L442.07 447.72L442.85 446.51L443.76 445.41L444.8 444.43L445.95 443.59L447.19 442.89L448.49 442.31L449.81 441.83L451.14 441.44L452.48 441.13L453.82 440.89L455.16 440.72L456.5 440.6L457.83 440.54L459.17 440.54L460.5 440.6L461.84 440.72L463.18 440.89L464.52 441.13L465.86 441.44L467.19 441.83L468.51 442.31L469.81 442.89L471.05 443.59L472.2 444.43L473.24 445.41L474.15 446.51L474.93 447.72L475.57 448.98L476.1 450.29L476.53 451.62L476.87 452.96L477.15 454.3L477.35 455.64L477.5 456.98L477.59 458.32ZM479.86 459.65L479.81 461.14L479.69 462.63L479.47 464.11L479.17 465.58L478.77 467.03L478.29 468.46L477.72 469.87L477.04 471.24L476.26 472.55L475.37 473.8L474.36 474.97L473.25 476.03L472.04 476.98L470.75 477.81L469.41 478.54L468.02 479.17L466.6 479.7L465.15 480.13L463.69 480.48L462.22 480.74L460.73 480.91L459.25 481L457.75 481L456.27 480.91L454.78 480.74L453.31 480.48L451.85 480.13L450.4 479.7L448.98 479.17L447.59 478.54L446.25 477.81L444.96 476.98L443.75 476.03L442.64 474.97L441.63 473.8L440.74 472.55L439.96 471.24L439.28 469.87L438.71 468.46L438.23 467.03L437.83 465.58L437.53 464.11L437.31 462.63L437.19 461.14L437.14 459.65L437.19 458.16L437.31 456.67L437.53 455.19L437.83 453.72L438.23 452.27L438.71 450.84L439.28 449.43L439.96 448.06L440.74 446.75L441.63 445.5L442.64 444.33L443.75 443.27L444.96 442.32L446.25 441.49L447.59 440.76L448.98 440.13L450.4 439.6L451.85 439.17L453.31 438.82L454.78 438.56L456.27 438.39L457.75 438.3L459.25 438.3L460.73 438.39L462.22 438.56L463.69 438.82L465.15 439.17L466.6 439.6L468.02 440.13L469.41 440.76L470.75 441.49L472.04 442.32L473.25 443.27L474.36 444.33L475.37 445.5L476.26 446.75L477.04 448.06L477.72 449.43L478.29 450.84L478.77 452.27L479.17 453.72L479.47 455.19L479.69 456.67L479.81 458.16ZM482.1 459.65L482.04 461.3L481.87 462.93L481.58 464.56L481.19 466.16L480.68 467.72L480.06 469.25L479.34 470.73L478.51 472.16L477.59 473.52L476.58 474.82L475.48 476.04L474.29 477.19L473.03 478.25L471.7 479.22L470.3 480.09L468.85 480.86L467.34 481.53L465.79 482.09L464.21 482.55L462.6 482.89L460.97 483.12L459.32 483.24L457.68 483.24L456.03 483.12L454.4 482.89L452.79 482.55L451.21 482.09L449.66 481.53L448.15 480.86L446.7 480.09L445.3 479.22L443.97 478.25L442.71 477.19L441.52 476.04L440.42 474.82L439.41 473.52L438.49 472.16L437.66 470.73L436.94 469.25L436.32 467.72L435.81 466.16L435.42 464.56L435.13 462.93L434.96 461.3L434.9 459.65L434.96 458L435.13 456.37L435.42 454.74L435.81 453.14L436.32 451.58L436.94 450.05L437.66 448.57L438.49 447.14L439.41 445.78L440.42 444.48L441.52 443.26L442.71 442.11L443.97 441.05L445.3 440.08L446.7 439.21L448.15 438.44L449.66 437.77L451.21 437.21L452.79 436.75L454.4 436.41L456.03 436.18L457.68 436.06L459.32 436.06L460.97 436.18L462.6 436.41L464.21 436.75L465.79 437.21L467.34 437.77L468.85 438.44L470.3 439.21L471.7 440.08L473.03 441.05L474.29 442.11L475.48 443.26L476.58 444.48L477.59 445.78L478.51 447.14L479.34 448.57L480.06 450.05L480.68 451.58L481.19 453.14L481.58 454.74L481.87 456.37L482.04 458ZM473.13 459.65L482.1 459.65M473.13 460.8L482.03 461.5M473.13 461.97L481.81 463.34M473.12 463.16L481.45 465.16M473.09 464.39L480.94 466.94M473.03 465.67L480.3 468.68M472.9 466.98L479.53 470.36M472.66 468.33L478.62 471.98M472.26 469.65L477.59 473.52M471.65 470.88L476.45 474.98M470.8 471.95L475.19 476.34M469.73 472.8L473.83 477.6M468.5 473.41L472.37 478.74M467.18 473.81L470.83 479.77M465.83 474.05L469.21 480.68M464.52 474.18L467.53 481.45M463.24 474.24L465.79 482.09M462.01 474.27L464.01 482.6M460.82 474.28L462.19 482.96M459.65 474.28L460.35 483.18M458.5 474.28L458.5 483.25M457.35 474.28L456.65 483.18M456.18 474.28L454.81 482.96M454.99 474.27L452.99 482.6M453.76 474.24L451.21 482.09M452.48 474.18L449.47 481.45M451.17 474.05L447.79 480.68M449.82 473.81L446.17 479.77M448.5 473.41L444.63 478.74M447.27 472.8L443.17 477.6M446.2 471.95L441.81 476.34M445.35 470.88L440.55 474.98M444.74 469.65L439.41 473.52M444.34 468.33L438.38 471.98M444.1 466.98L437.47 470.36M443.97 465.67L436.7 468.68M443.91 464.39L436.06 466.94M443.88 463.16L435.55 465.16M443.87 461.97L435.19 463.34M443.87 460.8L434.97 461.5M443.87 459.65L434.9 459.65M443.87 458.5L434.97 457.8M443.87 457.33L435.19 455.96M443.88 456.14L435.55 454.14M443.91 454.91L436.06 452.36M443.97 453.63L436.7 450.62M444.1 452.32L437.47 448.94M444.34 450.97L438.38 447.32M444.74 449.65L439.41 445.78M445.35 448.42L440.55 444.32M446.2 447.35L441.81 442.96M447.27 446.5L443.17 441.7M448.5 445.89L444.63 440.56M449.82 445.49L446.17 439.53M451.17 445.25L447.79 438.62M452.48 445.12L449.47 437.85M453.76 445.06L451.21 437.21M454.99 445.03L452.99 436.7M456.18 445.02L454.81 436.34M457.35 445.02L456.65 436.12M458.5 445.02L458.5 436.05M459.65 445.02L460.35 436.12M460.82 445.02L462.19 436.34M462.01 445.03L464.01 436.7M463.24 445.06L465.79 437.21M464.52 445.12L467.53 437.85M465.83 445.25L469.21 438.62M467.18 445.49L470.83 439.53M468.5 445.89L472.37 440.56M469.73 446.5L473.83 441.7M470.8 447.35L475.19 442.96M471.65 448.42L476.45 444.32M472.26 449.65L477.59 445.78M472.66 450.97L478.62 447.32M472.9 452.32L479.53 448.94M473.03 453.63L480.3 450.62M473.09 454.91L480.94 452.36M473.12 456.14L481.45 454.14M473.13 457.33L481.81 455.96M473.13 458.5L482.03 457.8" stroke="#002626" stroke-width="0.35" stroke-opacity="0.45" fill="none"/><clipPath id="cqCD16"><rect x="443.87" y="445.02" width="29.26" height="29.26" rx="6.58"/></clipPath><path clip-path="url(#cqCD16)" d="M443.2 445.02V474.28M443.87 444.35H473.13M444.9 445.02V474.28M443.87 446.05H473.13M446.6 445.02V474.28M443.87 447.75H473.13M448.3 445.02V474.28M443.87 449.45H473.13M450 445.02V474.28M443.87 451.15H473.13M451.7 445.02V474.28M443.87 452.85H473.13M453.4 445.02V474.28M443.87 454.55H473.13M455.1 445.02V474.28M443.87 456.25H473.13M456.8 445.02V474.28M443.87 457.95H473.13M458.5 445.02V474.28M443.87 459.65H473.13M460.2 445.02V474.28M443.87 461.35H473.13M461.9 445.02V474.28M443.87 463.05H473.13M463.6 445.02V474.28M443.87 464.75H473.13M465.3 445.02V474.28M443.87 466.45H473.13M467 445.02V474.28M443.87 468.15H473.13M468.7 445.02V474.28M443.87 469.85H473.13M470.4 445.02V474.28M443.87 471.55H473.13M472.1 445.02V474.28M443.87 473.25H473.13" stroke="#002626" stroke-width="0.45" stroke-opacity="0.7" fill="none"/></g><path d="M434.44 452.5L432.67 452.95L432.03 453.41L431.55 453.87L431.14 454.32L430.8 454.77L430.49 455.23L430.21 455.69L430.02 456.14L429.96 456.59L429.92 457.05L429.88 457.5L429.85 457.96L429.83 458.42L429.81 458.87L429.8 459.32L429.8 459.78L429.81 460.24L429.82 460.69L429.84 461.14L429.87 461.6L429.9 462.06L429.94 462.51L429.99 462.96L430.05 463.42L430.11 463.88L430.18 464.33L430.26 464.78L430.35 465.24L430.44 465.69L430.59 466.15L430.86 466.61L431.14 467.06L431.44 467.51L431.77 467.97L432.13 468.43L432.54 468.88L432.99 469.33L433.52 469.79L434.21 470.25L435.96 470.7L436.26 470.7L436.05 470.25L435.84 469.79L435.64 469.33L435.46 468.88L435.28 468.43L435.12 467.97L434.96 467.51L434.82 467.06L434.68 466.61L434.56 466.15L434.44 465.69L434.33 465.24L434.23 464.78L434.14 464.33L434.06 463.88L433.98 463.42L433.92 462.96L433.86 462.51L433.82 462.06L433.78 461.6L433.74 461.14L433.72 460.69L433.71 460.24L433.7 459.78L433.7 459.32L433.71 458.87L433.73 458.42L433.76 457.96L433.79 457.5L433.84 457.05L433.89 456.59L433.95 456.14L434.02 455.69L434.09 455.23L434.18 454.77L434.27 454.32L434.38 453.87L434.49 453.41L434.61 452.95L434.74 452.5Z" fill="#E400E4"/><path d="M481.75 450.2L483.61 450.65L484.31 451.11L484.84 451.56L485.29 452.02L485.68 452.47L486.03 452.93L486.35 453.38L486.64 453.84L486.8 454.29L486.88 454.75L486.95 455.2L487.02 455.66L487.08 456.12L487.13 456.57L487.18 457.02L487.22 457.48L487.25 457.94L487.27 458.39L487.29 458.84L487.3 459.3L487.3 459.75L487.29 460.21L487.28 460.66L487.26 461.12L487.24 461.57L487.2 462.03L487.16 462.48L487.11 462.94L487.06 463.39L486.99 463.85L486.92 464.3L486.74 464.76L486.46 465.21L486.16 465.67L485.82 466.12L485.45 466.58L485.02 467.03L484.51 467.49L483.84 467.94L482.03 468.4L481.73 468.4L481.89 467.94L482.04 467.49L482.19 467.03L482.32 466.58L482.45 466.12L482.57 465.67L482.68 465.21L482.77 464.76L482.86 464.3L482.95 463.85L483.02 463.39L483.08 462.94L483.14 462.48L483.19 462.03L483.23 461.57L483.26 461.12L483.28 460.66L483.29 460.21L483.3 459.75L483.3 459.3L483.29 458.84L483.27 458.39L483.24 457.94L483.21 457.48L483.16 457.02L483.11 456.57L483.05 456.12L482.98 455.66L482.9 455.2L482.82 454.75L482.72 454.29L482.62 453.84L482.51 453.38L482.38 452.93L482.25 452.47L482.11 452.02L481.96 451.56L481.8 451.11L481.63 450.65L481.45 450.2Z" fill="#E400E4"/><rect x="382.3" y="409.3" width="26.6" height="13.6" fill="none" stroke="#062828" stroke-width="0.95"/><text x="395.7" y="419.64" text-anchor="middle" class="pl" textLength="18.3" stroke="#082020" stroke-width="0.3" lengthAdjust="spacingAndGlyphs">CD16</text><rect x="382.4" y="405.2" width="14" height="1.1" fill="#004848" opacity="0.4"/><rect x="524.4" y="400.1" width="13.6" height="7.1" fill="#fff"/><text x="524.8" y="404.3" class="an" textLength="12.4" lengthAdjust="spacingAndGlyphs" stroke="#000" stroke-width="0.08">ANSYS</text><rect x="530.2" y="405.5" width="6.8" height="1.0" fill="#804070" opacity="0.75"/></svg>
</svg>
</body></html>
